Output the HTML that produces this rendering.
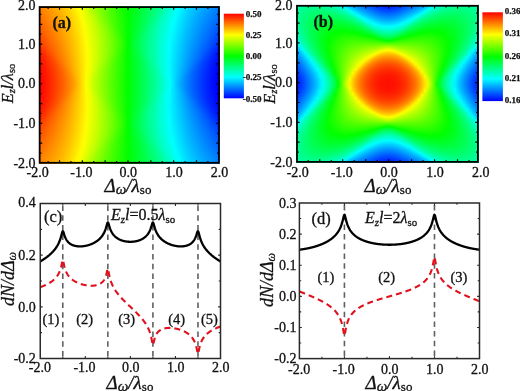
<!DOCTYPE html>
<html><head><meta charset="utf-8"><title>figure</title>
<style>
html,body{margin:0;padding:0;background:#fff}
body{width:520px;height:391px;position:relative;overflow:hidden;font-family:"Liberation Serif","DejaVu Serif",serif}
.hm{position:absolute;overflow:hidden}
.hm i{display:block;height:1px;width:100%}
svg{position:absolute;left:0;top:0}
text{font-family:"Liberation Serif","DejaVu Serif",serif;fill:#111;stroke:#111;stroke-width:.3px}
.t{font-size:14px}
.it{font-style:italic}
.cb{font-size:9px;font-weight:bold;stroke-width:.25px}
</style></head><body>
<div class="hm" style="left:39px;top:6px;width:181px;height:158px"><i style="background:linear-gradient(90deg,#ff8200,#ff8900,#ff9000,#ff9700,#ff9f00,#ffa600,#ffae00,#ffb700,#ffc000,#ffca00,#ffd500,#ffe100,#ffee00,#fffd00,#f1ff00,#dfff00,#ccff00,#b9ff00,#a8ff00,#98ff00,#88ff00,#78ff00,#69ff00,#5bff00,#4dff00,#40ff00,#33ff00,#26ff00,#1aff00,#0dff00,#00ff01,#00ff0d,#00ff19,#00ff25,#00ff32,#00ff3e,#00ff4c,#00ff59,#00ff67,#00ff75,#00ff84,#00ff94,#00ffa3,#00ffb4,#00ffc6,#00ffd9,#00ffea,#00fffa,#00f6ff,#00e9ff,#00ddff,#00d1ff,#00c7ff,#00beff,#00b5ff,#00acff,#00a4ff,#009cff,#0094ff,#008cff,#0085ff,#007dff)"></i><i style="background:linear-gradient(90deg,#ff8000,#ff8700,#ff8f00,#ff9600,#ff9d00,#ffa500,#ffad00,#ffb500,#ffbf00,#ffc900,#ffd300,#ffdf00,#ffec00,#fffb00,#f4ff00,#e2ff00,#cfff00,#bcff00,#aaff00,#99ff00,#89ff00,#7aff00,#6aff00,#5cff00,#4eff00,#40ff00,#33ff00,#26ff00,#1aff00,#0eff00,#00ff01,#00ff0d,#00ff19,#00ff26,#00ff32,#00ff3f,#00ff4c,#00ff5a,#00ff68,#00ff77,#00ff86,#00ff95,#00ffa5,#00ffb7,#00ffc9,#00ffdc,#00ffed,#00fffc,#00f4ff,#00e7ff,#00dbff,#00d0ff,#00c6ff,#00bcff,#00b3ff,#00aaff,#00a2ff,#009aff,#0092ff,#008bff,#0083ff,#007bff)"></i><i style="background:linear-gradient(90deg,#ff7e00,#ff8600,#ff8d00,#ff9400,#ff9c00,#ffa300,#ffab00,#ffb400,#ffbd00,#ffc700,#ffd200,#ffde00,#ffeb00,#fff900,#f6ff00,#e5ff00,#d2ff00,#beff00,#acff00,#9bff00,#8bff00,#7bff00,#6cff00,#5dff00,#4fff00,#41ff00,#34ff00,#27ff00,#1aff00,#0eff00,#00ff01,#00ff0d,#00ff1a,#00ff26,#00ff33,#00ff40,#00ff4d,#00ff5b,#00ff69,#00ff78,#00ff87,#00ff97,#00ffa8,#00ffb9,#00ffcd,#00ffdf,#00ffef,#00fffe,#00f2ff,#00e5ff,#00d9ff,#00ceff,#00c4ff,#00baff,#00b1ff,#00a9ff,#00a1ff,#0099ff,#0091ff,#0089ff,#0081ff,#0079ff)"></i><i style="background:linear-gradient(90deg,#ff7c00,#ff8400,#ff8b00,#ff9300,#ff9a00,#ffa200,#ffaa00,#ffb300,#ffbc00,#ffc600,#ffd100,#ffdc00,#ffe900,#fff700,#f8ff00,#e7ff00,#d5ff00,#c1ff00,#aeff00,#9dff00,#8cff00,#7cff00,#6dff00,#5eff00,#4fff00,#42ff00,#34ff00,#27ff00,#1aff00,#0eff00,#00ff01,#00ff0e,#00ff1a,#00ff26,#00ff33,#00ff41,#00ff4e,#00ff5c,#00ff6a,#00ff79,#00ff89,#00ff99,#00ffaa,#00ffbc,#00ffd0,#00ffe1,#00fff1,#00feff,#00f0ff,#00e3ff,#00d8ff,#00cdff,#00c2ff,#00b9ff,#00b0ff,#00a7ff,#009fff,#0097ff,#008fff,#0087ff,#007fff,#0077ff)"></i><i style="background:linear-gradient(90deg,#ff7a00,#ff8200,#ff8a00,#ff9100,#ff9900,#ffa000,#ffa900,#ffb100,#ffba00,#ffc400,#ffcf00,#ffdb00,#ffe800,#fff500,#faff00,#eaff00,#d8ff00,#c4ff00,#b1ff00,#9fff00,#8eff00,#7dff00,#6eff00,#5fff00,#50ff00,#42ff00,#35ff00,#27ff00,#1bff00,#0eff00,#00ff01,#00ff0e,#00ff1a,#00ff27,#00ff34,#00ff41,#00ff4f,#00ff5d,#00ff6c,#00ff7b,#00ff8b,#00ff9b,#00ffac,#00ffc0,#00ffd3,#00ffe4,#00fff3,#00fcff,#00eeff,#00e2ff,#00d6ff,#00cbff,#00c1ff,#00b7ff,#00aeff,#00a6ff,#009dff,#0095ff,#008dff,#0085ff,#007dff,#0075ff)"></i><i style="background:linear-gradient(90deg,#ff7900,#ff8000,#ff8800,#ff8f00,#ff9700,#ff9f00,#ffa700,#ffb000,#ffb900,#ffc300,#ffce00,#ffda00,#ffe600,#fff400,#fbff00,#ecff00,#dbff00,#c8ff00,#b3ff00,#a1ff00,#8fff00,#7fff00,#6fff00,#60ff00,#51ff00,#43ff00,#35ff00,#28ff00,#1bff00,#0eff00,#00ff01,#00ff0e,#00ff1a,#00ff27,#00ff35,#00ff42,#00ff50,#00ff5e,#00ff6d,#00ff7c,#00ff8c,#00ff9d,#00ffaf,#00ffc3,#00ffd5,#00ffe6,#00fff5,#00faff,#00edff,#00e0ff,#00d4ff,#00caff,#00bfff,#00b6ff,#00adff,#00a4ff,#009cff,#0093ff,#008bff,#0083ff,#007bff,#0073ff)"></i><i style="background:linear-gradient(90deg,#ff7700,#ff7f00,#ff8600,#ff8e00,#ff9600,#ff9d00,#ffa600,#ffae00,#ffb800,#ffc200,#ffcd00,#ffd800,#ffe500,#fff200,#fdff00,#eeff00,#ddff00,#cbff00,#b6ff00,#a3ff00,#91ff00,#80ff00,#70ff00,#61ff00,#52ff00,#44ff00,#36ff00,#28ff00,#1bff00,#0eff00,#00ff01,#00ff0e,#00ff1b,#00ff28,#00ff35,#00ff43,#00ff51,#00ff5f,#00ff6e,#00ff7e,#00ff8e,#00ff9f,#00ffb2,#00ffc6,#00ffd8,#00ffe8,#00fff7,#00f8ff,#00ebff,#00dfff,#00d3ff,#00c8ff,#00beff,#00b4ff,#00abff,#00a2ff,#009aff,#0092ff,#008aff,#0081ff,#0079ff,#0071ff)"></i><i style="background:linear-gradient(90deg,#ff7500,#ff7d00,#ff8500,#ff8c00,#ff9400,#ff9c00,#ffa400,#ffad00,#ffb600,#ffc000,#ffcb00,#ffd700,#ffe300,#fff100,#ffff00,#efff00,#dfff00,#cdff00,#baff00,#a5ff00,#93ff00,#82ff00,#72ff00,#62ff00,#53ff00,#45ff00,#36ff00,#29ff00,#1bff00,#0eff00,#00ff01,#00ff0e,#00ff1b,#00ff28,#00ff36,#00ff44,#00ff52,#00ff61,#00ff70,#00ff80,#00ff90,#00ffa2,#00ffb6,#00ffc9,#00ffda,#00ffea,#00fff9,#00f7ff,#00eaff,#00ddff,#00d2ff,#00c7ff,#00bcff,#00b3ff,#00aaff,#00a1ff,#0098ff,#0090ff,#0088ff,#0080ff,#0077ff,#006fff)"></i><i style="background:linear-gradient(90deg,#ff7300,#ff7b00,#ff8300,#ff8b00,#ff9300,#ff9b00,#ffa300,#ffac00,#ffb500,#ffbf00,#ffca00,#ffd600,#ffe200,#ffef00,#fffe00,#f1ff00,#e1ff00,#d0ff00,#bdff00,#a8ff00,#95ff00,#84ff00,#73ff00,#63ff00,#54ff00,#45ff00,#37ff00,#29ff00,#1cff00,#0eff00,#00ff01,#00ff0e,#00ff1b,#00ff29,#00ff36,#00ff44,#00ff53,#00ff62,#00ff71,#00ff81,#00ff92,#00ffa5,#00ffb9,#00ffcb,#00ffdc,#00ffec,#00fffb,#00f5ff,#00e8ff,#00dcff,#00d0ff,#00c5ff,#00bbff,#00b1ff,#00a8ff,#009fff,#0097ff,#008eff,#0086ff,#007eff,#0075ff,#006dff)"></i><i style="background:linear-gradient(90deg,#ff7100,#ff7900,#ff8100,#ff8900,#ff9100,#ff9900,#ffa200,#ffab00,#ffb400,#ffbe00,#ffc900,#ffd400,#ffe100,#ffee00,#fffc00,#f3ff00,#e3ff00,#d2ff00,#c0ff00,#abff00,#98ff00,#86ff00,#75ff00,#65ff00,#55ff00,#46ff00,#38ff00,#2aff00,#1cff00,#0fff00,#00ff01,#00ff0e,#00ff1c,#00ff29,#00ff37,#00ff45,#00ff54,#00ff63,#00ff73,#00ff83,#00ff95,#00ffa8,#00ffbc,#00ffce,#00ffde,#00ffee,#00fffc,#00f4ff,#00e7ff,#00daff,#00cfff,#00c4ff,#00baff,#00b0ff,#00a7ff,#009eff,#0095ff,#008dff,#0084ff,#007cff,#0073ff,#006bff)"></i><i style="background:linear-gradient(90deg,#ff6f00,#ff7800,#ff8000,#ff8800,#ff9000,#ff9800,#ffa000,#ffa900,#ffb300,#ffbd00,#ffc800,#ffd300,#ffe000,#ffed00,#fffb00,#f4ff00,#e4ff00,#d4ff00,#c2ff00,#afff00,#9aff00,#87ff00,#76ff00,#66ff00,#56ff00,#47ff00,#38ff00,#2aff00,#1cff00,#0fff00,#00ff01,#00ff0f,#00ff1c,#00ff2a,#00ff38,#00ff46,#00ff55,#00ff64,#00ff74,#00ff85,#00ff97,#00ffab,#00ffbe,#00ffd0,#00ffe0,#00ffef,#00fffe,#00f2ff,#00e5ff,#00d9ff,#00cdff,#00c2ff,#00b8ff,#00aeff,#00a5ff,#009cff,#0094ff,#008bff,#0083ff,#007aff,#0072ff,#0069ff)"></i><i style="background:linear-gradient(90deg,#ff6e00,#ff7600,#ff7e00,#ff8600,#ff8e00,#ff9600,#ff9f00,#ffa800,#ffb200,#ffbc00,#ffc600,#ffd200,#ffde00,#ffeb00,#fff900,#f6ff00,#e6ff00,#d6ff00,#c4ff00,#b2ff00,#9dff00,#8aff00,#78ff00,#67ff00,#57ff00,#48ff00,#39ff00,#2bff00,#1dff00,#0fff00,#00ff01,#00ff0f,#00ff1c,#00ff2a,#00ff39,#00ff47,#00ff56,#00ff66,#00ff76,#00ff87,#00ff9a,#00ffaf,#00ffc1,#00ffd2,#00ffe2,#00fff1,#00ffff,#00f1ff,#00e4ff,#00d8ff,#00ccff,#00c1ff,#00b7ff,#00adff,#00a4ff,#009bff,#0092ff,#0089ff,#0081ff,#0078ff,#0070ff,#0067ff)"></i><i style="background:linear-gradient(90deg,#ff6c00,#ff7400,#ff7c00,#ff8500,#ff8d00,#ff9500,#ff9e00,#ffa700,#ffb000,#ffba00,#ffc500,#ffd100,#ffdd00,#ffea00,#fff800,#f7ff00,#e8ff00,#d7ff00,#c6ff00,#b4ff00,#a0ff00,#8cff00,#7aff00,#69ff00,#58ff00,#49ff00,#3aff00,#2bff00,#1dff00,#0fff00,#00ff01,#00ff0f,#00ff1d,#00ff2b,#00ff39,#00ff48,#00ff57,#00ff67,#00ff78,#00ff8a,#00ff9e,#00ffb1,#00ffc3,#00ffd4,#00ffe3,#00fff3,#00fdff,#00efff,#00e2ff,#00d6ff,#00cbff,#00c0ff,#00b5ff,#00acff,#00a2ff,#0099ff,#0090ff,#0088ff,#007fff,#0076ff,#006eff,#0065ff)"></i><i style="background:linear-gradient(90deg,#ff6a00,#ff7200,#ff7b00,#ff8300,#ff8b00,#ff9400,#ff9c00,#ffa600,#ffaf00,#ffb900,#ffc400,#ffd000,#ffdc00,#ffe900,#fff700,#f8ff00,#e9ff00,#d9ff00,#c8ff00,#b6ff00,#a3ff00,#8fff00,#7cff00,#6aff00,#5aff00,#4aff00,#3bff00,#2cff00,#1dff00,#0fff00,#00ff01,#00ff0f,#00ff1d,#00ff2b,#00ff3a,#00ff49,#00ff59,#00ff69,#00ff7a,#00ff8d,#00ffa1,#00ffb4,#00ffc5,#00ffd5,#00ffe5,#00fff4,#00fcff,#00eeff,#00e1ff,#00d5ff,#00c9ff,#00beff,#00b4ff,#00aaff,#00a1ff,#0098ff,#008fff,#0086ff,#007dff,#0075ff,#006cff,#0063ff)"></i><i style="background:linear-gradient(90deg,#ff6800,#ff7100,#ff7900,#ff8100,#ff8a00,#ff9200,#ff9b00,#ffa400,#ffae00,#ffb800,#ffc300,#ffcf00,#ffdb00,#ffe800,#fff600,#faff00,#ebff00,#dbff00,#caff00,#b9ff00,#a6ff00,#91ff00,#7eff00,#6cff00,#5bff00,#4bff00,#3bff00,#2cff00,#1eff00,#0fff00,#00ff01,#00ff0f,#00ff1e,#00ff2c,#00ff3b,#00ff4a,#00ff5a,#00ff6b,#00ff7c,#00ff90,#00ffa4,#00ffb6,#00ffc7,#00ffd7,#00ffe7,#00fff5,#00faff,#00edff,#00e0ff,#00d4ff,#00c8ff,#00bdff,#00b3ff,#00a9ff,#009fff,#0096ff,#008dff,#0084ff,#007cff,#0073ff,#006aff,#0061ff)"></i><i style="background:linear-gradient(90deg,#ff6600,#ff6f00,#ff7700,#ff8000,#ff8800,#ff9100,#ff9a00,#ffa300,#ffad00,#ffb700,#ffc200,#ffcd00,#ffda00,#ffe700,#fff500,#fbff00,#ecff00,#dcff00,#ccff00,#bbff00,#a8ff00,#95ff00,#80ff00,#6eff00,#5cff00,#4cff00,#3cff00,#2dff00,#1eff00,#10ff00,#00ff01,#00ff0f,#00ff1e,#00ff2d,#00ff3c,#00ff4b,#00ff5c,#00ff6c,#00ff7f,#00ff93,#00ffa6,#00ffb8,#00ffc9,#00ffd9,#00ffe8,#00fff7,#00f9ff,#00ebff,#00dfff,#00d2ff,#00c7ff,#00bcff,#00b1ff,#00a7ff,#009eff,#0095ff,#008cff,#0083ff,#007aff,#0071ff,#0068ff,#005fff)"></i><i style="background:linear-gradient(90deg,#ff6400,#ff6d00,#ff7600,#ff7e00,#ff8700,#ff9000,#ff9900,#ffa200,#ffac00,#ffb600,#ffc100,#ffcc00,#ffd900,#ffe600,#fff300,#fcff00,#edff00,#deff00,#cdff00,#bcff00,#abff00,#98ff00,#83ff00,#70ff00,#5eff00,#4dff00,#3dff00,#2eff00,#1fff00,#10ff00,#00ff01,#00ff10,#00ff1e,#00ff2d,#00ff3d,#00ff4d,#00ff5d,#00ff6e,#00ff81,#00ff96,#00ffa8,#00ffba,#00ffca,#00ffda,#00ffea,#00fff8,#00f8ff,#00eaff,#00ddff,#00d1ff,#00c6ff,#00bbff,#00b0ff,#00a6ff,#009dff,#0093ff,#008aff,#0081ff,#0078ff,#006fff,#0066ff,#005dff)"></i><i style="background:linear-gradient(90deg,#ff6300,#ff6b00,#ff7400,#ff7d00,#ff8600,#ff8e00,#ff9700,#ffa100,#ffab00,#ffb500,#ffc000,#ffcb00,#ffd800,#ffe500,#fff200,#fdff00,#eeff00,#dfff00,#cfff00,#beff00,#adff00,#9aff00,#86ff00,#72ff00,#60ff00,#4eff00,#3eff00,#2eff00,#1fff00,#10ff00,#00ff01,#00ff10,#00ff1f,#00ff2e,#00ff3e,#00ff4e,#00ff5f,#00ff71,#00ff84,#00ff98,#00ffaa,#00ffbc,#00ffcc,#00ffdc,#00ffeb,#00fff9,#00f6ff,#00e9ff,#00dcff,#00d0ff,#00c4ff,#00b9ff,#00afff,#00a5ff,#009bff,#0092ff,#0089ff,#0080ff,#0077ff,#006dff,#0064ff,#005bff)"></i><i style="background:linear-gradient(90deg,#ff6100,#ff6a00,#ff7300,#ff7b00,#ff8400,#ff8d00,#ff9600,#ffa000,#ffa900,#ffb400,#ffbf00,#ffca00,#ffd700,#ffe400,#fff100,#feff00,#f0ff00,#e0ff00,#d0ff00,#c0ff00,#aeff00,#9cff00,#89ff00,#74ff00,#61ff00,#50ff00,#3fff00,#2fff00,#1fff00,#10ff00,#00ff01,#00ff10,#00ff1f,#00ff2f,#00ff3f,#00ff4f,#00ff60,#00ff73,#00ff88,#00ff9b,#00ffac,#00ffbd,#00ffcd,#00ffdd,#00ffec,#00fffb,#00f5ff,#00e8ff,#00dbff,#00cfff,#00c3ff,#00b8ff,#00aeff,#00a4ff,#009aff,#0090ff,#0087ff,#007eff,#0075ff,#006cff,#0062ff,#0059ff)"></i><i style="background:linear-gradient(90deg,#ff5f00,#ff6800,#ff7100,#ff7a00,#ff8300,#ff8c00,#ff9500,#ff9e00,#ffa800,#ffb300,#ffbe00,#ffc900,#ffd600,#ffe300,#fff000,#fffe00,#f1ff00,#e1ff00,#d1ff00,#c1ff00,#b0ff00,#9eff00,#8bff00,#77ff00,#63ff00,#51ff00,#40ff00,#30ff00,#20ff00,#10ff00,#00ff01,#00ff10,#00ff20,#00ff30,#00ff40,#00ff51,#00ff62,#00ff76,#00ff8a,#00ff9d,#00ffae,#00ffbf,#00ffcf,#00ffde,#00ffed,#00fffc,#00f4ff,#00e7ff,#00daff,#00ceff,#00c2ff,#00b7ff,#00acff,#00a2ff,#0098ff,#008fff,#0086ff,#007cff,#0073ff,#006aff,#0060ff,#0057ff)"></i><i style="background:linear-gradient(90deg,#ff5d00,#ff6600,#ff6f00,#ff7800,#ff8100,#ff8a00,#ff9400,#ff9d00,#ffa700,#ffb200,#ffbd00,#ffc800,#ffd500,#ffe200,#ffef00,#fffd00,#f2ff00,#e3ff00,#d3ff00,#c2ff00,#b2ff00,#a0ff00,#8eff00,#7aff00,#65ff00,#53ff00,#41ff00,#31ff00,#20ff00,#11ff00,#00ff01,#00ff11,#00ff20,#00ff30,#00ff41,#00ff52,#00ff65,#00ff79,#00ff8d,#00ff9f,#00ffb0,#00ffc0,#00ffd0,#00ffe0,#00ffef,#00fffd,#00f3ff,#00e6ff,#00d9ff,#00cdff,#00c1ff,#00b6ff,#00abff,#00a1ff,#0097ff,#008dff,#0084ff,#007bff,#0071ff,#0068ff,#005eff,#0054ff)"></i><i style="background:linear-gradient(90deg,#ff5b00,#ff6400,#ff6e00,#ff7700,#ff8000,#ff8900,#ff9200,#ff9c00,#ffa600,#ffb100,#ffbc00,#ffc700,#ffd400,#ffe100,#ffee00,#fffc00,#f3ff00,#e4ff00,#d4ff00,#c4ff00,#b3ff00,#a2ff00,#90ff00,#7dff00,#68ff00,#54ff00,#43ff00,#31ff00,#21ff00,#11ff00,#00ff01,#00ff11,#00ff21,#00ff31,#00ff42,#00ff54,#00ff67,#00ff7c,#00ff8f,#00ffa0,#00ffb1,#00ffc2,#00ffd2,#00ffe1,#00fff0,#00fffe,#00f2ff,#00e4ff,#00d8ff,#00cbff,#00c0ff,#00b5ff,#00aaff,#00a0ff,#0096ff,#008cff,#0082ff,#0079ff,#0070ff,#0066ff,#005cff,#0052ff)"></i><i style="background:linear-gradient(90deg,#ff5900,#ff6300,#ff6c00,#ff7500,#ff7e00,#ff8800,#ff9100,#ff9b00,#ffa500,#ffb000,#ffbb00,#ffc700,#ffd300,#ffe000,#ffed00,#fffb00,#f4ff00,#e5ff00,#d5ff00,#c5ff00,#b4ff00,#a3ff00,#92ff00,#7fff00,#6aff00,#56ff00,#44ff00,#32ff00,#22ff00,#11ff00,#00ff01,#00ff11,#00ff21,#00ff32,#00ff43,#00ff56,#00ff6a,#00ff7e,#00ff91,#00ffa2,#00ffb3,#00ffc3,#00ffd3,#00ffe2,#00fff1,#00ffff,#00f1ff,#00e3ff,#00d7ff,#00caff,#00bfff,#00b3ff,#00a9ff,#009eff,#0094ff,#008bff,#0081ff,#0077ff,#006eff,#0064ff,#005aff,#0050ff)"></i><i style="background:linear-gradient(90deg,#ff5700,#ff6100,#ff6a00,#ff7400,#ff7d00,#ff8600,#ff9000,#ff9a00,#ffa400,#ffaf00,#ffba00,#ffc600,#ffd200,#ffdf00,#ffec00,#fffb00,#f5ff00,#e6ff00,#d6ff00,#c6ff00,#b6ff00,#a5ff00,#93ff00,#81ff00,#6dff00,#58ff00,#45ff00,#33ff00,#22ff00,#11ff00,#00ff01,#00ff11,#00ff22,#00ff33,#00ff45,#00ff58,#00ff6d,#00ff80,#00ff92,#00ffa3,#00ffb4,#00ffc4,#00ffd4,#00ffe3,#00fff2,#00feff,#00f0ff,#00e2ff,#00d6ff,#00c9ff,#00beff,#00b2ff,#00a7ff,#009dff,#0093ff,#0089ff,#007fff,#0076ff,#006cff,#0062ff,#0058ff,#004eff)"></i><i style="background:linear-gradient(90deg,#ff5500,#ff5f00,#ff6900,#ff7200,#ff7b00,#ff8500,#ff8f00,#ff9900,#ffa300,#ffae00,#ffb900,#ffc500,#ffd100,#ffde00,#ffec00,#fffa00,#f6ff00,#e7ff00,#d7ff00,#c7ff00,#b7ff00,#a6ff00,#95ff00,#83ff00,#70ff00,#5bff00,#47ff00,#34ff00,#23ff00,#12ff00,#00ff01,#00ff12,#00ff23,#00ff34,#00ff46,#00ff5a,#00ff6f,#00ff82,#00ff94,#00ffa5,#00ffb5,#00ffc5,#00ffd5,#00ffe4,#00fff3,#00fdff,#00efff,#00e1ff,#00d5ff,#00c8ff,#00bcff,#00b1ff,#00a6ff,#009cff,#0092ff,#0088ff,#007eff,#0074ff,#006aff,#0060ff,#0056ff,#004cff)"></i><i style="background:linear-gradient(90deg,#ff5300,#ff5d00,#ff6700,#ff7000,#ff7a00,#ff8400,#ff8d00,#ff9700,#ffa200,#ffad00,#ffb800,#ffc400,#ffd000,#ffdd00,#ffeb00,#fff900,#f7ff00,#e8ff00,#d8ff00,#c8ff00,#b8ff00,#a7ff00,#96ff00,#85ff00,#72ff00,#5dff00,#49ff00,#36ff00,#24ff00,#12ff00,#00ff01,#00ff12,#00ff23,#00ff35,#00ff48,#00ff5d,#00ff71,#00ff84,#00ff95,#00ffa6,#00ffb7,#00ffc7,#00ffd6,#00ffe5,#00fff4,#00fcff,#00eeff,#00e0ff,#00d4ff,#00c7ff,#00bbff,#00b0ff,#00a5ff,#009aff,#0090ff,#0086ff,#007cff,#0072ff,#0069ff,#005eff,#0054ff,#004aff)"></i><i style="background:linear-gradient(90deg,#ff5100,#ff5b00,#ff6500,#ff6f00,#ff7900,#ff8200,#ff8c00,#ff9600,#ffa100,#ffac00,#ffb700,#ffc300,#ffcf00,#ffdc00,#ffea00,#fff800,#f8ff00,#e8ff00,#d9ff00,#c9ff00,#b9ff00,#a9ff00,#98ff00,#86ff00,#74ff00,#60ff00,#4bff00,#37ff00,#24ff00,#12ff00,#00ff01,#00ff12,#00ff24,#00ff37,#00ff4a,#00ff60,#00ff73,#00ff85,#00ff97,#00ffa7,#00ffb8,#00ffc8,#00ffd7,#00ffe6,#00fff5,#00fbff,#00edff,#00dfff,#00d3ff,#00c6ff,#00baff,#00afff,#00a4ff,#0099ff,#008fff,#0085ff,#007bff,#0071ff,#0067ff,#005dff,#0052ff,#0047ff)"></i><i style="background:linear-gradient(90deg,#ff4f00,#ff5900,#ff6300,#ff6d00,#ff7700,#ff8100,#ff8b00,#ff9500,#ffa000,#ffab00,#ffb600,#ffc200,#ffce00,#ffdb00,#ffe900,#fff700,#f8ff00,#e9ff00,#daff00,#caff00,#baff00,#aaff00,#99ff00,#87ff00,#75ff00,#62ff00,#4dff00,#38ff00,#25ff00,#13ff00,#00ff01,#00ff13,#00ff25,#00ff38,#00ff4d,#00ff62,#00ff75,#00ff87,#00ff98,#00ffa8,#00ffb9,#00ffc9,#00ffd8,#00ffe7,#00fff6,#00faff,#00ecff,#00deff,#00d2ff,#00c5ff,#00b9ff,#00aeff,#00a3ff,#0098ff,#008eff,#0083ff,#0079ff,#006fff,#0065ff,#005bff,#0050ff,#0045ff)"></i><i style="background:linear-gradient(90deg,#ff4d00,#ff5700,#ff6200,#ff6c00,#ff7600,#ff8000,#ff8a00,#ff9400,#ff9f00,#ffaa00,#ffb500,#ffc100,#ffce00,#ffdb00,#ffe800,#fff600,#f9ff00,#eaff00,#dbff00,#cbff00,#bbff00,#abff00,#9aff00,#89ff00,#77ff00,#64ff00,#4fff00,#3aff00,#26ff00,#13ff00,#00ff01,#00ff13,#00ff26,#00ff3a,#00ff4f,#00ff64,#00ff76,#00ff88,#00ff99,#00ffaa,#00ffba,#00ffc9,#00ffd9,#00ffe8,#00fff7,#00f9ff,#00ebff,#00deff,#00d1ff,#00c4ff,#00b8ff,#00adff,#00a1ff,#0097ff,#008cff,#0082ff,#0078ff,#006dff,#0063ff,#0059ff,#004eff,#0042ff)"></i><i style="background:linear-gradient(90deg,#ff4a00,#ff5500,#ff6000,#ff6a00,#ff7400,#ff7e00,#ff8800,#ff9300,#ff9e00,#ffa900,#ffb400,#ffc000,#ffcd00,#ffda00,#ffe800,#fff600,#faff00,#ebff00,#dcff00,#ccff00,#bcff00,#acff00,#9bff00,#8aff00,#78ff00,#65ff00,#52ff00,#3cff00,#27ff00,#14ff00,#00ff01,#00ff14,#00ff27,#00ff3c,#00ff51,#00ff65,#00ff77,#00ff89,#00ff9a,#00ffaa,#00ffbb,#00ffca,#00ffda,#00ffe9,#00fff8,#00f8ff,#00eaff,#00ddff,#00d0ff,#00c3ff,#00b7ff,#00acff,#00a0ff,#0095ff,#008bff,#0080ff,#0076ff,#006cff,#0061ff,#0056ff,#004bff,#0040ff)"></i><i style="background:linear-gradient(90deg,#ff4800,#ff5300,#ff5e00,#ff6800,#ff7300,#ff7d00,#ff8700,#ff9200,#ff9d00,#ffa800,#ffb300,#ffbf00,#ffcc00,#ffd900,#ffe700,#fff500,#fbff00,#ecff00,#dcff00,#cdff00,#bdff00,#acff00,#9cff00,#8bff00,#79ff00,#67ff00,#53ff00,#3eff00,#28ff00,#14ff00,#00ff01,#00ff14,#00ff28,#00ff3e,#00ff53,#00ff66,#00ff79,#00ff8a,#00ff9b,#00ffab,#00ffbb,#00ffcb,#00ffdb,#00ffea,#00fff8,#00f7ff,#00e9ff,#00dcff,#00cfff,#00c2ff,#00b6ff,#00aaff,#009fff,#0094ff,#0089ff,#007fff,#0074ff,#006aff,#005fff,#0054ff,#0049ff,#003dff)"></i><i style="background:linear-gradient(90deg,#ff4600,#ff5100,#ff5c00,#ff6700,#ff7100,#ff7b00,#ff8600,#ff9100,#ff9b00,#ffa700,#ffb200,#ffbf00,#ffcb00,#ffd800,#ffe600,#fff400,#fbff00,#ecff00,#ddff00,#cdff00,#bdff00,#adff00,#9dff00,#8cff00,#7aff00,#68ff00,#55ff00,#40ff00,#2aff00,#15ff00,#00ff01,#00ff15,#00ff2a,#00ff40,#00ff55,#00ff68,#00ff7a,#00ff8b,#00ff9c,#00ffac,#00ffbc,#00ffcc,#00ffdb,#00ffeb,#00fff9,#00f6ff,#00e8ff,#00dbff,#00ceff,#00c1ff,#00b5ff,#00a9ff,#009eff,#0093ff,#0088ff,#007dff,#0073ff,#0068ff,#005dff,#0052ff,#0047ff,#003bff)"></i><i style="background:linear-gradient(90deg,#ff4400,#ff4f00,#ff5a00,#ff6500,#ff7000,#ff7a00,#ff8500,#ff8f00,#ff9a00,#ffa600,#ffb200,#ffbe00,#ffca00,#ffd800,#ffe500,#fff300,#fcff00,#edff00,#deff00,#ceff00,#beff00,#aeff00,#9dff00,#8cff00,#7bff00,#69ff00,#56ff00,#42ff00,#2cff00,#16ff00,#00ff01,#00ff16,#00ff2c,#00ff42,#00ff56,#00ff69,#00ff7a,#00ff8c,#00ff9d,#00ffad,#00ffbd,#00ffcd,#00ffdc,#00ffeb,#00fffa,#00f6ff,#00e8ff,#00daff,#00cdff,#00c0ff,#00b4ff,#00a8ff,#009dff,#0092ff,#0087ff,#007cff,#0071ff,#0066ff,#005bff,#0050ff,#0044ff,#0038ff)"></i><i style="background:linear-gradient(90deg,#ff4100,#ff4d00,#ff5800,#ff6300,#ff6e00,#ff7900,#ff8300,#ff8e00,#ff9900,#ffa500,#ffb100,#ffbd00,#ffca00,#ffd700,#ffe500,#fff300,#fdff00,#eeff00,#deff00,#cfff00,#bfff00,#aeff00,#9eff00,#8dff00,#7cff00,#6aff00,#57ff00,#43ff00,#2dff00,#16ff00,#00ff01,#00ff17,#00ff2d,#00ff43,#00ff57,#00ff69,#00ff7b,#00ff8c,#00ff9d,#00ffae,#00ffbe,#00ffcd,#00ffdd,#00ffec,#00fffb,#00f5ff,#00e7ff,#00d9ff,#00ccff,#00bfff,#00b3ff,#00a7ff,#009cff,#0090ff,#0085ff,#007aff,#0070ff,#0065ff,#0059ff,#004eff,#0042ff,#0035ff)"></i><i style="background:linear-gradient(90deg,#ff3f00,#ff4b00,#ff5600,#ff6100,#ff6c00,#ff7700,#ff8200,#ff8d00,#ff9800,#ffa400,#ffb000,#ffbc00,#ffc900,#ffd600,#ffe400,#fff200,#fdff00,#eeff00,#dfff00,#cfff00,#bfff00,#afff00,#9fff00,#8eff00,#7cff00,#6aff00,#58ff00,#44ff00,#2fff00,#18ff00,#00ff01,#00ff18,#00ff2f,#00ff44,#00ff58,#00ff6a,#00ff7c,#00ff8d,#00ff9e,#00ffae,#00ffbe,#00ffce,#00ffdd,#00ffed,#00fffb,#00f4ff,#00e6ff,#00d8ff,#00cbff,#00beff,#00b2ff,#00a6ff,#009aff,#008fff,#0084ff,#0079ff,#006eff,#0063ff,#0057ff,#004cff,#003fff,#0032ff)"></i><i style="background:linear-gradient(90deg,#ff3c00,#ff4800,#ff5400,#ff6000,#ff6b00,#ff7600,#ff8100,#ff8c00,#ff9700,#ffa300,#ffaf00,#ffbb00,#ffc800,#ffd600,#ffe300,#fff200,#feff00,#efff00,#dfff00,#d0ff00,#c0ff00,#b0ff00,#9fff00,#8eff00,#7dff00,#6bff00,#58ff00,#45ff00,#30ff00,#19ff00,#00ff01,#00ff19,#00ff30,#00ff45,#00ff58,#00ff6b,#00ff7d,#00ff8e,#00ff9e,#00ffaf,#00ffbf,#00ffcf,#00ffde,#00ffed,#00fffc,#00f3ff,#00e5ff,#00d8ff,#00caff,#00beff,#00b1ff,#00a5ff,#0099ff,#008eff,#0083ff,#0077ff,#006cff,#0061ff,#0055ff,#0049ff,#003dff,#002fff)"></i><i style="background:linear-gradient(90deg,#ff3900,#ff4600,#ff5200,#ff5e00,#ff6900,#ff7400,#ff7f00,#ff8b00,#ff9600,#ffa200,#ffae00,#ffbb00,#ffc800,#ffd500,#ffe300,#fff100,#feff00,#efff00,#e0ff00,#d0ff00,#c0ff00,#b0ff00,#9fff00,#8fff00,#7dff00,#6bff00,#59ff00,#46ff00,#31ff00,#1aff00,#00ff01,#00ff1a,#00ff31,#00ff46,#00ff59,#00ff6b,#00ff7d,#00ff8e,#00ff9f,#00ffaf,#00ffbf,#00ffcf,#00ffdf,#00ffee,#00fffd,#00f3ff,#00e5ff,#00d7ff,#00caff,#00bdff,#00b0ff,#00a4ff,#0098ff,#008dff,#0081ff,#0076ff,#006aff,#005fff,#0053ff,#0047ff,#003aff,#002bff)"></i><i style="background:linear-gradient(90deg,#ff3600,#ff4400,#ff5000,#ff5c00,#ff6700,#ff7300,#ff7e00,#ff8900,#ff9500,#ffa100,#ffad00,#ffba00,#ffc700,#ffd400,#ffe200,#fff000,#ffff00,#f0ff00,#e0ff00,#d1ff00,#c1ff00,#b0ff00,#a0ff00,#8fff00,#7eff00,#6cff00,#59ff00,#46ff00,#31ff00,#1bff00,#00ff01,#00ff1b,#00ff31,#00ff46,#00ff59,#00ff6c,#00ff7d,#00ff8f,#00ff9f,#00ffb0,#00ffc0,#00ffd0,#00ffdf,#00ffee,#00fffd,#00f2ff,#00e4ff,#00d6ff,#00c9ff,#00bcff,#00afff,#00a3ff,#0097ff,#008bff,#0080ff,#0074ff,#0069ff,#005dff,#0051ff,#0044ff,#0037ff,#0028ff)"></i><i style="background:linear-gradient(90deg,#ff3300,#ff4100,#ff4e00,#ff5a00,#ff6600,#ff7100,#ff7d00,#ff8800,#ff9400,#ffa000,#ffac00,#ffb900,#ffc600,#ffd400,#ffe200,#fff000,#ffff00,#f0ff00,#e1ff00,#d1ff00,#c1ff00,#b1ff00,#a0ff00,#8fff00,#7eff00,#6cff00,#59ff00,#46ff00,#31ff00,#1bff00,#00ff01,#00ff1b,#00ff31,#00ff46,#00ff59,#00ff6c,#00ff7e,#00ff8f,#00ffa0,#00ffb0,#00ffc0,#00ffd0,#00ffe0,#00ffef,#00fffe,#00f1ff,#00e3ff,#00d5ff,#00c8ff,#00bbff,#00aeff,#00a2ff,#0096ff,#008aff,#007eff,#0073ff,#0067ff,#005bff,#004fff,#0042ff,#0034ff,#0024ff)"></i><i style="background:linear-gradient(90deg,#ff2f00,#ff3e00,#ff4b00,#ff5800,#ff6400,#ff7000,#ff7b00,#ff8700,#ff9300,#ff9f00,#ffab00,#ffb800,#ffc500,#ffd300,#ffe100,#ffef00,#fffe00,#f1ff00,#e1ff00,#d1ff00,#c1ff00,#b1ff00,#a0ff00,#8fff00,#7eff00,#6cff00,#59ff00,#46ff00,#31ff00,#1aff00,#00ff01,#00ff1a,#00ff31,#00ff46,#00ff59,#00ff6c,#00ff7e,#00ff8f,#00ffa0,#00ffb0,#00ffc1,#00ffd1,#00ffe0,#00ffef,#00fffe,#00f1ff,#00e3ff,#00d5ff,#00c7ff,#00baff,#00adff,#00a1ff,#0095ff,#0089ff,#007dff,#0071ff,#0065ff,#0059ff,#004cff,#003fff,#0030ff,#0020ff)"></i><i style="background:linear-gradient(90deg,#ff2c00,#ff3b00,#ff4900,#ff5600,#ff6200,#ff6e00,#ff7a00,#ff8600,#ff9200,#ff9e00,#ffab00,#ffb700,#ffc500,#ffd200,#ffe000,#ffef00,#fffe00,#f1ff00,#e2ff00,#d2ff00,#c2ff00,#b1ff00,#a1ff00,#90ff00,#7eff00,#6cff00,#59ff00,#46ff00,#31ff00,#19ff00,#00ff01,#00ff19,#00ff31,#00ff46,#00ff59,#00ff6c,#00ff7e,#00ff8f,#00ffa0,#00ffb1,#00ffc1,#00ffd1,#00ffe1,#00fff0,#00ffff,#00f0ff,#00e2ff,#00d4ff,#00c6ff,#00b9ff,#00acff,#00a0ff,#0093ff,#0087ff,#007bff,#006fff,#0063ff,#0057ff,#004aff,#003cff,#002cff,#001dff)"></i><i style="background:linear-gradient(90deg,#ff2800,#ff3800,#ff4600,#ff5400,#ff6000,#ff6c00,#ff7800,#ff8400,#ff9100,#ff9d00,#ffaa00,#ffb700,#ffc400,#ffd200,#ffe000,#ffee00,#fffd00,#f1ff00,#e2ff00,#d2ff00,#c2ff00,#b1ff00,#a1ff00,#90ff00,#7eff00,#6cff00,#59ff00,#45ff00,#30ff00,#18ff00,#00ff01,#00ff18,#00ff30,#00ff45,#00ff59,#00ff6c,#00ff7e,#00ff8f,#00ffa0,#00ffb1,#00ffc1,#00ffd1,#00ffe1,#00fff0,#00feff,#00f0ff,#00e1ff,#00d3ff,#00c6ff,#00b8ff,#00abff,#009fff,#0092ff,#0086ff,#007aff,#006eff,#0061ff,#0054ff,#0047ff,#0039ff,#0028ff,#001aff)"></i><i style="background:linear-gradient(90deg,#ff2500,#ff3400,#ff4400,#ff5100,#ff5e00,#ff6b00,#ff7700,#ff8300,#ff8f00,#ff9c00,#ffa900,#ffb600,#ffc300,#ffd100,#ffdf00,#ffee00,#fffd00,#f2ff00,#e2ff00,#d2ff00,#c2ff00,#b2ff00,#a1ff00,#90ff00,#7eff00,#6cff00,#59ff00,#45ff00,#2fff00,#17ff00,#00ff01,#00ff17,#00ff2f,#00ff45,#00ff59,#00ff6c,#00ff7e,#00ff8f,#00ffa0,#00ffb1,#00ffc1,#00ffd2,#00ffe1,#00fff1,#00feff,#00efff,#00e1ff,#00d3ff,#00c5ff,#00b7ff,#00aaff,#009dff,#0091ff,#0084ff,#0078ff,#006cff,#005fff,#0052ff,#0044ff,#0035ff,#0025ff,#0018ff)"></i><i style="background:linear-gradient(90deg,#ff2200,#ff3100,#ff4100,#ff4f00,#ff5c00,#ff6900,#ff7500,#ff8200,#ff8e00,#ff9b00,#ffa800,#ffb500,#ffc300,#ffd100,#ffdf00,#ffed00,#fffd00,#f2ff00,#e2ff00,#d2ff00,#c2ff00,#b2ff00,#a1ff00,#8fff00,#7eff00,#6bff00,#58ff00,#43ff00,#2dff00,#16ff00,#00ff01,#00ff16,#00ff2d,#00ff44,#00ff58,#00ff6b,#00ff7d,#00ff8f,#00ffa0,#00ffb1,#00ffc2,#00ffd2,#00ffe2,#00fff1,#00feff,#00efff,#00e0ff,#00d2ff,#00c4ff,#00b6ff,#00a9ff,#009cff,#0090ff,#0083ff,#0077ff,#006aff,#005dff,#0050ff,#0041ff,#0031ff,#0022ff,#0015ff)"></i><i style="background:linear-gradient(90deg,#ff1f00,#ff2d00,#ff3d00,#ff4c00,#ff5a00,#ff6700,#ff7400,#ff8100,#ff8d00,#ff9a00,#ffa700,#ffb400,#ffc200,#ffd000,#ffde00,#ffed00,#fffc00,#f2ff00,#e3ff00,#d3ff00,#c2ff00,#b2ff00,#a1ff00,#8fff00,#7dff00,#6bff00,#57ff00,#42ff00,#2bff00,#15ff00,#00ff01,#00ff16,#00ff2b,#00ff42,#00ff57,#00ff6b,#00ff7d,#00ff8f,#00ffa0,#00ffb1,#00ffc2,#00ffd2,#00ffe2,#00fff2,#00fdff,#00eeff,#00dfff,#00d1ff,#00c3ff,#00b6ff,#00a8ff,#009bff,#008eff,#0082ff,#0075ff,#0068ff,#005bff,#004dff,#003eff,#002eff,#0020ff,#0013ff)"></i><i style="background:linear-gradient(90deg,#ff1d00,#ff2a00,#ff3a00,#ff4a00,#ff5800,#ff6500,#ff7200,#ff7f00,#ff8c00,#ff9900,#ffa600,#ffb300,#ffc100,#ffcf00,#ffde00,#ffed00,#fffc00,#f3ff00,#e3ff00,#d3ff00,#c2ff00,#b2ff00,#a0ff00,#8fff00,#7dff00,#6aff00,#56ff00,#40ff00,#2aff00,#15ff00,#00ff01,#00ff15,#00ff2a,#00ff40,#00ff56,#00ff6a,#00ff7d,#00ff8f,#00ffa0,#00ffb1,#00ffc2,#00ffd2,#00ffe2,#00fff2,#00fdff,#00eeff,#00dfff,#00d0ff,#00c2ff,#00b5ff,#00a7ff,#009aff,#008dff,#0080ff,#0073ff,#0066ff,#0059ff,#004aff,#003aff,#002bff,#001dff,#0010ff)"></i><i style="background:linear-gradient(90deg,#ff1a00,#ff2800,#ff3600,#ff4700,#ff5600,#ff6300,#ff7100,#ff7e00,#ff8b00,#ff9800,#ffa500,#ffb300,#ffc100,#ffcf00,#ffdd00,#ffec00,#fffc00,#f3ff00,#e3ff00,#d3ff00,#c2ff00,#b1ff00,#a0ff00,#8eff00,#7cff00,#69ff00,#55ff00,#3eff00,#29ff00,#14ff00,#00ff01,#00ff15,#00ff29,#00ff3e,#00ff55,#00ff69,#00ff7c,#00ff8e,#00ffa0,#00ffb1,#00ffc2,#00ffd2,#00ffe2,#00fff2,#00fcff,#00edff,#00deff,#00d0ff,#00c2ff,#00b4ff,#00a6ff,#0099ff,#008cff,#007fff,#0072ff,#0064ff,#0056ff,#0047ff,#0037ff,#0028ff,#001bff,#000eff)"></i><i style="background:linear-gradient(90deg,#ff1800,#ff2500,#ff3300,#ff4300,#ff5300,#ff6100,#ff6f00,#ff7c00,#ff8900,#ff9700,#ffa400,#ffb200,#ffc000,#ffce00,#ffdd00,#ffec00,#fffb00,#f3ff00,#e3ff00,#d3ff00,#c2ff00,#b1ff00,#a0ff00,#8eff00,#7bff00,#68ff00,#53ff00,#3dff00,#28ff00,#14ff00,#00ff01,#00ff14,#00ff28,#00ff3d,#00ff53,#00ff68,#00ff7b,#00ff8e,#00ffa0,#00ffb1,#00ffc2,#00ffd2,#00ffe2,#00fff2,#00fcff,#00edff,#00deff,#00cfff,#00c1ff,#00b3ff,#00a5ff,#0098ff,#008aff,#007dff,#0070ff,#0062ff,#0054ff,#0044ff,#0034ff,#0026ff,#0019ff,#000cff)"></i><i style="background:linear-gradient(90deg,#ff1600,#ff2300,#ff3000,#ff4000,#ff5000,#ff5f00,#ff6d00,#ff7b00,#ff8800,#ff9600,#ffa300,#ffb100,#ffbf00,#ffce00,#ffdc00,#ffec00,#fffb00,#f3ff00,#e3ff00,#d3ff00,#c2ff00,#b1ff00,#9fff00,#8dff00,#7bff00,#67ff00,#51ff00,#3bff00,#27ff00,#14ff00,#00ff01,#00ff14,#00ff27,#00ff3b,#00ff51,#00ff67,#00ff7a,#00ff8d,#00ff9f,#00ffb1,#00ffc2,#00ffd2,#00ffe3,#00fff3,#00fcff,#00ecff,#00ddff,#00cfff,#00c0ff,#00b2ff,#00a4ff,#0097ff,#0089ff,#007cff,#006eff,#0060ff,#0051ff,#0040ff,#0031ff,#0023ff,#0017ff,#000bff)"></i><i style="background:linear-gradient(90deg,#ff1400,#ff2100,#ff2e00,#ff3d00,#ff4d00,#ff5d00,#ff6b00,#ff7900,#ff8700,#ff9500,#ffa200,#ffb000,#ffbf00,#ffcd00,#ffdc00,#ffeb00,#fffb00,#f3ff00,#e3ff00,#d3ff00,#c2ff00,#b1ff00,#9fff00,#8dff00,#79ff00,#65ff00,#4fff00,#3aff00,#26ff00,#13ff00,#00ff01,#00ff13,#00ff26,#00ff3a,#00ff4f,#00ff65,#00ff79,#00ff8c,#00ff9f,#00ffb0,#00ffc1,#00ffd2,#00ffe3,#00fff3,#00fbff,#00ecff,#00ddff,#00ceff,#00bfff,#00b1ff,#00a3ff,#0095ff,#0088ff,#007aff,#006cff,#005dff,#004eff,#003dff,#002eff,#0021ff,#0015ff,#0009ff)"></i><i style="background:linear-gradient(90deg,#ff1300,#ff1f00,#ff2c00,#ff3a00,#ff4a00,#ff5a00,#ff6900,#ff7800,#ff8500,#ff9300,#ffa100,#ffaf00,#ffbe00,#ffcd00,#ffdc00,#ffeb00,#fffb00,#f3ff00,#e3ff00,#d3ff00,#c2ff00,#b0ff00,#9eff00,#8cff00,#78ff00,#63ff00,#4dff00,#39ff00,#26ff00,#13ff00,#00ff01,#00ff13,#00ff26,#00ff39,#00ff4d,#00ff63,#00ff78,#00ff8c,#00ff9e,#00ffb0,#00ffc1,#00ffd2,#00ffe3,#00fff3,#00fbff,#00ecff,#00dcff,#00cdff,#00bfff,#00b0ff,#00a2ff,#0094ff,#0086ff,#0078ff,#006aff,#005bff,#004aff,#003aff,#002cff,#001fff,#0013ff,#0007ff)"></i><i style="background:linear-gradient(90deg,#ff1100,#ff1d00,#ff2a00,#ff3700,#ff4700,#ff5800,#ff6700,#ff7600,#ff8400,#ff9200,#ffa000,#ffaf00,#ffbd00,#ffcc00,#ffdb00,#ffeb00,#fffa00,#f4ff00,#e3ff00,#d2ff00,#c1ff00,#b0ff00,#9dff00,#8bff00,#77ff00,#61ff00,#4cff00,#38ff00,#25ff00,#13ff00,#00ff01,#00ff13,#00ff25,#00ff38,#00ff4c,#00ff61,#00ff77,#00ff8b,#00ff9d,#00ffaf,#00ffc1,#00ffd2,#00ffe3,#00fff3,#00fbff,#00ebff,#00dcff,#00cdff,#00beff,#00afff,#00a1ff,#0093ff,#0085ff,#0076ff,#0068ff,#0058ff,#0047ff,#0038ff,#002aff,#001dff,#0011ff,#0006ff)"></i><i style="background:linear-gradient(90deg,#ff0f00,#ff1b00,#ff2800,#ff3500,#ff4400,#ff5500,#ff6500,#ff7400,#ff8300,#ff9100,#ff9f00,#ffae00,#ffbc00,#ffcb00,#ffdb00,#ffea00,#fffa00,#f4ff00,#e3ff00,#d2ff00,#c1ff00,#afff00,#9dff00,#89ff00,#75ff00,#5fff00,#4aff00,#37ff00,#25ff00,#12ff00,#00ff01,#00ff13,#00ff25,#00ff37,#00ff4a,#00ff5f,#00ff75,#00ff89,#00ff9d,#00ffaf,#00ffc1,#00ffd2,#00ffe3,#00fff3,#00fbff,#00ebff,#00dbff,#00ccff,#00bdff,#00aeff,#00a0ff,#0092ff,#0083ff,#0075ff,#0065ff,#0055ff,#0044ff,#0035ff,#0028ff,#001bff,#000fff,#0004ff)"></i><i style="background:linear-gradient(90deg,#ff0e00,#ff1900,#ff2600,#ff3300,#ff4100,#ff5100,#ff6200,#ff7200,#ff8100,#ff9000,#ff9e00,#ffad00,#ffbc00,#ffcb00,#ffda00,#ffea00,#fffa00,#f4ff00,#e3ff00,#d2ff00,#c0ff00,#aeff00,#9cff00,#88ff00,#72ff00,#5dff00,#49ff00,#36ff00,#24ff00,#12ff00,#00ff01,#00ff12,#00ff24,#00ff36,#00ff49,#00ff5d,#00ff73,#00ff88,#00ff9c,#00ffae,#00ffc0,#00ffd2,#00ffe3,#00fff3,#00fbff,#00ebff,#00dbff,#00cbff,#00bcff,#00aeff,#009fff,#0090ff,#0082ff,#0073ff,#0063ff,#0052ff,#0041ff,#0033ff,#0026ff,#001aff,#000eff,#0003ff)"></i><i style="background:linear-gradient(90deg,#ff0c00,#ff1800,#ff2400,#ff3100,#ff3f00,#ff4e00,#ff6000,#ff7000,#ff7f00,#ff8e00,#ff9d00,#ffac00,#ffbb00,#ffca00,#ffda00,#ffea00,#fffa00,#f4ff00,#e3ff00,#d1ff00,#c0ff00,#adff00,#9aff00,#86ff00,#70ff00,#5bff00,#48ff00,#36ff00,#24ff00,#12ff00,#00ff01,#00ff12,#00ff24,#00ff36,#00ff48,#00ff5c,#00ff70,#00ff86,#00ff9a,#00ffad,#00ffc0,#00ffd1,#00ffe2,#00fff3,#00faff,#00eaff,#00daff,#00cbff,#00bcff,#00adff,#009eff,#008fff,#0080ff,#0070ff,#0060ff,#004fff,#003fff,#0031ff,#0024ff,#0018ff,#000cff,#0001ff)"></i><i style="background:linear-gradient(90deg,#ff0b00,#ff1600,#ff2200,#ff2f00,#ff3d00,#ff4c00,#ff5d00,#ff6e00,#ff7e00,#ff8d00,#ff9c00,#ffab00,#ffba00,#ffca00,#ffda00,#ffea00,#fffa00,#f3ff00,#e2ff00,#d1ff00,#bfff00,#adff00,#99ff00,#84ff00,#6eff00,#5aff00,#47ff00,#35ff00,#23ff00,#12ff00,#00ff01,#00ff12,#00ff23,#00ff35,#00ff47,#00ff5a,#00ff6e,#00ff84,#00ff99,#00ffac,#00ffbf,#00ffd1,#00ffe2,#00fff3,#00faff,#00eaff,#00daff,#00caff,#00bbff,#00acff,#009cff,#008dff,#007eff,#006eff,#005dff,#004cff,#003dff,#002fff,#0023ff,#0017ff,#000bff,#0000ff)"></i><i style="background:linear-gradient(90deg,#ff0a00,#ff1500,#ff2100,#ff2d00,#ff3b00,#ff4900,#ff5900,#ff6b00,#ff7c00,#ff8b00,#ff9b00,#ffaa00,#ffba00,#ffc900,#ffd900,#ffe900,#fffa00,#f3ff00,#e2ff00,#d0ff00,#beff00,#abff00,#98ff00,#82ff00,#6dff00,#59ff00,#46ff00,#34ff00,#23ff00,#12ff00,#00ff01,#00ff12,#00ff23,#00ff35,#00ff47,#00ff59,#00ff6d,#00ff82,#00ff98,#00ffab,#00ffbe,#00ffd0,#00ffe2,#00fff3,#00faff,#00eaff,#00daff,#00caff,#00baff,#00abff,#009bff,#008cff,#007cff,#006cff,#005aff,#0049ff,#003bff,#002eff,#0021ff,#0015ff,#000aff,#0000ff)"></i><i style="background:linear-gradient(90deg,#ff0800,#ff1400,#ff2000,#ff2c00,#ff3900,#ff4700,#ff5700,#ff6900,#ff7a00,#ff8a00,#ff9a00,#ffa900,#ffb900,#ffc900,#ffd900,#ffe900,#fffa00,#f3ff00,#e2ff00,#d0ff00,#bdff00,#aaff00,#96ff00,#80ff00,#6bff00,#58ff00,#46ff00,#34ff00,#23ff00,#11ff00,#00ff01,#00ff12,#00ff23,#00ff34,#00ff46,#00ff58,#00ff6b,#00ff80,#00ff96,#00ffaa,#00ffbd,#00ffd0,#00ffe2,#00fff3,#00faff,#00e9ff,#00d9ff,#00c9ff,#00b9ff,#00aaff,#009aff,#008aff,#007aff,#0069ff,#0057ff,#0047ff,#0039ff,#002cff,#0020ff,#0014ff,#0009ff,#0000ff)"></i><i style="background:linear-gradient(90deg,#ff0700,#ff1300,#ff1e00,#ff2a00,#ff3700,#ff4500,#ff5400,#ff6500,#ff7800,#ff8800,#ff9800,#ffa800,#ffb800,#ffc800,#ffd800,#ffe900,#fffa00,#f3ff00,#e1ff00,#cfff00,#bdff00,#a9ff00,#93ff00,#7eff00,#6aff00,#57ff00,#45ff00,#34ff00,#22ff00,#11ff00,#00ff01,#00ff11,#00ff22,#00ff34,#00ff45,#00ff57,#00ff6a,#00ff7e,#00ff93,#00ffa9,#00ffbc,#00ffcf,#00ffe1,#00fff3,#00faff,#00e9ff,#00d9ff,#00c8ff,#00b8ff,#00a9ff,#0099ff,#0089ff,#0078ff,#0066ff,#0055ff,#0045ff,#0038ff,#002bff,#001eff,#0013ff,#0007ff,#0000ff)"></i><i style="background:linear-gradient(90deg,#ff0600,#ff1100,#ff1d00,#ff2900,#ff3600,#ff4300,#ff5200,#ff6300,#ff7500,#ff8700,#ff9700,#ffa700,#ffb700,#ffc800,#ffd800,#ffe900,#fffa00,#f3ff00,#e1ff00,#ceff00,#bbff00,#a7ff00,#91ff00,#7cff00,#69ff00,#56ff00,#44ff00,#33ff00,#22ff00,#11ff00,#00ff01,#00ff11,#00ff22,#00ff33,#00ff45,#00ff56,#00ff69,#00ff7c,#00ff91,#00ffa7,#00ffbb,#00ffce,#00ffe1,#00fff3,#00faff,#00e9ff,#00d8ff,#00c8ff,#00b8ff,#00a7ff,#0097ff,#0087ff,#0075ff,#0063ff,#0052ff,#0044ff,#0036ff,#0029ff,#001dff,#0011ff,#0006ff,#0000ff)"></i><i style="background:linear-gradient(90deg,#ff0500,#ff1000,#ff1c00,#ff2800,#ff3400,#ff4200,#ff5000,#ff6000,#ff7200,#ff8500,#ff9600,#ffa600,#ffb700,#ffc700,#ffd800,#ffe900,#fffa00,#f2ff00,#e0ff00,#ceff00,#baff00,#a5ff00,#8fff00,#7bff00,#68ff00,#56ff00,#44ff00,#33ff00,#22ff00,#11ff00,#00ff01,#00ff11,#00ff22,#00ff33,#00ff44,#00ff56,#00ff68,#00ff7b,#00ff8f,#00ffa5,#00ffba,#00ffce,#00ffe0,#00fff2,#00faff,#00e9ff,#00d8ff,#00c7ff,#00b7ff,#00a6ff,#0096ff,#0085ff,#0072ff,#0060ff,#0050ff,#0042ff,#0035ff,#0028ff,#001cff,#0010ff,#0005ff,#0000ff)"></i><i style="background:linear-gradient(90deg,#ff0400,#ff0f00,#ff1b00,#ff2700,#ff3300,#ff4000,#ff4f00,#ff5e00,#ff6f00,#ff8200,#ff9400,#ffa500,#ffb600,#ffc600,#ffd700,#ffe900,#fffa00,#f2ff00,#e0ff00,#cdff00,#b9ff00,#a3ff00,#8dff00,#7aff00,#67ff00,#55ff00,#43ff00,#32ff00,#22ff00,#11ff00,#00ff01,#00ff11,#00ff22,#00ff33,#00ff44,#00ff55,#00ff67,#00ff7a,#00ff8d,#00ffa3,#00ffb9,#00ffcd,#00ffe0,#00fff2,#00faff,#00e9ff,#00d8ff,#00c7ff,#00b6ff,#00a5ff,#0094ff,#0083ff,#0070ff,#005eff,#004fff,#0041ff,#0033ff,#0027ff,#001bff,#000fff,#0004ff,#0000ff)"></i><i style="background:linear-gradient(90deg,#ff0300,#ff0e00,#ff1a00,#ff2600,#ff3200,#ff3f00,#ff4d00,#ff5c00,#ff6d00,#ff8000,#ff9200,#ffa400,#ffb500,#ffc600,#ffd700,#ffe800,#fffa00,#f2ff00,#dfff00,#ccff00,#b7ff00,#a0ff00,#8cff00,#78ff00,#66ff00,#54ff00,#43ff00,#32ff00,#21ff00,#11ff00,#00ff01,#00ff11,#00ff22,#00ff32,#00ff43,#00ff54,#00ff66,#00ff79,#00ff8c,#00ffa1,#00ffb7,#00ffcc,#00ffdf,#00fff2,#00faff,#00e9ff,#00d7ff,#00c6ff,#00b5ff,#00a4ff,#0092ff,#0080ff,#006dff,#005cff,#004dff,#003fff,#0032ff,#0026ff,#001aff,#000eff,#0003ff,#0000ff)"></i><i style="background:linear-gradient(90deg,#ff0300,#ff0e00,#ff1900,#ff2500,#ff3100,#ff3e00,#ff4c00,#ff5b00,#ff6b00,#ff7d00,#ff9000,#ffa200,#ffb400,#ffc500,#ffd700,#ffe800,#fffa00,#f1ff00,#deff00,#caff00,#b5ff00,#9fff00,#8aff00,#78ff00,#65ff00,#54ff00,#43ff00,#32ff00,#21ff00,#11ff00,#00ff01,#00ff11,#00ff21,#00ff32,#00ff43,#00ff54,#00ff65,#00ff78,#00ff8b,#00ff9f,#00ffb5,#00ffca,#00ffde,#00fff1,#00faff,#00e8ff,#00d7ff,#00c5ff,#00b4ff,#00a3ff,#0091ff,#007dff,#006bff,#005bff,#004cff,#003eff,#0031ff,#0025ff,#0019ff,#000eff,#0003ff,#0000ff)"></i><i style="background:linear-gradient(90deg,#ff0200,#ff0d00,#ff1800,#ff2400,#ff3000,#ff3d00,#ff4a00,#ff5900,#ff6900,#ff7b00,#ff8e00,#ffa100,#ffb300,#ffc500,#ffd600,#ffe800,#fffb00,#f1ff00,#ddff00,#c9ff00,#b2ff00,#9dff00,#89ff00,#77ff00,#65ff00,#53ff00,#42ff00,#31ff00,#21ff00,#11ff00,#00ff01,#00ff11,#00ff21,#00ff32,#00ff42,#00ff53,#00ff65,#00ff77,#00ff89,#00ff9d,#00ffb2,#00ffc9,#00ffdd,#00fff1,#00fbff,#00e8ff,#00d6ff,#00c5ff,#00b3ff,#00a1ff,#008eff,#007bff,#0069ff,#0059ff,#004aff,#003dff,#0030ff,#0024ff,#0018ff,#000dff,#0002ff,#0000ff)"></i><i style="background:linear-gradient(90deg,#ff0100,#ff0c00,#ff1700,#ff2300,#ff2f00,#ff3c00,#ff4900,#ff5800,#ff6700,#ff7800,#ff8c00,#ff9f00,#ffb200,#ffc400,#ffd600,#ffe800,#fffb00,#f0ff00,#dcff00,#c7ff00,#b0ff00,#9cff00,#88ff00,#76ff00,#64ff00,#53ff00,#42ff00,#31ff00,#21ff00,#11ff00,#00ff01,#00ff11,#00ff21,#00ff31,#00ff42,#00ff53,#00ff64,#00ff76,#00ff89,#00ff9c,#00ffb0,#00ffc7,#00ffdc,#00fff0,#00fbff,#00e8ff,#00d6ff,#00c4ff,#00b2ff,#009fff,#008cff,#0078ff,#0067ff,#0058ff,#0049ff,#003cff,#002fff,#0023ff,#0017ff,#000cff,#0001ff,#0000ff)"></i><i style="background:linear-gradient(90deg,#ff0100,#ff0b00,#ff1600,#ff2200,#ff2e00,#ff3b00,#ff4800,#ff5600,#ff6600,#ff7700,#ff8900,#ff9e00,#ffb100,#ffc300,#ffd600,#ffe800,#fffb00,#efff00,#dbff00,#c5ff00,#afff00,#9bff00,#88ff00,#75ff00,#64ff00,#52ff00,#42ff00,#31ff00,#21ff00,#11ff00,#00ff01,#00ff11,#00ff21,#00ff31,#00ff42,#00ff53,#00ff64,#00ff75,#00ff88,#00ff9b,#00ffaf,#00ffc5,#00ffdb,#00ffef,#00fbff,#00e8ff,#00d6ff,#00c3ff,#00b1ff,#009eff,#0089ff,#0076ff,#0066ff,#0056ff,#0048ff,#003bff,#002eff,#0022ff,#0016ff,#000bff,#0001ff,#0000ff)"></i><i style="background:linear-gradient(90deg,#ff0000,#ff0b00,#ff1600,#ff2100,#ff2d00,#ff3a00,#ff4700,#ff5500,#ff6500,#ff7500,#ff8700,#ff9c00,#ffaf00,#ffc200,#ffd500,#ffe800,#fffc00,#eeff00,#d9ff00,#c2ff00,#adff00,#9aff00,#87ff00,#75ff00,#63ff00,#52ff00,#41ff00,#31ff00,#21ff00,#10ff00,#00ff01,#00ff11,#00ff21,#00ff31,#00ff41,#00ff52,#00ff63,#00ff75,#00ff87,#00ff9a,#00ffad,#00ffc3,#00ffd9,#00ffef,#00fcff,#00e8ff,#00d5ff,#00c2ff,#00afff,#009cff,#0087ff,#0075ff,#0064ff,#0055ff,#0047ff,#003aff,#002dff,#0021ff,#0016ff,#000bff,#0000ff,#0000ff)"></i><i style="background:linear-gradient(90deg,#ff0000,#ff0a00,#ff1500,#ff2100,#ff2d00,#ff3900,#ff4600,#ff5400,#ff6300,#ff7400,#ff8500,#ff9900,#ffae00,#ffc200,#ffd500,#ffe800,#fffc00,#edff00,#d7ff00,#c1ff00,#acff00,#99ff00,#86ff00,#74ff00,#63ff00,#52ff00,#41ff00,#31ff00,#20ff00,#10ff00,#00ff01,#00ff11,#00ff21,#00ff31,#00ff41,#00ff52,#00ff63,#00ff74,#00ff86,#00ff99,#00ffac,#00ffc1,#00ffd8,#00ffee,#00fcff,#00e8ff,#00d5ff,#00c2ff,#00aeff,#0099ff,#0085ff,#0073ff,#0063ff,#0054ff,#0046ff,#0039ff,#002dff,#0021ff,#0015ff,#000aff,#0000ff,#0000ff)"></i><i style="background:linear-gradient(90deg,#ff0000,#ff0a00,#ff1500,#ff2000,#ff2c00,#ff3900,#ff4600,#ff5400,#ff6200,#ff7200,#ff8400,#ff9700,#ffac00,#ffc100,#ffd500,#ffe800,#fffd00,#ecff00,#d5ff00,#bfff00,#abff00,#98ff00,#85ff00,#74ff00,#62ff00,#51ff00,#41ff00,#30ff00,#20ff00,#10ff00,#00ff01,#00ff10,#00ff20,#00ff31,#00ff41,#00ff52,#00ff63,#00ff74,#00ff86,#00ff98,#00ffab,#00ffbf,#00ffd5,#00ffec,#00fcff,#00e8ff,#00d4ff,#00c1ff,#00acff,#0097ff,#0084ff,#0072ff,#0062ff,#0054ff,#0046ff,#0039ff,#002cff,#0020ff,#0015ff,#000aff,#0000ff,#0000ff)"></i><i style="background:linear-gradient(90deg,#ff0000,#ff0900,#ff1400,#ff2000,#ff2c00,#ff3800,#ff4500,#ff5300,#ff6200,#ff7100,#ff8200,#ff9500,#ffab00,#ffc000,#ffd400,#ffe900,#fffd00,#ebff00,#d3ff00,#beff00,#aaff00,#97ff00,#85ff00,#73ff00,#62ff00,#51ff00,#41ff00,#30ff00,#20ff00,#10ff00,#00ff01,#00ff10,#00ff20,#00ff30,#00ff41,#00ff51,#00ff62,#00ff73,#00ff85,#00ff97,#00ffaa,#00ffbe,#00ffd4,#00ffeb,#00fdff,#00e8ff,#00d4ff,#00c0ff,#00aaff,#0095ff,#0082ff,#0071ff,#0062ff,#0053ff,#0045ff,#0038ff,#002bff,#0020ff,#0014ff,#0009ff,#0000ff,#0000ff)"></i><i style="background:linear-gradient(90deg,#ff0000,#ff0900,#ff1400,#ff1f00,#ff2b00,#ff3800,#ff4500,#ff5200,#ff6100,#ff7000,#ff8100,#ff9400,#ffa800,#ffbf00,#ffd400,#ffe900,#fffe00,#e9ff00,#d2ff00,#bdff00,#aaff00,#97ff00,#85ff00,#73ff00,#62ff00,#51ff00,#40ff00,#30ff00,#20ff00,#10ff00,#00ff01,#00ff10,#00ff20,#00ff30,#00ff41,#00ff51,#00ff62,#00ff73,#00ff85,#00ff97,#00ffaa,#00ffbd,#00ffd2,#00ffe9,#00feff,#00e8ff,#00d4ff,#00beff,#00a8ff,#0094ff,#0081ff,#0070ff,#0061ff,#0052ff,#0044ff,#0037ff,#002bff,#001fff,#0014ff,#0009ff,#0000ff,#0000ff)"></i><i style="background:linear-gradient(90deg,#ff0000,#ff0900,#ff1400,#ff1f00,#ff2b00,#ff3700,#ff4400,#ff5200,#ff6000,#ff7000,#ff8000,#ff9300,#ffa700,#ffbd00,#ffd300,#ffe900,#ffff00,#e7ff00,#d1ff00,#bcff00,#a9ff00,#96ff00,#84ff00,#73ff00,#62ff00,#51ff00,#40ff00,#30ff00,#20ff00,#10ff00,#00ff01,#00ff10,#00ff20,#00ff30,#00ff40,#00ff51,#00ff62,#00ff73,#00ff84,#00ff96,#00ffa9,#00ffbd,#00ffd1,#00ffe7,#00ffff,#00e9ff,#00d3ff,#00bdff,#00a6ff,#0092ff,#0080ff,#0070ff,#0060ff,#0052ff,#0044ff,#0037ff,#002bff,#001fff,#0013ff,#0008ff,#0000ff,#0000ff)"></i><i style="background:linear-gradient(90deg,#ff0000,#ff0800,#ff1300,#ff1f00,#ff2a00,#ff3700,#ff4400,#ff5100,#ff6000,#ff6f00,#ff8000,#ff9200,#ffa500,#ffbc00,#ffd300,#ffe900,#feff00,#e6ff00,#d0ff00,#bcff00,#a8ff00,#96ff00,#84ff00,#72ff00,#61ff00,#51ff00,#40ff00,#30ff00,#20ff00,#10ff00,#00ff01,#00ff10,#00ff20,#00ff30,#00ff40,#00ff51,#00ff62,#00ff73,#00ff84,#00ff96,#00ffa9,#00ffbc,#00ffd0,#00ffe6,#00fffe,#00e9ff,#00d2ff,#00bbff,#00a5ff,#0091ff,#0080ff,#006fff,#0060ff,#0051ff,#0044ff,#0037ff,#002aff,#001eff,#0013ff,#0008ff,#0000ff,#0000ff)"></i><i style="background:linear-gradient(90deg,#ff0000,#ff0800,#ff1300,#ff1e00,#ff2a00,#ff3600,#ff4300,#ff5100,#ff5f00,#ff6f00,#ff7f00,#ff9100,#ffa400,#ffba00,#ffd200,#ffe900,#fcff00,#e5ff00,#cfff00,#bbff00,#a8ff00,#96ff00,#84ff00,#72ff00,#61ff00,#51ff00,#40ff00,#30ff00,#20ff00,#10ff00,#00ff01,#00ff10,#00ff20,#00ff30,#00ff40,#00ff51,#00ff61,#00ff72,#00ff84,#00ff96,#00ffa8,#00ffbb,#00ffd0,#00ffe5,#00fffc,#00e9ff,#00d2ff,#00baff,#00a4ff,#0091ff,#007fff,#006fff,#005fff,#0051ff,#0043ff,#0036ff,#002aff,#001eff,#0013ff,#0008ff,#0000ff,#0000ff)"></i><i style="background:linear-gradient(90deg,#ff0000,#ff0800,#ff1300,#ff1e00,#ff2a00,#ff3600,#ff4300,#ff5100,#ff5f00,#ff6e00,#ff7f00,#ff9000,#ffa400,#ffb900,#ffd100,#ffea00,#fbff00,#e4ff00,#cfff00,#bbff00,#a8ff00,#95ff00,#84ff00,#72ff00,#61ff00,#50ff00,#40ff00,#30ff00,#20ff00,#10ff00,#00ff01,#00ff10,#00ff20,#00ff30,#00ff40,#00ff51,#00ff61,#00ff72,#00ff84,#00ff96,#00ffa8,#00ffbb,#00ffcf,#00ffe4,#00fffb,#00eaff,#00d1ff,#00b9ff,#00a3ff,#0090ff,#007fff,#006eff,#005fff,#0051ff,#0043ff,#0036ff,#002aff,#001eff,#0013ff,#0008ff,#0000ff,#0000ff)"></i><i style="background:linear-gradient(90deg,#ff0000,#ff0800,#ff1300,#ff1e00,#ff2a00,#ff3600,#ff4300,#ff5100,#ff5f00,#ff6e00,#ff7f00,#ff9000,#ffa300,#ffb800,#ffd000,#ffeb00,#faff00,#e4ff00,#cfff00,#bbff00,#a8ff00,#95ff00,#83ff00,#72ff00,#61ff00,#50ff00,#40ff00,#30ff00,#20ff00,#10ff00,#00ff01,#00ff10,#00ff20,#00ff30,#00ff40,#00ff51,#00ff61,#00ff72,#00ff84,#00ff95,#00ffa8,#00ffbb,#00ffcf,#00ffe4,#00fffa,#00eaff,#00d0ff,#00b8ff,#00a3ff,#0090ff,#007eff,#006eff,#005fff,#0050ff,#0043ff,#0036ff,#002aff,#001eff,#0013ff,#0008ff,#0000ff,#0000ff)"></i><i style="background:linear-gradient(90deg,#ff0000,#ff0800,#ff1300,#ff1e00,#ff2a00,#ff3600,#ff4300,#ff5100,#ff5f00,#ff6e00,#ff7e00,#ff9000,#ffa300,#ffb800,#ffd000,#ffeb00,#faff00,#e3ff00,#ceff00,#bbff00,#a8ff00,#95ff00,#83ff00,#72ff00,#61ff00,#50ff00,#40ff00,#30ff00,#20ff00,#10ff00,#00ff01,#00ff10,#00ff20,#00ff30,#00ff40,#00ff51,#00ff61,#00ff72,#00ff84,#00ff95,#00ffa8,#00ffbb,#00ffcf,#00ffe4,#00fffa,#00ebff,#00cfff,#00b8ff,#00a3ff,#0090ff,#007eff,#006eff,#005fff,#0050ff,#0043ff,#0036ff,#002aff,#001eff,#0013ff,#0008ff,#0000ff,#0000ff)"></i><i style="background:linear-gradient(90deg,#ff0000,#ff0800,#ff1300,#ff1e00,#ff2a00,#ff3600,#ff4300,#ff5100,#ff5f00,#ff6e00,#ff7e00,#ff9000,#ffa300,#ffb800,#ffd000,#ffeb00,#faff00,#e3ff00,#ceff00,#bbff00,#a8ff00,#95ff00,#83ff00,#72ff00,#61ff00,#50ff00,#40ff00,#30ff00,#20ff00,#10ff00,#00ff01,#00ff10,#00ff20,#00ff30,#00ff40,#00ff51,#00ff61,#00ff72,#00ff84,#00ff95,#00ffa8,#00ffbb,#00ffcf,#00ffe4,#00fffa,#00ebff,#00cfff,#00b8ff,#00a3ff,#0090ff,#007eff,#006eff,#005fff,#0050ff,#0043ff,#0036ff,#002aff,#001eff,#0013ff,#0008ff,#0000ff,#0000ff)"></i><i style="background:linear-gradient(90deg,#ff0000,#ff0800,#ff1300,#ff1e00,#ff2a00,#ff3600,#ff4300,#ff5100,#ff5f00,#ff6e00,#ff7f00,#ff9000,#ffa300,#ffb800,#ffd100,#ffea00,#faff00,#e4ff00,#cfff00,#bbff00,#a8ff00,#95ff00,#83ff00,#72ff00,#61ff00,#50ff00,#40ff00,#30ff00,#20ff00,#10ff00,#00ff01,#00ff10,#00ff20,#00ff30,#00ff40,#00ff51,#00ff61,#00ff72,#00ff84,#00ff96,#00ffa8,#00ffbb,#00ffcf,#00ffe4,#00fffb,#00eaff,#00d0ff,#00b8ff,#00a3ff,#0090ff,#007eff,#006eff,#005fff,#0050ff,#0043ff,#0036ff,#002aff,#001eff,#0013ff,#0008ff,#0000ff,#0000ff)"></i><i style="background:linear-gradient(90deg,#ff0000,#ff0800,#ff1300,#ff1e00,#ff2a00,#ff3600,#ff4300,#ff5100,#ff5f00,#ff6f00,#ff7f00,#ff9100,#ffa400,#ffb900,#ffd200,#ffea00,#fbff00,#e4ff00,#cfff00,#bbff00,#a8ff00,#95ff00,#84ff00,#72ff00,#61ff00,#50ff00,#40ff00,#30ff00,#20ff00,#10ff00,#00ff01,#00ff10,#00ff20,#00ff30,#00ff40,#00ff51,#00ff61,#00ff72,#00ff84,#00ff96,#00ffa8,#00ffbb,#00ffcf,#00ffe5,#00fffc,#00e9ff,#00d1ff,#00b9ff,#00a4ff,#0090ff,#007fff,#006eff,#005fff,#0051ff,#0043ff,#0036ff,#002aff,#001eff,#0013ff,#0008ff,#0000ff,#0000ff)"></i><i style="background:linear-gradient(90deg,#ff0000,#ff0800,#ff1300,#ff1e00,#ff2a00,#ff3700,#ff4400,#ff5100,#ff6000,#ff6f00,#ff7f00,#ff9100,#ffa500,#ffbb00,#ffd200,#ffe900,#fdff00,#e5ff00,#d0ff00,#bbff00,#a8ff00,#96ff00,#84ff00,#72ff00,#61ff00,#51ff00,#40ff00,#30ff00,#20ff00,#10ff00,#00ff01,#00ff10,#00ff20,#00ff30,#00ff40,#00ff51,#00ff61,#00ff73,#00ff84,#00ff96,#00ffa8,#00ffbc,#00ffd0,#00ffe5,#00fffd,#00e9ff,#00d2ff,#00baff,#00a4ff,#0091ff,#007fff,#006fff,#005fff,#0051ff,#0043ff,#0036ff,#002aff,#001eff,#0013ff,#0008ff,#0000ff,#0000ff)"></i><i style="background:linear-gradient(90deg,#ff0000,#ff0800,#ff1300,#ff1f00,#ff2b00,#ff3700,#ff4400,#ff5200,#ff6000,#ff6f00,#ff8000,#ff9200,#ffa600,#ffbc00,#ffd300,#ffe900,#feff00,#e6ff00,#d0ff00,#bcff00,#a9ff00,#96ff00,#84ff00,#73ff00,#61ff00,#51ff00,#40ff00,#30ff00,#20ff00,#10ff00,#00ff01,#00ff10,#00ff20,#00ff30,#00ff40,#00ff51,#00ff62,#00ff73,#00ff84,#00ff96,#00ffa9,#00ffbc,#00ffd1,#00ffe7,#00fffe,#00e9ff,#00d3ff,#00bcff,#00a6ff,#0092ff,#0080ff,#006fff,#0060ff,#0051ff,#0044ff,#0037ff,#002aff,#001fff,#0013ff,#0008ff,#0000ff,#0000ff)"></i><i style="background:linear-gradient(90deg,#ff0000,#ff0900,#ff1400,#ff1f00,#ff2b00,#ff3700,#ff4400,#ff5200,#ff6100,#ff7000,#ff8100,#ff9300,#ffa700,#ffbe00,#ffd300,#ffe900,#ffff00,#e8ff00,#d1ff00,#bdff00,#a9ff00,#96ff00,#84ff00,#73ff00,#62ff00,#51ff00,#40ff00,#30ff00,#20ff00,#10ff00,#00ff01,#00ff10,#00ff20,#00ff30,#00ff41,#00ff51,#00ff62,#00ff73,#00ff85,#00ff97,#00ffa9,#00ffbd,#00ffd2,#00ffe8,#00feff,#00e9ff,#00d3ff,#00beff,#00a7ff,#0093ff,#0081ff,#0070ff,#0060ff,#0052ff,#0044ff,#0037ff,#002bff,#001fff,#0014ff,#0009ff,#0000ff,#0000ff)"></i><i style="background:linear-gradient(90deg,#ff0000,#ff0900,#ff1400,#ff1f00,#ff2b00,#ff3800,#ff4500,#ff5300,#ff6100,#ff7100,#ff8200,#ff9400,#ffa900,#ffbf00,#ffd400,#ffe900,#fffe00,#eaff00,#d3ff00,#beff00,#aaff00,#97ff00,#85ff00,#73ff00,#62ff00,#51ff00,#41ff00,#30ff00,#20ff00,#10ff00,#00ff01,#00ff10,#00ff20,#00ff30,#00ff41,#00ff51,#00ff62,#00ff73,#00ff85,#00ff97,#00ffaa,#00ffbe,#00ffd3,#00ffea,#00feff,#00e8ff,#00d4ff,#00bfff,#00a9ff,#0094ff,#0082ff,#0071ff,#0061ff,#0052ff,#0045ff,#0038ff,#002bff,#001fff,#0014ff,#0009ff,#0000ff,#0000ff)"></i><i style="background:linear-gradient(90deg,#ff0000,#ff0900,#ff1400,#ff2000,#ff2c00,#ff3800,#ff4500,#ff5300,#ff6200,#ff7200,#ff8300,#ff9600,#ffac00,#ffc000,#ffd400,#ffe800,#fffd00,#ebff00,#d4ff00,#bfff00,#abff00,#98ff00,#85ff00,#73ff00,#62ff00,#51ff00,#41ff00,#30ff00,#20ff00,#10ff00,#00ff01,#00ff10,#00ff20,#00ff31,#00ff41,#00ff51,#00ff62,#00ff74,#00ff85,#00ff98,#00ffab,#00ffbf,#00ffd5,#00ffec,#00fdff,#00e8ff,#00d4ff,#00c0ff,#00abff,#0096ff,#0083ff,#0072ff,#0062ff,#0053ff,#0045ff,#0038ff,#002cff,#0020ff,#0014ff,#0009ff,#0000ff,#0000ff)"></i><i style="background:linear-gradient(90deg,#ff0000,#ff0a00,#ff1500,#ff2000,#ff2c00,#ff3900,#ff4600,#ff5400,#ff6300,#ff7300,#ff8400,#ff9800,#ffad00,#ffc100,#ffd500,#ffe800,#fffc00,#edff00,#d6ff00,#c0ff00,#acff00,#98ff00,#86ff00,#74ff00,#63ff00,#52ff00,#41ff00,#31ff00,#20ff00,#10ff00,#00ff01,#00ff11,#00ff21,#00ff31,#00ff41,#00ff52,#00ff63,#00ff74,#00ff86,#00ff98,#00ffac,#00ffc0,#00ffd7,#00ffed,#00fcff,#00e8ff,#00d5ff,#00c1ff,#00adff,#0098ff,#0084ff,#0073ff,#0063ff,#0054ff,#0046ff,#0039ff,#002cff,#0020ff,#0015ff,#000aff,#0000ff,#0000ff)"></i><i style="background:linear-gradient(90deg,#ff0000,#ff0a00,#ff1600,#ff2100,#ff2d00,#ff3a00,#ff4700,#ff5500,#ff6400,#ff7400,#ff8600,#ff9b00,#ffaf00,#ffc200,#ffd500,#ffe800,#fffc00,#eeff00,#d8ff00,#c2ff00,#adff00,#99ff00,#86ff00,#74ff00,#63ff00,#52ff00,#41ff00,#31ff00,#20ff00,#10ff00,#00ff01,#00ff11,#00ff21,#00ff31,#00ff41,#00ff52,#00ff63,#00ff75,#00ff87,#00ff99,#00ffad,#00ffc2,#00ffd9,#00ffee,#00fcff,#00e8ff,#00d5ff,#00c2ff,#00afff,#009aff,#0086ff,#0074ff,#0064ff,#0055ff,#0047ff,#003aff,#002dff,#0021ff,#0015ff,#000aff,#0000ff,#0000ff)"></i><i style="background:linear-gradient(90deg,#ff0000,#ff0b00,#ff1600,#ff2200,#ff2e00,#ff3a00,#ff4800,#ff5600,#ff6500,#ff7600,#ff8800,#ff9d00,#ffb000,#ffc300,#ffd600,#ffe800,#fffb00,#efff00,#daff00,#c4ff00,#aeff00,#9aff00,#87ff00,#75ff00,#63ff00,#52ff00,#41ff00,#31ff00,#21ff00,#10ff00,#00ff01,#00ff11,#00ff21,#00ff31,#00ff42,#00ff52,#00ff64,#00ff75,#00ff87,#00ff9a,#00ffae,#00ffc4,#00ffda,#00ffef,#00fbff,#00e8ff,#00d5ff,#00c3ff,#00b0ff,#009dff,#0088ff,#0076ff,#0065ff,#0056ff,#0048ff,#003aff,#002eff,#0022ff,#0016ff,#000bff,#0000ff,#0000ff)"></i><i style="background:linear-gradient(90deg,#ff0100,#ff0c00,#ff1700,#ff2200,#ff2f00,#ff3b00,#ff4900,#ff5700,#ff6600,#ff7700,#ff8b00,#ff9f00,#ffb100,#ffc400,#ffd600,#ffe800,#fffb00,#f0ff00,#dbff00,#c6ff00,#afff00,#9bff00,#88ff00,#76ff00,#64ff00,#53ff00,#42ff00,#31ff00,#21ff00,#11ff00,#00ff01,#00ff11,#00ff21,#00ff31,#00ff42,#00ff53,#00ff64,#00ff76,#00ff88,#00ff9b,#00ffb0,#00ffc6,#00ffdc,#00fff0,#00fbff,#00e8ff,#00d6ff,#00c4ff,#00b1ff,#009fff,#008bff,#0077ff,#0066ff,#0057ff,#0049ff,#003bff,#002fff,#0022ff,#0017ff,#000cff,#0001ff,#0000ff)"></i><i style="background:linear-gradient(90deg,#ff0200,#ff0c00,#ff1800,#ff2300,#ff2f00,#ff3c00,#ff4a00,#ff5800,#ff6800,#ff7900,#ff8d00,#ffa000,#ffb200,#ffc400,#ffd600,#ffe800,#fffb00,#f0ff00,#ddff00,#c8ff00,#b1ff00,#9cff00,#89ff00,#76ff00,#64ff00,#53ff00,#42ff00,#31ff00,#21ff00,#11ff00,#00ff01,#00ff11,#00ff21,#00ff32,#00ff42,#00ff53,#00ff65,#00ff76,#00ff89,#00ff9c,#00ffb1,#00ffc8,#00ffdd,#00fff0,#00fbff,#00e8ff,#00d6ff,#00c4ff,#00b2ff,#00a0ff,#008dff,#0079ff,#0068ff,#0058ff,#004aff,#003cff,#002fff,#0023ff,#0018ff,#000cff,#0001ff,#0000ff)"></i><i style="background:linear-gradient(90deg,#ff0200,#ff0d00,#ff1800,#ff2400,#ff3000,#ff3d00,#ff4b00,#ff5a00,#ff6a00,#ff7c00,#ff8f00,#ffa200,#ffb300,#ffc500,#ffd700,#ffe800,#fffa00,#f1ff00,#deff00,#c9ff00,#b3ff00,#9eff00,#8aff00,#77ff00,#65ff00,#53ff00,#42ff00,#32ff00,#21ff00,#11ff00,#00ff01,#00ff11,#00ff21,#00ff32,#00ff43,#00ff54,#00ff65,#00ff77,#00ff8a,#00ff9e,#00ffb4,#00ffca,#00ffde,#00fff1,#00faff,#00e8ff,#00d7ff,#00c5ff,#00b3ff,#00a2ff,#0090ff,#007cff,#006aff,#005aff,#004bff,#003dff,#0030ff,#0024ff,#0018ff,#000dff,#0002ff,#0000ff)"></i><i style="background:linear-gradient(90deg,#ff0300,#ff0e00,#ff1900,#ff2500,#ff3100,#ff3e00,#ff4c00,#ff5b00,#ff6c00,#ff7f00,#ff9100,#ffa300,#ffb400,#ffc600,#ffd700,#ffe800,#fffa00,#f1ff00,#dfff00,#cbff00,#b6ff00,#9fff00,#8bff00,#78ff00,#66ff00,#54ff00,#43ff00,#32ff00,#21ff00,#11ff00,#00ff01,#00ff11,#00ff21,#00ff32,#00ff43,#00ff54,#00ff66,#00ff78,#00ff8b,#00ffa0,#00ffb6,#00ffcb,#00ffdf,#00fff1,#00faff,#00e8ff,#00d7ff,#00c6ff,#00b4ff,#00a3ff,#0092ff,#007fff,#006cff,#005bff,#004cff,#003fff,#0031ff,#0025ff,#0019ff,#000eff,#0003ff,#0000ff)"></i><i style="background:linear-gradient(90deg,#ff0400,#ff0f00,#ff1a00,#ff2600,#ff3300,#ff4000,#ff4e00,#ff5d00,#ff6e00,#ff8100,#ff9300,#ffa400,#ffb500,#ffc600,#ffd700,#ffe900,#fffa00,#f2ff00,#dfff00,#ccff00,#b8ff00,#a2ff00,#8cff00,#79ff00,#66ff00,#55ff00,#43ff00,#32ff00,#21ff00,#11ff00,#00ff01,#00ff11,#00ff22,#00ff32,#00ff43,#00ff55,#00ff67,#00ff79,#00ff8d,#00ffa2,#00ffb8,#00ffcc,#00ffdf,#00fff2,#00faff,#00e9ff,#00d7ff,#00c6ff,#00b5ff,#00a5ff,#0093ff,#0081ff,#006eff,#005dff,#004eff,#0040ff,#0033ff,#0026ff,#001aff,#000fff,#0004ff,#0000ff)"></i><i style="background:linear-gradient(90deg,#ff0500,#ff1000,#ff1b00,#ff2700,#ff3400,#ff4100,#ff4f00,#ff5f00,#ff7100,#ff8400,#ff9500,#ffa600,#ffb600,#ffc700,#ffd800,#ffe900,#fffa00,#f2ff00,#e0ff00,#cdff00,#b9ff00,#a4ff00,#8eff00,#7aff00,#67ff00,#55ff00,#44ff00,#33ff00,#22ff00,#11ff00,#00ff01,#00ff11,#00ff22,#00ff33,#00ff44,#00ff55,#00ff67,#00ff7a,#00ff8e,#00ffa4,#00ffb9,#00ffcd,#00ffe0,#00fff2,#00faff,#00e9ff,#00d8ff,#00c7ff,#00b6ff,#00a6ff,#0095ff,#0084ff,#0071ff,#005fff,#0050ff,#0041ff,#0034ff,#0027ff,#001bff,#0010ff,#0005ff,#0000ff)"></i><i style="background:linear-gradient(90deg,#ff0600,#ff1100,#ff1c00,#ff2800,#ff3500,#ff4300,#ff5100,#ff6100,#ff7400,#ff8600,#ff9600,#ffa700,#ffb700,#ffc700,#ffd800,#ffe900,#fffa00,#f3ff00,#e1ff00,#ceff00,#bbff00,#a6ff00,#90ff00,#7bff00,#68ff00,#56ff00,#44ff00,#33ff00,#22ff00,#11ff00,#00ff01,#00ff11,#00ff22,#00ff33,#00ff44,#00ff56,#00ff68,#00ff7b,#00ff90,#00ffa6,#00ffbb,#00ffce,#00ffe1,#00fff2,#00faff,#00e9ff,#00d8ff,#00c8ff,#00b7ff,#00a7ff,#0097ff,#0086ff,#0074ff,#0062ff,#0051ff,#0043ff,#0035ff,#0029ff,#001cff,#0011ff,#0006ff,#0000ff)"></i><i style="background:linear-gradient(90deg,#ff0700,#ff1200,#ff1e00,#ff2a00,#ff3700,#ff4400,#ff5300,#ff6400,#ff7600,#ff8700,#ff9800,#ffa800,#ffb800,#ffc800,#ffd800,#ffe900,#fffa00,#f3ff00,#e1ff00,#cfff00,#bcff00,#a8ff00,#92ff00,#7dff00,#69ff00,#57ff00,#45ff00,#33ff00,#22ff00,#11ff00,#00ff01,#00ff11,#00ff22,#00ff33,#00ff45,#00ff57,#00ff69,#00ff7d,#00ff92,#00ffa8,#00ffbc,#00ffcf,#00ffe1,#00fff3,#00faff,#00e9ff,#00d9ff,#00c8ff,#00b8ff,#00a8ff,#0098ff,#0088ff,#0077ff,#0064ff,#0053ff,#0045ff,#0037ff,#002aff,#001eff,#0012ff,#0007ff,#0000ff)"></i><i style="background:linear-gradient(90deg,#ff0800,#ff1300,#ff1f00,#ff2b00,#ff3800,#ff4600,#ff5500,#ff6700,#ff7900,#ff8900,#ff9900,#ffa900,#ffb900,#ffc800,#ffd900,#ffe900,#fffa00,#f3ff00,#e2ff00,#d0ff00,#bdff00,#aaff00,#95ff00,#7fff00,#6aff00,#58ff00,#45ff00,#34ff00,#22ff00,#11ff00,#00ff01,#00ff12,#00ff23,#00ff34,#00ff46,#00ff58,#00ff6b,#00ff7f,#00ff95,#00ffaa,#00ffbd,#00ffd0,#00ffe1,#00fff3,#00faff,#00e9ff,#00d9ff,#00c9ff,#00b9ff,#00a9ff,#0099ff,#0089ff,#0079ff,#0067ff,#0056ff,#0046ff,#0038ff,#002bff,#001fff,#0013ff,#0008ff,#0000ff)"></i><i style="background:linear-gradient(90deg,#ff0900,#ff1400,#ff2000,#ff2d00,#ff3a00,#ff4800,#ff5800,#ff6a00,#ff7b00,#ff8b00,#ff9a00,#ffaa00,#ffb900,#ffc900,#ffd900,#ffe900,#fffa00,#f3ff00,#e2ff00,#d0ff00,#beff00,#abff00,#97ff00,#81ff00,#6cff00,#59ff00,#46ff00,#34ff00,#23ff00,#12ff00,#00ff01,#00ff12,#00ff23,#00ff34,#00ff46,#00ff59,#00ff6c,#00ff81,#00ff97,#00ffab,#00ffbe,#00ffd0,#00ffe2,#00fff3,#00faff,#00eaff,#00d9ff,#00c9ff,#00baff,#00aaff,#009bff,#008bff,#007bff,#006aff,#0058ff,#0048ff,#003aff,#002dff,#0020ff,#0015ff,#0009ff,#0000ff)"></i><i style="background:linear-gradient(90deg,#ff0a00,#ff1600,#ff2200,#ff2e00,#ff3c00,#ff4a00,#ff5b00,#ff6d00,#ff7d00,#ff8c00,#ff9b00,#ffab00,#ffba00,#ffca00,#ffd900,#ffe900,#fffa00,#f3ff00,#e2ff00,#d1ff00,#bfff00,#acff00,#98ff00,#83ff00,#6dff00,#5aff00,#47ff00,#35ff00,#23ff00,#12ff00,#00ff01,#00ff12,#00ff23,#00ff35,#00ff47,#00ff5a,#00ff6d,#00ff83,#00ff98,#00ffac,#00ffbf,#00ffd1,#00ffe2,#00fff3,#00faff,#00eaff,#00daff,#00caff,#00baff,#00abff,#009cff,#008dff,#007dff,#006dff,#005bff,#004bff,#003cff,#002eff,#0022ff,#0016ff,#000aff,#0000ff)"></i><i style="background:linear-gradient(90deg,#ff0c00,#ff1700,#ff2300,#ff3000,#ff3e00,#ff4d00,#ff5e00,#ff6f00,#ff7f00,#ff8e00,#ff9d00,#ffac00,#ffbb00,#ffca00,#ffda00,#ffea00,#fffa00,#f3ff00,#e3ff00,#d1ff00,#bfff00,#adff00,#9aff00,#85ff00,#6fff00,#5bff00,#48ff00,#35ff00,#23ff00,#12ff00,#00ff01,#00ff12,#00ff24,#00ff35,#00ff48,#00ff5b,#00ff6f,#00ff85,#00ff9a,#00ffad,#00ffbf,#00ffd1,#00ffe2,#00fff3,#00faff,#00eaff,#00daff,#00cbff,#00bbff,#00acff,#009dff,#008eff,#007fff,#006fff,#005fff,#004dff,#003eff,#0030ff,#0023ff,#0017ff,#000cff,#0001ff)"></i><i style="background:linear-gradient(90deg,#ff0d00,#ff1900,#ff2500,#ff3200,#ff4000,#ff5000,#ff6100,#ff7100,#ff8000,#ff8f00,#ff9e00,#ffac00,#ffbb00,#ffcb00,#ffda00,#ffea00,#fffa00,#f4ff00,#e3ff00,#d2ff00,#c0ff00,#aeff00,#9bff00,#87ff00,#71ff00,#5cff00,#49ff00,#36ff00,#24ff00,#12ff00,#00ff01,#00ff12,#00ff24,#00ff36,#00ff49,#00ff5c,#00ff71,#00ff87,#00ff9b,#00ffae,#00ffc0,#00ffd1,#00ffe2,#00fff3,#00faff,#00eaff,#00dbff,#00cbff,#00bcff,#00adff,#009eff,#0090ff,#0081ff,#0072ff,#0062ff,#0050ff,#0040ff,#0032ff,#0025ff,#0019ff,#000dff,#0002ff)"></i><i style="background:linear-gradient(90deg,#ff0e00,#ff1a00,#ff2700,#ff3400,#ff4200,#ff5300,#ff6400,#ff7300,#ff8200,#ff9000,#ff9f00,#ffad00,#ffbc00,#ffcb00,#ffdb00,#ffea00,#fffa00,#f4ff00,#e3ff00,#d2ff00,#c1ff00,#afff00,#9cff00,#89ff00,#74ff00,#5eff00,#4aff00,#37ff00,#24ff00,#12ff00,#00ff01,#00ff12,#00ff24,#00ff37,#00ff4a,#00ff5e,#00ff74,#00ff89,#00ff9c,#00ffaf,#00ffc0,#00ffd2,#00ffe3,#00fff3,#00fbff,#00ebff,#00dbff,#00ccff,#00bdff,#00aeff,#009fff,#0091ff,#0082ff,#0074ff,#0064ff,#0053ff,#0043ff,#0034ff,#0027ff,#001aff,#000fff,#0003ff)"></i><i style="background:linear-gradient(90deg,#ff1000,#ff1c00,#ff2900,#ff3600,#ff4500,#ff5600,#ff6600,#ff7500,#ff8300,#ff9200,#ffa000,#ffae00,#ffbd00,#ffcc00,#ffdb00,#ffea00,#fffa00,#f4ff00,#e3ff00,#d2ff00,#c1ff00,#afff00,#9dff00,#8aff00,#76ff00,#60ff00,#4bff00,#37ff00,#25ff00,#13ff00,#00ff01,#00ff13,#00ff25,#00ff38,#00ff4b,#00ff60,#00ff76,#00ff8a,#00ff9d,#00ffaf,#00ffc1,#00ffd2,#00ffe3,#00fff3,#00fbff,#00ebff,#00dcff,#00ccff,#00beff,#00afff,#00a0ff,#0092ff,#0084ff,#0076ff,#0067ff,#0057ff,#0045ff,#0036ff,#0029ff,#001cff,#0010ff,#0005ff)"></i><i style="background:linear-gradient(90deg,#ff1200,#ff1e00,#ff2b00,#ff3800,#ff4800,#ff5900,#ff6800,#ff7700,#ff8500,#ff9300,#ffa100,#ffaf00,#ffbe00,#ffcc00,#ffdb00,#ffeb00,#fffa00,#f3ff00,#e3ff00,#d2ff00,#c1ff00,#b0ff00,#9eff00,#8bff00,#77ff00,#62ff00,#4cff00,#38ff00,#25ff00,#13ff00,#00ff01,#00ff13,#00ff25,#00ff38,#00ff4c,#00ff62,#00ff77,#00ff8b,#00ff9e,#00ffb0,#00ffc1,#00ffd2,#00ffe3,#00fff3,#00fbff,#00ebff,#00dcff,#00cdff,#00beff,#00b0ff,#00a2ff,#0093ff,#0085ff,#0077ff,#0069ff,#005aff,#0049ff,#0039ff,#002bff,#001eff,#0012ff,#0006ff)"></i><i style="background:linear-gradient(90deg,#ff1300,#ff2000,#ff2d00,#ff3b00,#ff4c00,#ff5c00,#ff6a00,#ff7800,#ff8600,#ff9400,#ffa200,#ffb000,#ffbe00,#ffcd00,#ffdc00,#ffeb00,#fffb00,#f3ff00,#e3ff00,#d3ff00,#c2ff00,#b0ff00,#9fff00,#8cff00,#79ff00,#64ff00,#4eff00,#39ff00,#26ff00,#13ff00,#00ff01,#00ff13,#00ff26,#00ff39,#00ff4e,#00ff64,#00ff79,#00ff8c,#00ff9e,#00ffb0,#00ffc1,#00ffd2,#00ffe3,#00fff3,#00fbff,#00ecff,#00ddff,#00ceff,#00bfff,#00b1ff,#00a3ff,#0095ff,#0087ff,#0079ff,#006bff,#005cff,#004cff,#003cff,#002dff,#0020ff,#0014ff,#0008ff)"></i><i style="background:linear-gradient(90deg,#ff1500,#ff2200,#ff2f00,#ff3e00,#ff4f00,#ff5e00,#ff6c00,#ff7a00,#ff8800,#ff9500,#ffa300,#ffb100,#ffbf00,#ffcd00,#ffdc00,#ffeb00,#fffb00,#f3ff00,#e3ff00,#d3ff00,#c2ff00,#b1ff00,#9fff00,#8dff00,#7aff00,#66ff00,#50ff00,#3aff00,#27ff00,#13ff00,#00ff01,#00ff14,#00ff27,#00ff3b,#00ff50,#00ff66,#00ff7a,#00ff8d,#00ff9f,#00ffb0,#00ffc2,#00ffd2,#00ffe3,#00fff3,#00fcff,#00ecff,#00ddff,#00ceff,#00c0ff,#00b2ff,#00a4ff,#0096ff,#0088ff,#007bff,#006dff,#005fff,#004fff,#003fff,#0030ff,#0022ff,#0016ff,#000aff)"></i><i style="background:linear-gradient(90deg,#ff1700,#ff2400,#ff3200,#ff4200,#ff5200,#ff6000,#ff6e00,#ff7b00,#ff8900,#ff9600,#ffa400,#ffb100,#ffc000,#ffce00,#ffdd00,#ffec00,#fffb00,#f3ff00,#e3ff00,#d3ff00,#c2ff00,#b1ff00,#a0ff00,#8eff00,#7bff00,#67ff00,#52ff00,#3cff00,#27ff00,#14ff00,#00ff01,#00ff14,#00ff27,#00ff3c,#00ff52,#00ff67,#00ff7b,#00ff8e,#00ff9f,#00ffb1,#00ffc2,#00ffd2,#00ffe3,#00fff3,#00fcff,#00edff,#00deff,#00cfff,#00c1ff,#00b2ff,#00a5ff,#0097ff,#008aff,#007cff,#006fff,#0061ff,#0052ff,#0042ff,#0032ff,#0024ff,#0018ff,#000cff)"></i><i style="background:linear-gradient(90deg,#ff1900,#ff2600,#ff3500,#ff4500,#ff5400,#ff6200,#ff7000,#ff7d00,#ff8a00,#ff9700,#ffa500,#ffb200,#ffc000,#ffce00,#ffdd00,#ffec00,#fffb00,#f3ff00,#e3ff00,#d3ff00,#c2ff00,#b1ff00,#a0ff00,#8eff00,#7cff00,#69ff00,#54ff00,#3dff00,#28ff00,#14ff00,#00ff01,#00ff14,#00ff28,#00ff3e,#00ff54,#00ff69,#00ff7c,#00ff8e,#00ffa0,#00ffb1,#00ffc2,#00ffd2,#00ffe2,#00fff2,#00fcff,#00edff,#00deff,#00d0ff,#00c1ff,#00b3ff,#00a6ff,#0098ff,#008bff,#007eff,#0071ff,#0063ff,#0055ff,#0046ff,#0035ff,#0027ff,#001aff,#000dff)"></i><i style="background:linear-gradient(90deg,#ff1c00,#ff2900,#ff3800,#ff4800,#ff5700,#ff6400,#ff7100,#ff7e00,#ff8b00,#ff9800,#ffa600,#ffb300,#ffc100,#ffcf00,#ffde00,#ffec00,#fffc00,#f3ff00,#e3ff00,#d3ff00,#c2ff00,#b1ff00,#a0ff00,#8fff00,#7cff00,#6aff00,#55ff00,#3fff00,#29ff00,#15ff00,#00ff01,#00ff15,#00ff29,#00ff3f,#00ff55,#00ff6a,#00ff7c,#00ff8f,#00ffa0,#00ffb1,#00ffc2,#00ffd2,#00ffe2,#00fff2,#00fdff,#00edff,#00dfff,#00d0ff,#00c2ff,#00b4ff,#00a7ff,#0099ff,#008cff,#007fff,#0072ff,#0065ff,#0057ff,#0049ff,#0038ff,#0029ff,#001cff,#000fff)"></i><i style="background:linear-gradient(90deg,#ff1e00,#ff2c00,#ff3c00,#ff4b00,#ff5900,#ff6600,#ff7300,#ff8000,#ff8d00,#ff9900,#ffa700,#ffb400,#ffc200,#ffd000,#ffde00,#ffed00,#fffc00,#f3ff00,#e3ff00,#d3ff00,#c2ff00,#b2ff00,#a1ff00,#8fff00,#7dff00,#6aff00,#57ff00,#41ff00,#2aff00,#15ff00,#00ff01,#00ff15,#00ff2b,#00ff41,#00ff57,#00ff6a,#00ff7d,#00ff8f,#00ffa0,#00ffb1,#00ffc2,#00ffd2,#00ffe2,#00fff2,#00fdff,#00eeff,#00dfff,#00d1ff,#00c3ff,#00b5ff,#00a8ff,#009bff,#008eff,#0081ff,#0074ff,#0067ff,#005aff,#004cff,#003cff,#002cff,#001eff,#0012ff)"></i><i style="background:linear-gradient(90deg,#ff2100,#ff2f00,#ff3f00,#ff4e00,#ff5b00,#ff6800,#ff7500,#ff8100,#ff8e00,#ff9a00,#ffa700,#ffb500,#ffc200,#ffd000,#ffdf00,#ffed00,#fffc00,#f2ff00,#e3ff00,#d3ff00,#c2ff00,#b2ff00,#a1ff00,#8fff00,#7dff00,#6bff00,#58ff00,#43ff00,#2cff00,#16ff00,#00ff01,#00ff16,#00ff2c,#00ff43,#00ff58,#00ff6b,#00ff7d,#00ff8f,#00ffa0,#00ffb1,#00ffc2,#00ffd2,#00ffe2,#00fff1,#00fdff,#00eeff,#00e0ff,#00d1ff,#00c4ff,#00b6ff,#00a9ff,#009cff,#008fff,#0082ff,#0076ff,#0069ff,#005cff,#004eff,#0040ff,#002fff,#0021ff,#0014ff)"></i><i style="background:linear-gradient(90deg,#ff2300,#ff3200,#ff4200,#ff5000,#ff5d00,#ff6a00,#ff7600,#ff8300,#ff8f00,#ff9b00,#ffa800,#ffb500,#ffc300,#ffd100,#ffdf00,#ffee00,#fffd00,#f2ff00,#e2ff00,#d2ff00,#c2ff00,#b2ff00,#a1ff00,#8fff00,#7eff00,#6bff00,#58ff00,#44ff00,#2eff00,#17ff00,#00ff01,#00ff17,#00ff2e,#00ff44,#00ff58,#00ff6b,#00ff7e,#00ff8f,#00ffa0,#00ffb1,#00ffc2,#00ffd2,#00ffe1,#00fff1,#00feff,#00efff,#00e0ff,#00d2ff,#00c4ff,#00b7ff,#00aaff,#009dff,#0090ff,#0084ff,#0077ff,#006bff,#005eff,#0051ff,#0043ff,#0033ff,#0024ff,#0016ff)"></i><i style="background:linear-gradient(90deg,#ff2600,#ff3600,#ff4500,#ff5300,#ff5f00,#ff6c00,#ff7800,#ff8400,#ff9000,#ff9c00,#ffa900,#ffb600,#ffc400,#ffd100,#ffe000,#ffee00,#fffd00,#f2ff00,#e2ff00,#d2ff00,#c2ff00,#b2ff00,#a1ff00,#90ff00,#7eff00,#6cff00,#59ff00,#45ff00,#2fff00,#17ff00,#00ff01,#00ff18,#00ff2f,#00ff45,#00ff59,#00ff6c,#00ff7e,#00ff8f,#00ffa0,#00ffb1,#00ffc1,#00ffd1,#00ffe1,#00fff1,#00feff,#00efff,#00e1ff,#00d3ff,#00c5ff,#00b8ff,#00abff,#009eff,#0091ff,#0085ff,#0079ff,#006dff,#0060ff,#0053ff,#0046ff,#0037ff,#0027ff,#0019ff)"></i><i style="background:linear-gradient(90deg,#ff2a00,#ff3a00,#ff4800,#ff5500,#ff6100,#ff6d00,#ff7900,#ff8500,#ff9100,#ff9d00,#ffaa00,#ffb700,#ffc400,#ffd200,#ffe000,#ffef00,#fffe00,#f1ff00,#e2ff00,#d2ff00,#c2ff00,#b1ff00,#a1ff00,#90ff00,#7eff00,#6cff00,#59ff00,#46ff00,#30ff00,#19ff00,#00ff01,#00ff19,#00ff30,#00ff46,#00ff59,#00ff6c,#00ff7e,#00ff8f,#00ffa0,#00ffb1,#00ffc1,#00ffd1,#00ffe1,#00fff0,#00ffff,#00f0ff,#00e2ff,#00d4ff,#00c6ff,#00b9ff,#00acff,#009fff,#0093ff,#0087ff,#007aff,#006eff,#0062ff,#0056ff,#0048ff,#003aff,#002aff,#001cff)"></i><i style="background:linear-gradient(90deg,#ff2e00,#ff3d00,#ff4a00,#ff5700,#ff6300,#ff6f00,#ff7b00,#ff8600,#ff9200,#ff9e00,#ffab00,#ffb800,#ffc500,#ffd300,#ffe100,#ffef00,#fffe00,#f1ff00,#e1ff00,#d2ff00,#c2ff00,#b1ff00,#a1ff00,#8fff00,#7eff00,#6cff00,#59ff00,#46ff00,#31ff00,#1aff00,#00ff01,#00ff1a,#00ff31,#00ff46,#00ff59,#00ff6c,#00ff7e,#00ff8f,#00ffa0,#00ffb1,#00ffc1,#00ffd1,#00ffe0,#00fff0,#00ffff,#00f1ff,#00e2ff,#00d4ff,#00c7ff,#00baff,#00adff,#00a0ff,#0094ff,#0088ff,#007cff,#0070ff,#0064ff,#0058ff,#004bff,#003dff,#002eff,#001fff)"></i><i style="background:linear-gradient(90deg,#ff3100,#ff4000,#ff4d00,#ff5900,#ff6500,#ff7000,#ff7c00,#ff8800,#ff9300,#ff9f00,#ffac00,#ffb900,#ffc600,#ffd300,#ffe100,#fff000,#fffe00,#f0ff00,#e1ff00,#d1ff00,#c1ff00,#b1ff00,#a0ff00,#8fff00,#7eff00,#6cff00,#59ff00,#46ff00,#31ff00,#1bff00,#00ff01,#00ff1b,#00ff31,#00ff46,#00ff59,#00ff6c,#00ff7e,#00ff8f,#00ffa0,#00ffb0,#00ffc0,#00ffd0,#00ffe0,#00ffef,#00fffe,#00f1ff,#00e3ff,#00d5ff,#00c7ff,#00baff,#00aeff,#00a1ff,#0095ff,#0089ff,#007dff,#0072ff,#0066ff,#005aff,#004dff,#0040ff,#0032ff,#0022ff)"></i><i style="background:linear-gradient(90deg,#ff3500,#ff4200,#ff4f00,#ff5b00,#ff6700,#ff7200,#ff7d00,#ff8900,#ff9500,#ffa000,#ffad00,#ffb900,#ffc600,#ffd400,#ffe200,#fff000,#ffff00,#f0ff00,#e1ff00,#d1ff00,#c1ff00,#b1ff00,#a0ff00,#8fff00,#7eff00,#6cff00,#59ff00,#46ff00,#31ff00,#1bff00,#00ff01,#00ff1b,#00ff31,#00ff46,#00ff59,#00ff6c,#00ff7d,#00ff8f,#00ffa0,#00ffb0,#00ffc0,#00ffd0,#00ffdf,#00ffef,#00fffe,#00f2ff,#00e4ff,#00d6ff,#00c8ff,#00bbff,#00afff,#00a2ff,#0096ff,#008bff,#007fff,#0073ff,#0068ff,#005cff,#0050ff,#0043ff,#0035ff,#0026ff)"></i><i style="background:linear-gradient(90deg,#ff3800,#ff4500,#ff5100,#ff5d00,#ff6800,#ff7300,#ff7f00,#ff8a00,#ff9600,#ffa100,#ffae00,#ffba00,#ffc700,#ffd500,#ffe200,#fff100,#ffff00,#f0ff00,#e0ff00,#d0ff00,#c1ff00,#b0ff00,#a0ff00,#8fff00,#7dff00,#6cff00,#59ff00,#46ff00,#31ff00,#1aff00,#00ff01,#00ff1b,#00ff31,#00ff46,#00ff59,#00ff6b,#00ff7d,#00ff8e,#00ff9f,#00ffb0,#00ffc0,#00ffcf,#00ffdf,#00ffee,#00fffd,#00f2ff,#00e4ff,#00d6ff,#00c9ff,#00bcff,#00b0ff,#00a3ff,#0098ff,#008cff,#0080ff,#0075ff,#006aff,#005eff,#0052ff,#0046ff,#0038ff,#002aff)"></i><i style="background:linear-gradient(90deg,#ff3b00,#ff4700,#ff5300,#ff5f00,#ff6a00,#ff7500,#ff8000,#ff8b00,#ff9700,#ffa200,#ffae00,#ffbb00,#ffc800,#ffd500,#ffe300,#fff100,#feff00,#efff00,#e0ff00,#d0ff00,#c0ff00,#b0ff00,#9fff00,#8eff00,#7dff00,#6bff00,#59ff00,#45ff00,#31ff00,#19ff00,#00ff01,#00ff1a,#00ff31,#00ff45,#00ff59,#00ff6b,#00ff7d,#00ff8e,#00ff9f,#00ffaf,#00ffbf,#00ffcf,#00ffde,#00ffee,#00fffc,#00f3ff,#00e5ff,#00d7ff,#00caff,#00bdff,#00b1ff,#00a4ff,#0099ff,#008dff,#0082ff,#0077ff,#006bff,#0060ff,#0054ff,#0048ff,#003bff,#002dff)"></i><i style="background:linear-gradient(90deg,#ff3d00,#ff4a00,#ff5500,#ff6100,#ff6c00,#ff7600,#ff8100,#ff8c00,#ff9800,#ffa300,#ffaf00,#ffbc00,#ffc900,#ffd600,#ffe400,#fff200,#fdff00,#eeff00,#dfff00,#d0ff00,#c0ff00,#afff00,#9fff00,#8eff00,#7dff00,#6bff00,#58ff00,#45ff00,#30ff00,#18ff00,#00ff01,#00ff18,#00ff30,#00ff45,#00ff58,#00ff6b,#00ff7c,#00ff8d,#00ff9e,#00ffaf,#00ffbf,#00ffce,#00ffde,#00ffed,#00fffc,#00f4ff,#00e6ff,#00d8ff,#00cbff,#00beff,#00b2ff,#00a6ff,#009aff,#008eff,#0083ff,#0078ff,#006dff,#0062ff,#0056ff,#004bff,#003eff,#0031ff)"></i><i style="background:linear-gradient(90deg,#ff4000,#ff4c00,#ff5700,#ff6200,#ff6d00,#ff7800,#ff8300,#ff8e00,#ff9900,#ffa400,#ffb000,#ffbd00,#ffc900,#ffd700,#ffe400,#fff300,#fdff00,#eeff00,#dfff00,#cfff00,#bfff00,#afff00,#9eff00,#8dff00,#7cff00,#6aff00,#57ff00,#44ff00,#2eff00,#17ff00,#00ff01,#00ff17,#00ff2e,#00ff44,#00ff57,#00ff6a,#00ff7c,#00ff8d,#00ff9e,#00ffae,#00ffbe,#00ffce,#00ffdd,#00ffec,#00fffb,#00f4ff,#00e6ff,#00d9ff,#00ccff,#00bfff,#00b3ff,#00a7ff,#009bff,#0090ff,#0085ff,#007aff,#006fff,#0064ff,#0058ff,#004dff,#0041ff,#0034ff)"></i><i style="background:linear-gradient(90deg,#ff4200,#ff4e00,#ff5900,#ff6400,#ff6f00,#ff7900,#ff8400,#ff8f00,#ff9a00,#ffa500,#ffb100,#ffbd00,#ffca00,#ffd700,#ffe500,#fff300,#fcff00,#edff00,#deff00,#ceff00,#beff00,#aeff00,#9eff00,#8dff00,#7bff00,#69ff00,#57ff00,#43ff00,#2cff00,#16ff00,#00ff01,#00ff16,#00ff2d,#00ff43,#00ff56,#00ff69,#00ff7b,#00ff8c,#00ff9d,#00ffad,#00ffbd,#00ffcd,#00ffdd,#00ffec,#00fffa,#00f5ff,#00e7ff,#00daff,#00cdff,#00c0ff,#00b4ff,#00a8ff,#009cff,#0091ff,#0086ff,#007bff,#0070ff,#0065ff,#005aff,#004fff,#0043ff,#0037ff)"></i><i style="background:linear-gradient(90deg,#ff4500,#ff5000,#ff5b00,#ff6600,#ff7000,#ff7b00,#ff8500,#ff9000,#ff9b00,#ffa600,#ffb200,#ffbe00,#ffcb00,#ffd800,#ffe600,#fff400,#fcff00,#edff00,#ddff00,#ceff00,#beff00,#adff00,#9dff00,#8cff00,#7aff00,#68ff00,#55ff00,#41ff00,#2bff00,#15ff00,#00ff01,#00ff15,#00ff2b,#00ff41,#00ff55,#00ff68,#00ff7a,#00ff8b,#00ff9c,#00ffad,#00ffbd,#00ffcc,#00ffdc,#00ffeb,#00fffa,#00f6ff,#00e8ff,#00dbff,#00cdff,#00c1ff,#00b5ff,#00a9ff,#009dff,#0092ff,#0087ff,#007dff,#0072ff,#0067ff,#005cff,#0051ff,#0046ff,#003aff)"></i><i style="background:linear-gradient(90deg,#ff4700,#ff5200,#ff5d00,#ff6700,#ff7200,#ff7c00,#ff8700,#ff9100,#ff9c00,#ffa700,#ffb300,#ffbf00,#ffcc00,#ffd900,#ffe600,#fff500,#fbff00,#ecff00,#ddff00,#cdff00,#bdff00,#adff00,#9cff00,#8bff00,#7aff00,#67ff00,#54ff00,#3fff00,#29ff00,#15ff00,#00ff01,#00ff15,#00ff29,#00ff3f,#00ff54,#00ff67,#00ff79,#00ff8a,#00ff9b,#00ffac,#00ffbc,#00ffcc,#00ffdb,#00ffea,#00fff9,#00f7ff,#00e9ff,#00dbff,#00ceff,#00c2ff,#00b6ff,#00aaff,#009fff,#0094ff,#0089ff,#007eff,#0074ff,#0069ff,#005eff,#0053ff,#0048ff,#003cff)"></i><i style="background:linear-gradient(90deg,#ff4900,#ff5400,#ff5f00,#ff6900,#ff7300,#ff7e00,#ff8800,#ff9200,#ff9d00,#ffa800,#ffb400,#ffc000,#ffcc00,#ffda00,#ffe700,#fff500,#faff00,#ebff00,#dcff00,#ccff00,#bcff00,#acff00,#9bff00,#8aff00,#78ff00,#66ff00,#52ff00,#3dff00,#28ff00,#14ff00,#00ff01,#00ff14,#00ff28,#00ff3d,#00ff52,#00ff66,#00ff78,#00ff8a,#00ff9a,#00ffab,#00ffbb,#00ffcb,#00ffda,#00ffe9,#00fff8,#00f8ff,#00eaff,#00dcff,#00cfff,#00c3ff,#00b7ff,#00abff,#00a0ff,#0095ff,#008aff,#0080ff,#0075ff,#006bff,#0060ff,#0055ff,#004aff,#003fff)"></i><i style="background:linear-gradient(90deg,#ff4c00,#ff5600,#ff6100,#ff6b00,#ff7500,#ff7f00,#ff8900,#ff9300,#ff9e00,#ffa900,#ffb500,#ffc100,#ffcd00,#ffda00,#ffe800,#fff600,#f9ff00,#ebff00,#dbff00,#cbff00,#bbff00,#abff00,#9aff00,#89ff00,#77ff00,#65ff00,#51ff00,#3bff00,#27ff00,#13ff00,#00ff01,#00ff14,#00ff27,#00ff3b,#00ff50,#00ff64,#00ff77,#00ff88,#00ff99,#00ffaa,#00ffba,#00ffca,#00ffd9,#00ffe8,#00fff7,#00f8ff,#00ebff,#00ddff,#00d0ff,#00c4ff,#00b8ff,#00acff,#00a1ff,#0096ff,#008bff,#0081ff,#0077ff,#006dff,#0062ff,#0058ff,#004dff,#0041ff)"></i><i style="background:linear-gradient(90deg,#ff4e00,#ff5800,#ff6200,#ff6c00,#ff7600,#ff8000,#ff8a00,#ff9500,#ff9f00,#ffaa00,#ffb600,#ffc200,#ffce00,#ffdb00,#ffe900,#fff700,#f9ff00,#eaff00,#daff00,#cbff00,#bbff00,#aaff00,#99ff00,#88ff00,#76ff00,#63ff00,#4eff00,#39ff00,#26ff00,#13ff00,#00ff01,#00ff13,#00ff26,#00ff39,#00ff4e,#00ff63,#00ff75,#00ff87,#00ff98,#00ffa9,#00ffb9,#00ffc9,#00ffd8,#00ffe8,#00fff6,#00f9ff,#00ebff,#00deff,#00d1ff,#00c5ff,#00b9ff,#00adff,#00a2ff,#0097ff,#008dff,#0083ff,#0078ff,#006eff,#0064ff,#005aff,#004fff,#0044ff)"></i><i style="background:linear-gradient(90deg,#ff5000,#ff5a00,#ff6400,#ff6e00,#ff7800,#ff8200,#ff8c00,#ff9600,#ffa000,#ffab00,#ffb700,#ffc200,#ffcf00,#ffdc00,#ffe900,#fff800,#f8ff00,#e9ff00,#daff00,#caff00,#baff00,#a9ff00,#98ff00,#87ff00,#74ff00,#61ff00,#4cff00,#38ff00,#25ff00,#13ff00,#00ff01,#00ff13,#00ff25,#00ff37,#00ff4b,#00ff61,#00ff74,#00ff86,#00ff97,#00ffa8,#00ffb8,#00ffc8,#00ffd8,#00ffe7,#00fff5,#00faff,#00ecff,#00dfff,#00d2ff,#00c6ff,#00baff,#00aeff,#00a3ff,#0099ff,#008eff,#0084ff,#007aff,#0070ff,#0066ff,#005cff,#0051ff,#0046ff)"></i><i style="background:linear-gradient(90deg,#ff5200,#ff5c00,#ff6600,#ff7000,#ff7900,#ff8300,#ff8d00,#ff9700,#ffa100,#ffac00,#ffb700,#ffc300,#ffd000,#ffdd00,#ffea00,#fff800,#f7ff00,#e8ff00,#d9ff00,#c9ff00,#b9ff00,#a8ff00,#97ff00,#85ff00,#73ff00,#5fff00,#4aff00,#36ff00,#24ff00,#12ff00,#00ff01,#00ff12,#00ff24,#00ff36,#00ff49,#00ff5e,#00ff72,#00ff85,#00ff96,#00ffa7,#00ffb7,#00ffc7,#00ffd7,#00ffe6,#00fff4,#00fbff,#00edff,#00e0ff,#00d3ff,#00c7ff,#00bbff,#00afff,#00a4ff,#009aff,#0090ff,#0085ff,#007cff,#0072ff,#0068ff,#005dff,#0053ff,#0048ff)"></i><i style="background:linear-gradient(90deg,#ff5400,#ff5e00,#ff6800,#ff7100,#ff7b00,#ff8400,#ff8e00,#ff9800,#ffa200,#ffad00,#ffb800,#ffc400,#ffd100,#ffde00,#ffeb00,#fff900,#f6ff00,#e7ff00,#d8ff00,#c8ff00,#b8ff00,#a7ff00,#96ff00,#84ff00,#71ff00,#5cff00,#48ff00,#35ff00,#23ff00,#12ff00,#00ff01,#00ff12,#00ff23,#00ff35,#00ff47,#00ff5c,#00ff70,#00ff83,#00ff95,#00ffa6,#00ffb6,#00ffc6,#00ffd6,#00ffe5,#00fff4,#00fcff,#00eeff,#00e1ff,#00d4ff,#00c8ff,#00bcff,#00b1ff,#00a6ff,#009bff,#0091ff,#0087ff,#007dff,#0073ff,#0069ff,#005fff,#0055ff,#004bff)"></i><i style="background:linear-gradient(90deg,#ff5600,#ff6000,#ff6900,#ff7300,#ff7c00,#ff8600,#ff8f00,#ff9900,#ffa300,#ffae00,#ffb900,#ffc500,#ffd100,#ffde00,#ffec00,#fffa00,#f5ff00,#e6ff00,#d7ff00,#c7ff00,#b6ff00,#a6ff00,#94ff00,#82ff00,#6fff00,#59ff00,#46ff00,#34ff00,#22ff00,#12ff00,#00ff01,#00ff12,#00ff22,#00ff34,#00ff46,#00ff59,#00ff6e,#00ff81,#00ff93,#00ffa4,#00ffb5,#00ffc5,#00ffd4,#00ffe4,#00fff3,#00fdff,#00efff,#00e2ff,#00d5ff,#00c9ff,#00bdff,#00b2ff,#00a7ff,#009cff,#0092ff,#0088ff,#007fff,#0075ff,#006bff,#0061ff,#0057ff,#004dff)"></i><i style="background:linear-gradient(90deg,#ff5800,#ff6200,#ff6b00,#ff7400,#ff7e00,#ff8700,#ff9100,#ff9a00,#ffa500,#ffaf00,#ffba00,#ffc600,#ffd200,#ffdf00,#ffed00,#fffb00,#f4ff00,#e5ff00,#d6ff00,#c6ff00,#b5ff00,#a4ff00,#93ff00,#80ff00,#6cff00,#57ff00,#44ff00,#33ff00,#22ff00,#11ff00,#00ff01,#00ff11,#00ff22,#00ff33,#00ff44,#00ff57,#00ff6b,#00ff7f,#00ff91,#00ffa3,#00ffb3,#00ffc4,#00ffd3,#00ffe3,#00fff1,#00feff,#00f0ff,#00e3ff,#00d6ff,#00caff,#00beff,#00b3ff,#00a8ff,#009eff,#0094ff,#008aff,#0080ff,#0077ff,#006dff,#0063ff,#0059ff,#004fff)"></i><i style="background:linear-gradient(90deg,#ff5a00,#ff6300,#ff6d00,#ff7600,#ff7f00,#ff8800,#ff9200,#ff9b00,#ffa600,#ffb000,#ffbb00,#ffc700,#ffd300,#ffe000,#ffee00,#fffc00,#f3ff00,#e4ff00,#d5ff00,#c4ff00,#b4ff00,#a3ff00,#91ff00,#7eff00,#69ff00,#55ff00,#43ff00,#32ff00,#21ff00,#11ff00,#00ff01,#00ff11,#00ff21,#00ff32,#00ff43,#00ff55,#00ff68,#00ff7d,#00ff90,#00ffa1,#00ffb2,#00ffc2,#00ffd2,#00ffe1,#00fff0,#00ffff,#00f1ff,#00e4ff,#00d7ff,#00cbff,#00bfff,#00b4ff,#00a9ff,#009fff,#0095ff,#008bff,#0082ff,#0078ff,#006fff,#0065ff,#005bff,#0051ff)"></i><i style="background:linear-gradient(90deg,#ff5c00,#ff6500,#ff6e00,#ff7700,#ff8100,#ff8a00,#ff9300,#ff9d00,#ffa700,#ffb100,#ffbc00,#ffc800,#ffd400,#ffe100,#ffef00,#fffd00,#f2ff00,#e3ff00,#d3ff00,#c3ff00,#b2ff00,#a1ff00,#8fff00,#7bff00,#66ff00,#54ff00,#42ff00,#31ff00,#21ff00,#11ff00,#00ff01,#00ff11,#00ff21,#00ff31,#00ff42,#00ff53,#00ff66,#00ff7a,#00ff8e,#00ffa0,#00ffb1,#00ffc1,#00ffd1,#00ffe0,#00ffef,#00fffe,#00f2ff,#00e5ff,#00d8ff,#00ccff,#00c0ff,#00b5ff,#00aaff,#00a0ff,#0096ff,#008dff,#0083ff,#007aff,#0070ff,#0067ff,#005dff,#0053ff)"></i><i style="background:linear-gradient(90deg,#ff5e00,#ff6700,#ff7000,#ff7900,#ff8200,#ff8b00,#ff9400,#ff9e00,#ffa800,#ffb200,#ffbd00,#ffc900,#ffd500,#ffe200,#fff000,#fffe00,#f1ff00,#e2ff00,#d2ff00,#c2ff00,#b1ff00,#9fff00,#8dff00,#78ff00,#64ff00,#52ff00,#41ff00,#30ff00,#20ff00,#11ff00,#00ff01,#00ff10,#00ff20,#00ff30,#00ff40,#00ff51,#00ff63,#00ff77,#00ff8b,#00ff9e,#00ffaf,#00ffc0,#00ffd0,#00ffdf,#00ffee,#00fffd,#00f4ff,#00e6ff,#00d9ff,#00cdff,#00c1ff,#00b6ff,#00acff,#00a2ff,#0098ff,#008eff,#0085ff,#007cff,#0072ff,#0069ff,#005fff,#0055ff)"></i><i style="background:linear-gradient(90deg,#ff6000,#ff6900,#ff7200,#ff7b00,#ff8300,#ff8c00,#ff9600,#ff9f00,#ffa900,#ffb300,#ffbe00,#ffca00,#ffd600,#ffe300,#fff100,#ffff00,#f0ff00,#e1ff00,#d1ff00,#c0ff00,#afff00,#9dff00,#8aff00,#75ff00,#62ff00,#50ff00,#40ff00,#2fff00,#20ff00,#10ff00,#00ff01,#00ff10,#00ff20,#00ff2f,#00ff3f,#00ff50,#00ff61,#00ff74,#00ff89,#00ff9c,#00ffad,#00ffbe,#00ffce,#00ffde,#00ffed,#00fffb,#00f5ff,#00e7ff,#00daff,#00ceff,#00c3ff,#00b8ff,#00adff,#00a3ff,#0099ff,#0090ff,#0086ff,#007dff,#0074ff,#006bff,#0061ff,#0058ff)"></i><i style="background:linear-gradient(90deg,#ff6200,#ff6b00,#ff7300,#ff7c00,#ff8500,#ff8e00,#ff9700,#ffa000,#ffaa00,#ffb400,#ffbf00,#ffcb00,#ffd700,#ffe400,#fff200,#feff00,#efff00,#e0ff00,#cfff00,#bfff00,#adff00,#9bff00,#87ff00,#73ff00,#60ff00,#4fff00,#3fff00,#2fff00,#1fff00,#10ff00,#00ff01,#00ff10,#00ff1f,#00ff2e,#00ff3e,#00ff4e,#00ff60,#00ff72,#00ff86,#00ff9a,#00ffab,#00ffbc,#00ffcd,#00ffdc,#00ffec,#00fffa,#00f6ff,#00e8ff,#00dcff,#00cfff,#00c4ff,#00b9ff,#00aeff,#00a4ff,#009aff,#0091ff,#0088ff,#007fff,#0076ff,#006cff,#0063ff,#005aff)"></i><i style="background:linear-gradient(90deg,#ff6300,#ff6c00,#ff7500,#ff7e00,#ff8600,#ff8f00,#ff9800,#ffa100,#ffab00,#ffb500,#ffc000,#ffcc00,#ffd800,#ffe500,#fff300,#fdff00,#eeff00,#deff00,#ceff00,#bdff00,#acff00,#99ff00,#84ff00,#71ff00,#5fff00,#4eff00,#3eff00,#2eff00,#1fff00,#10ff00,#00ff01,#00ff10,#00ff1f,#00ff2e,#00ff3d,#00ff4d,#00ff5e,#00ff70,#00ff83,#00ff97,#00ffa9,#00ffbb,#00ffcb,#00ffdb,#00ffea,#00fff9,#00f7ff,#00eaff,#00ddff,#00d1ff,#00c5ff,#00baff,#00afff,#00a5ff,#009cff,#0093ff,#0089ff,#0080ff,#0077ff,#006eff,#0065ff,#005cff)"></i><i style="background:linear-gradient(90deg,#ff6500,#ff6e00,#ff7700,#ff7f00,#ff8800,#ff9000,#ff9900,#ffa300,#ffac00,#ffb700,#ffc100,#ffcd00,#ffd900,#ffe600,#fff400,#fcff00,#edff00,#ddff00,#ccff00,#bbff00,#a9ff00,#96ff00,#81ff00,#6fff00,#5dff00,#4dff00,#3dff00,#2dff00,#1eff00,#10ff00,#00ff01,#00ff10,#00ff1e,#00ff2d,#00ff3c,#00ff4c,#00ff5c,#00ff6d,#00ff80,#00ff94,#00ffa7,#00ffb9,#00ffca,#00ffd9,#00ffe9,#00fff8,#00f8ff,#00ebff,#00deff,#00d2ff,#00c6ff,#00bbff,#00b1ff,#00a7ff,#009dff,#0094ff,#008bff,#0082ff,#0079ff,#0070ff,#0067ff,#005eff)"></i><i style="background:linear-gradient(90deg,#ff6700,#ff7000,#ff7800,#ff8100,#ff8900,#ff9200,#ff9b00,#ffa400,#ffad00,#ffb800,#ffc200,#ffce00,#ffda00,#ffe700,#fff500,#faff00,#ebff00,#dbff00,#cbff00,#baff00,#a7ff00,#93ff00,#7fff00,#6dff00,#5cff00,#4cff00,#3cff00,#2dff00,#1eff00,#0fff00,#00ff01,#00ff0f,#00ff1e,#00ff2c,#00ff3b,#00ff4b,#00ff5b,#00ff6c,#00ff7d,#00ff91,#00ffa5,#00ffb7,#00ffc8,#00ffd8,#00ffe7,#00fff6,#00faff,#00ecff,#00dfff,#00d3ff,#00c7ff,#00bcff,#00b2ff,#00a8ff,#009fff,#0095ff,#008cff,#0084ff,#007bff,#0072ff,#0069ff,#0060ff)"></i><i style="background:linear-gradient(90deg,#ff6900,#ff7200,#ff7a00,#ff8200,#ff8b00,#ff9300,#ff9c00,#ffa500,#ffaf00,#ffb900,#ffc400,#ffcf00,#ffdb00,#ffe800,#fff600,#f9ff00,#eaff00,#daff00,#c9ff00,#b8ff00,#a5ff00,#90ff00,#7dff00,#6bff00,#5aff00,#4aff00,#3bff00,#2cff00,#1eff00,#0fff00,#00ff01,#00ff0f,#00ff1d,#00ff2c,#00ff3b,#00ff4a,#00ff59,#00ff6a,#00ff7b,#00ff8e,#00ffa2,#00ffb5,#00ffc6,#00ffd6,#00ffe6,#00fff5,#00fbff,#00edff,#00e0ff,#00d4ff,#00c9ff,#00beff,#00b3ff,#00aaff,#00a0ff,#0097ff,#008eff,#0085ff,#007dff,#0074ff,#006bff,#0062ff)"></i><i style="background:linear-gradient(90deg,#ff6b00,#ff7300,#ff7c00,#ff8400,#ff8c00,#ff9400,#ff9d00,#ffa600,#ffb000,#ffba00,#ffc500,#ffd000,#ffdd00,#ffea00,#fff800,#f8ff00,#e8ff00,#d8ff00,#c7ff00,#b5ff00,#a2ff00,#8dff00,#7bff00,#69ff00,#59ff00,#49ff00,#3aff00,#2cff00,#1dff00,#0fff00,#00ff01,#00ff0f,#00ff1d,#00ff2b,#00ff3a,#00ff49,#00ff58,#00ff68,#00ff79,#00ff8b,#00ff9f,#00ffb2,#00ffc4,#00ffd5,#00ffe4,#00fff3,#00fcff,#00efff,#00e2ff,#00d6ff,#00caff,#00bfff,#00b5ff,#00abff,#00a1ff,#0098ff,#0090ff,#0087ff,#007eff,#0076ff,#006dff,#0064ff)"></i><i style="background:linear-gradient(90deg,#ff6d00,#ff7500,#ff7d00,#ff8500,#ff8d00,#ff9600,#ff9e00,#ffa700,#ffb100,#ffbb00,#ffc600,#ffd100,#ffde00,#ffeb00,#fff900,#f6ff00,#e7ff00,#d7ff00,#c5ff00,#b3ff00,#9eff00,#8bff00,#79ff00,#68ff00,#58ff00,#48ff00,#3aff00,#2bff00,#1dff00,#0fff00,#00ff01,#00ff0f,#00ff1d,#00ff2b,#00ff39,#00ff48,#00ff57,#00ff67,#00ff77,#00ff89,#00ff9c,#00ffb0,#00ffc2,#00ffd3,#00ffe3,#00fff2,#00feff,#00f0ff,#00e3ff,#00d7ff,#00cbff,#00c0ff,#00b6ff,#00acff,#00a3ff,#009aff,#0091ff,#0089ff,#0080ff,#0077ff,#006fff,#0066ff)"></i><i style="background:linear-gradient(90deg,#ff6f00,#ff7700,#ff7f00,#ff8700,#ff8f00,#ff9700,#ffa000,#ffa900,#ffb200,#ffbc00,#ffc700,#ffd300,#ffdf00,#ffec00,#fffa00,#f5ff00,#e5ff00,#d5ff00,#c3ff00,#b0ff00,#9bff00,#89ff00,#77ff00,#67ff00,#57ff00,#48ff00,#39ff00,#2aff00,#1dff00,#0fff00,#00ff01,#00ff0f,#00ff1c,#00ff2a,#00ff38,#00ff47,#00ff56,#00ff65,#00ff75,#00ff86,#00ff99,#00ffad,#00ffc0,#00ffd1,#00ffe1,#00fff0,#00ffff,#00f2ff,#00e4ff,#00d8ff,#00cdff,#00c2ff,#00b7ff,#00aeff,#00a4ff,#009bff,#0093ff,#008aff,#0082ff,#0079ff,#0071ff,#0068ff)"></i><i style="background:linear-gradient(90deg,#ff7000,#ff7800,#ff8000,#ff8800,#ff9000,#ff9900,#ffa100,#ffaa00,#ffb300,#ffbd00,#ffc800,#ffd400,#ffe000,#ffed00,#fffc00,#f3ff00,#e4ff00,#d3ff00,#c1ff00,#adff00,#99ff00,#87ff00,#75ff00,#65ff00,#56ff00,#47ff00,#38ff00,#2aff00,#1cff00,#0fff00,#00ff01,#00ff0e,#00ff1c,#00ff2a,#00ff37,#00ff46,#00ff54,#00ff64,#00ff74,#00ff84,#00ff96,#00ffaa,#00ffbd,#00ffcf,#00ffdf,#00ffef,#00fffd,#00f3ff,#00e6ff,#00daff,#00ceff,#00c3ff,#00b9ff,#00afff,#00a6ff,#009dff,#0094ff,#008cff,#0083ff,#007bff,#0072ff,#006aff)"></i><i style="background:linear-gradient(90deg,#ff7200,#ff7a00,#ff8200,#ff8a00,#ff9200,#ff9a00,#ffa200,#ffab00,#ffb500,#ffbf00,#ffc900,#ffd500,#ffe100,#ffef00,#fffd00,#f2ff00,#e2ff00,#d1ff00,#beff00,#aaff00,#96ff00,#85ff00,#74ff00,#64ff00,#55ff00,#46ff00,#37ff00,#29ff00,#1cff00,#0eff00,#00ff01,#00ff0e,#00ff1c,#00ff29,#00ff37,#00ff45,#00ff53,#00ff62,#00ff72,#00ff82,#00ff94,#00ffa6,#00ffba,#00ffcc,#00ffdd,#00ffed,#00fffc,#00f4ff,#00e7ff,#00dbff,#00cfff,#00c4ff,#00baff,#00b1ff,#00a7ff,#009eff,#0096ff,#008eff,#0085ff,#007dff,#0074ff,#006cff)"></i><i style="background:linear-gradient(90deg,#ff7400,#ff7c00,#ff8400,#ff8c00,#ff9300,#ff9b00,#ffa400,#ffac00,#ffb600,#ffc000,#ffcb00,#ffd600,#ffe300,#fff000,#fffe00,#f0ff00,#e0ff00,#ceff00,#bbff00,#a7ff00,#94ff00,#83ff00,#72ff00,#63ff00,#54ff00,#45ff00,#37ff00,#29ff00,#1cff00,#0eff00,#00ff01,#00ff0e,#00ff1b,#00ff29,#00ff36,#00ff44,#00ff52,#00ff61,#00ff70,#00ff80,#00ff91,#00ffa3,#00ffb7,#00ffca,#00ffdb,#00ffeb,#00fffa,#00f6ff,#00e9ff,#00dcff,#00d1ff,#00c6ff,#00bcff,#00b2ff,#00a9ff,#00a0ff,#0098ff,#008fff,#0087ff,#007fff,#0076ff,#006eff)"></i><i style="background:linear-gradient(90deg,#ff7600,#ff7e00,#ff8500,#ff8d00,#ff9500,#ff9d00,#ffa500,#ffae00,#ffb700,#ffc100,#ffcc00,#ffd800,#ffe400,#fff200,#feff00,#eeff00,#deff00,#ccff00,#b8ff00,#a4ff00,#92ff00,#81ff00,#71ff00,#62ff00,#53ff00,#44ff00,#36ff00,#29ff00,#1bff00,#0eff00,#00ff01,#00ff0e,#00ff1b,#00ff28,#00ff35,#00ff43,#00ff51,#00ff60,#00ff6f,#00ff7f,#00ff8f,#00ffa1,#00ffb4,#00ffc7,#00ffd9,#00ffe9,#00fff8,#00f8ff,#00eaff,#00deff,#00d2ff,#00c7ff,#00bdff,#00b3ff,#00aaff,#00a2ff,#0099ff,#0091ff,#0089ff,#0080ff,#0078ff,#0070ff)"></i><i style="background:linear-gradient(90deg,#ff7800,#ff7f00,#ff8700,#ff8f00,#ff9600,#ff9e00,#ffa600,#ffaf00,#ffb800,#ffc200,#ffcd00,#ffd900,#ffe500,#fff300,#fcff00,#edff00,#dcff00,#c9ff00,#b5ff00,#a2ff00,#90ff00,#80ff00,#70ff00,#60ff00,#52ff00,#43ff00,#36ff00,#28ff00,#1bff00,#0eff00,#00ff01,#00ff0e,#00ff1b,#00ff28,#00ff35,#00ff42,#00ff50,#00ff5f,#00ff6e,#00ff7d,#00ff8d,#00ff9e,#00ffb1,#00ffc5,#00ffd7,#00ffe7,#00fff6,#00f9ff,#00ecff,#00dfff,#00d4ff,#00c9ff,#00bfff,#00b5ff,#00acff,#00a3ff,#009bff,#0093ff,#008aff,#0082ff,#007aff,#0072ff)"></i><i style="background:linear-gradient(90deg,#ff7a00,#ff8100,#ff8900,#ff9000,#ff9800,#ffa000,#ffa800,#ffb000,#ffba00,#ffc400,#ffcf00,#ffda00,#ffe700,#fff500,#fbff00,#ebff00,#d9ff00,#c6ff00,#b2ff00,#a0ff00,#8fff00,#7eff00,#6eff00,#5fff00,#51ff00,#43ff00,#35ff00,#28ff00,#1bff00,#0eff00,#00ff01,#00ff0e,#00ff1a,#00ff27,#00ff34,#00ff42,#00ff4f,#00ff5e,#00ff6c,#00ff7c,#00ff8b,#00ff9c,#00ffae,#00ffc1,#00ffd4,#00ffe5,#00fff4,#00fbff,#00eeff,#00e1ff,#00d5ff,#00caff,#00c0ff,#00b6ff,#00adff,#00a5ff,#009cff,#0094ff,#008cff,#0084ff,#007cff,#0074ff)"></i><i style="background:linear-gradient(90deg,#ff7b00,#ff8300,#ff8a00,#ff9200,#ff9900,#ffa100,#ffa900,#ffb200,#ffbb00,#ffc500,#ffd000,#ffdc00,#ffe800,#fff600,#f9ff00,#e9ff00,#d7ff00,#c3ff00,#afff00,#9eff00,#8dff00,#7dff00,#6dff00,#5eff00,#50ff00,#42ff00,#34ff00,#27ff00,#1aff00,#0eff00,#00ff01,#00ff0e,#00ff1a,#00ff27,#00ff34,#00ff41,#00ff4e,#00ff5d,#00ff6b,#00ff7a,#00ff8a,#00ff9a,#00ffab,#00ffbe,#00ffd1,#00ffe3,#00fff2,#00fdff,#00efff,#00e3ff,#00d7ff,#00ccff,#00c2ff,#00b8ff,#00afff,#00a6ff,#009eff,#0096ff,#008eff,#0086ff,#007eff,#0076ff)"></i><i style="background:linear-gradient(90deg,#ff7d00,#ff8500,#ff8c00,#ff9300,#ff9b00,#ffa300,#ffab00,#ffb300,#ffbc00,#ffc600,#ffd100,#ffdd00,#ffea00,#fff800,#f7ff00,#e6ff00,#d4ff00,#c0ff00,#adff00,#9cff00,#8bff00,#7bff00,#6cff00,#5dff00,#4fff00,#41ff00,#34ff00,#27ff00,#1aff00,#0eff00,#00ff01,#00ff0d,#00ff1a,#00ff26,#00ff33,#00ff40,#00ff4e,#00ff5b,#00ff6a,#00ff79,#00ff88,#00ff98,#00ffa9,#00ffbb,#00ffce,#00ffe0,#00fff0,#00ffff,#00f1ff,#00e4ff,#00d8ff,#00cdff,#00c3ff,#00baff,#00b1ff,#00a8ff,#00a0ff,#0098ff,#0090ff,#0088ff,#0080ff,#0078ff)"></i><i style="background:linear-gradient(90deg,#ff7f00,#ff8600,#ff8e00,#ff9500,#ff9c00,#ffa400,#ffac00,#ffb500,#ffbe00,#ffc800,#ffd300,#ffdf00,#ffec00,#fffa00,#f5ff00,#e4ff00,#d0ff00,#bdff00,#abff00,#9aff00,#8aff00,#7aff00,#6bff00,#5cff00,#4eff00,#41ff00,#33ff00,#26ff00,#1aff00,#0eff00,#00ff01,#00ff0d,#00ff19,#00ff26,#00ff32,#00ff3f,#00ff4d,#00ff5a,#00ff69,#00ff77,#00ff86,#00ff96,#00ffa7,#00ffb8,#00ffcb,#00ffde,#00ffee,#00fffd,#00f3ff,#00e6ff,#00daff,#00cfff,#00c5ff,#00bbff,#00b2ff,#00aaff,#00a1ff,#0099ff,#0091ff,#008aff,#0082ff,#007aff)"></i><i style="background:linear-gradient(90deg,#ff8100,#ff8800,#ff8f00,#ff9700,#ff9e00,#ffa600,#ffae00,#ffb600,#ffbf00,#ffc900,#ffd400,#ffe000,#ffed00,#fffc00,#f3ff00,#e1ff00,#cdff00,#bbff00,#a9ff00,#98ff00,#88ff00,#79ff00,#6aff00,#5bff00,#4dff00,#40ff00,#33ff00,#26ff00,#1aff00,#0eff00,#00ff01,#00ff0d,#00ff19,#00ff25,#00ff32,#00ff3f,#00ff4c,#00ff5a,#00ff68,#00ff76,#00ff85,#00ff94,#00ffa4,#00ffb5,#00ffc7,#00ffdb,#00ffec,#00fffb,#00f5ff,#00e8ff,#00dcff,#00d1ff,#00c6ff,#00bdff,#00b4ff,#00abff,#00a3ff,#009bff,#0093ff,#008bff,#0084ff,#007cff)"></i><i style="background:linear-gradient(90deg,#ff8300,#ff8a00,#ff9100,#ff9800,#ffa000,#ffa700,#ffaf00,#ffb800,#ffc100,#ffcb00,#ffd600,#ffe200,#ffef00,#fffe00,#f0ff00,#deff00,#caff00,#b8ff00,#a7ff00,#97ff00,#87ff00,#78ff00,#69ff00,#5bff00,#4dff00,#3fff00,#32ff00,#26ff00,#19ff00,#0dff00,#00ff01,#00ff0d,#00ff19,#00ff25,#00ff31,#00ff3e,#00ff4b,#00ff59,#00ff66,#00ff75,#00ff83,#00ff93,#00ffa2,#00ffb3,#00ffc4,#00ffd7,#00ffe9,#00fff9,#00f7ff,#00eaff,#00ddff,#00d2ff,#00c8ff,#00beff,#00b5ff,#00adff,#00a5ff,#009dff,#0095ff,#008dff,#0086ff,#007eff)"></i><i style="background:linear-gradient(90deg,#ff8500,#ff8c00,#ff9300,#ff9a00,#ffa100,#ffa900,#ffb100,#ffb900,#ffc200,#ffcc00,#ffd700,#ffe400,#fff100,#feff00,#eeff00,#daff00,#c8ff00,#b6ff00,#a6ff00,#95ff00,#86ff00,#77ff00,#68ff00,#5aff00,#4cff00,#3fff00,#32ff00,#25ff00,#19ff00,#0dff00,#00ff01,#00ff0d,#00ff19,#00ff25,#00ff31,#00ff3d,#00ff4a,#00ff58,#00ff65,#00ff73,#00ff82,#00ff91,#00ffa1,#00ffb1,#00ffc2,#00ffd4,#00ffe6,#00fff7,#00f9ff,#00ebff,#00dfff,#00d4ff,#00caff,#00c0ff,#00b7ff,#00afff,#00a7ff,#009fff,#0097ff,#008fff,#0087ff,#0080ff)"></i><i style="background:linear-gradient(90deg,#ff8600,#ff8e00,#ff9500,#ff9c00,#ffa300,#ffaa00,#ffb200,#ffbb00,#ffc400,#ffce00,#ffd900,#ffe500,#fff300,#fcff00,#ebff00,#d7ff00,#c5ff00,#b4ff00,#a4ff00,#94ff00,#85ff00,#75ff00,#67ff00,#59ff00,#4bff00,#3eff00,#31ff00,#25ff00,#19ff00,#0dff00,#00ff01,#00ff0d,#00ff18,#00ff24,#00ff30,#00ff3d,#00ff4a,#00ff57,#00ff64,#00ff72,#00ff81,#00ff90,#00ff9f,#00ffaf,#00ffbf,#00ffd0,#00ffe3,#00fff4,#00fbff,#00edff,#00e1ff,#00d6ff,#00cbff,#00c2ff,#00b9ff,#00b0ff,#00a8ff,#00a0ff,#0099ff,#0091ff,#0089ff,#0082ff)"></i></div>
<div class="hm" style="left:296px;top:5px;width:183px;height:158px"><i style="background:linear-gradient(90deg,#00ffaf,#00ffa7,#00ffa1,#00ff9c,#00ff99,#00ff97,#00ff97,#00ff98,#00ff9a,#00ff9f,#00ffa6,#00ffae,#00ffba,#00ffc8,#00ffdb,#00fff4,#00e7ff,#00c7ff,#00b0ff,#009cff,#008bff,#007cff,#006eff,#0060ff,#0053ff,#0047ff,#003bff,#002fff,#0025ff,#001dff,#0018ff,#0017ff,#001bff,#0022ff,#002bff,#0037ff,#0043ff,#004fff,#005cff,#0069ff,#0076ff,#0085ff,#0096ff,#00a8ff,#00beff,#00daff,#00feff,#00ffe3,#00ffcf,#00ffbf,#00ffb2,#00ffa9,#00ffa1,#00ff9c,#00ff98,#00ff97,#00ff97,#00ff98,#00ff9b,#00ff9f,#00ffa5,#00ffac)"></i><i style="background:linear-gradient(90deg,#00ffac,#00ffa4,#00ff9e,#00ff98,#00ff94,#00ff92,#00ff91,#00ff91,#00ff94,#00ff97,#00ff9d,#00ffa5,#00ffb0,#00ffbd,#00ffce,#00ffe4,#00fbff,#00d8ff,#00beff,#00a8ff,#0096ff,#0086ff,#0078ff,#006aff,#005dff,#0050ff,#0044ff,#0038ff,#002eff,#0026ff,#0021ff,#0020ff,#0024ff,#002bff,#0034ff,#003fff,#004cff,#0058ff,#0065ff,#0073ff,#0081ff,#0090ff,#00a2ff,#00b5ff,#00cdff,#00edff,#00ffee,#00ffd5,#00ffc3,#00ffb4,#00ffa9,#00ffa0,#00ff99,#00ff95,#00ff92,#00ff91,#00ff91,#00ff93,#00ff97,#00ff9c,#00ffa2,#00ffa9)"></i><i style="background:linear-gradient(90deg,#00ffaa,#00ffa1,#00ff9a,#00ff94,#00ff90,#00ff8d,#00ff8b,#00ff8b,#00ff8d,#00ff90,#00ff95,#00ff9c,#00ffa6,#00ffb2,#00ffc1,#00ffd5,#00fff0,#00eaff,#00ccff,#00b5ff,#00a2ff,#0091ff,#0082ff,#0074ff,#0066ff,#0059ff,#004dff,#0041ff,#0037ff,#002fff,#002aff,#002aff,#002dff,#0034ff,#003dff,#0049ff,#0055ff,#0062ff,#006fff,#007dff,#008cff,#009cff,#00aeff,#00c3ff,#00deff,#00fffd,#00ffde,#00ffc8,#00ffb7,#00ffaa,#00ff9f,#00ff98,#00ff92,#00ff8e,#00ff8c,#00ff8b,#00ff8c,#00ff8f,#00ff93,#00ff98,#00ff9f,#00ffa7)"></i><i style="background:linear-gradient(90deg,#00ffa8,#00ff9f,#00ff97,#00ff91,#00ff8c,#00ff88,#00ff86,#00ff86,#00ff87,#00ff89,#00ff8d,#00ff94,#00ff9c,#00ffa7,#00ffb5,#00ffc7,#00ffdf,#00fdff,#00dcff,#00c3ff,#00aeff,#009dff,#008dff,#007eff,#0070ff,#0063ff,#0056ff,#004aff,#0040ff,#0038ff,#0034ff,#0033ff,#0036ff,#003dff,#0047ff,#0052ff,#005eff,#006bff,#0079ff,#0087ff,#0097ff,#00a8ff,#00bbff,#00d2ff,#00f0ff,#00ffea,#00ffcf,#00ffbb,#00ffac,#00ffa0,#00ff97,#00ff8f,#00ff8a,#00ff87,#00ff86,#00ff86,#00ff87,#00ff8a,#00ff8f,#00ff95,#00ff9c,#00ffa4)"></i><i style="background:linear-gradient(90deg,#00ffa6,#00ff9c,#00ff94,#00ff8d,#00ff88,#00ff84,#00ff81,#00ff80,#00ff80,#00ff82,#00ff86,#00ff8b,#00ff93,#00ff9d,#00ffaa,#00ffba,#00ffd0,#00ffed,#00edff,#00d1ff,#00bbff,#00a8ff,#0098ff,#0088ff,#007aff,#006cff,#0060ff,#0054ff,#004aff,#0042ff,#003dff,#003cff,#003fff,#0046ff,#0050ff,#005bff,#0068ff,#0075ff,#0083ff,#0092ff,#00a2ff,#00b4ff,#00c9ff,#00e2ff,#00fffb,#00ffd9,#00ffc2,#00ffb0,#00ffa1,#00ff96,#00ff8e,#00ff88,#00ff83,#00ff81,#00ff80,#00ff81,#00ff83,#00ff86,#00ff8b,#00ff92,#00ff99,#00ffa2)"></i><i style="background:linear-gradient(90deg,#00ffa4,#00ff9a,#00ff91,#00ff8a,#00ff84,#00ff80,#00ff7c,#00ff7b,#00ff7a,#00ff7c,#00ff7f,#00ff84,#00ff8a,#00ff93,#00ff9f,#00ffae,#00ffc1,#00ffdb,#00ffff,#00e0ff,#00c8ff,#00b4ff,#00a3ff,#0093ff,#0084ff,#0076ff,#0069ff,#005dff,#0053ff,#004bff,#0047ff,#0046ff,#0049ff,#0050ff,#0059ff,#0065ff,#0071ff,#007fff,#008dff,#009dff,#00aeff,#00c1ff,#00d7ff,#00f3ff,#00ffe7,#00ffca,#00ffb5,#00ffa4,#00ff97,#00ff8d,#00ff86,#00ff80,#00ff7d,#00ff7b,#00ff7a,#00ff7c,#00ff7e,#00ff82,#00ff88,#00ff8f,#00ff97,#00ffa0)"></i><i style="background:linear-gradient(90deg,#00ffa3,#00ff98,#00ff8f,#00ff87,#00ff81,#00ff7c,#00ff78,#00ff76,#00ff75,#00ff75,#00ff78,#00ff7c,#00ff82,#00ff8a,#00ff95,#00ffa2,#00ffb4,#00ffcb,#00ffeb,#00f0ff,#00d6ff,#00c1ff,#00aeff,#009eff,#008fff,#0080ff,#0073ff,#0067ff,#005dff,#0055ff,#0050ff,#0050ff,#0053ff,#005aff,#0063ff,#006fff,#007bff,#0089ff,#0098ff,#00a8ff,#00baff,#00ceff,#00e6ff,#00fff9,#00ffd5,#00ffbb,#00ffa8,#00ff99,#00ff8e,#00ff85,#00ff7e,#00ff79,#00ff76,#00ff75,#00ff75,#00ff77,#00ff7a,#00ff7f,#00ff85,#00ff8c,#00ff95,#00ff9f)"></i><i style="background:linear-gradient(90deg,#00ffa1,#00ff96,#00ff8d,#00ff84,#00ff7d,#00ff78,#00ff73,#00ff71,#00ff6f,#00ff6f,#00ff71,#00ff74,#00ff7a,#00ff81,#00ff8b,#00ff97,#00ffa7,#00ffbb,#00ffd7,#00fffc,#00e5ff,#00ceff,#00baff,#00a9ff,#0099ff,#008bff,#007dff,#0071ff,#0067ff,#005fff,#005aff,#0059ff,#005dff,#0063ff,#006dff,#0079ff,#0086ff,#0094ff,#00a3ff,#00b4ff,#00c6ff,#00dcff,#00f6ff,#00ffe4,#00ffc5,#00ffae,#00ff9c,#00ff8f,#00ff84,#00ff7c,#00ff76,#00ff72,#00ff70,#00ff6f,#00ff70,#00ff72,#00ff76,#00ff7b,#00ff82,#00ff89,#00ff92,#00ff9d)"></i><i style="background:linear-gradient(90deg,#00ffa0,#00ff95,#00ff8a,#00ff82,#00ff7a,#00ff74,#00ff6f,#00ff6c,#00ff6a,#00ff69,#00ff6b,#00ff6d,#00ff72,#00ff78,#00ff81,#00ff8c,#00ff9b,#00ffad,#00ffc6,#00ffe9,#00f4ff,#00dbff,#00c7ff,#00b5ff,#00a4ff,#0095ff,#0087ff,#007bff,#0071ff,#0069ff,#0064ff,#0064ff,#0067ff,#006dff,#0077ff,#0083ff,#0090ff,#009fff,#00aeff,#00c0ff,#00d3ff,#00ebff,#00fff6,#00ffd1,#00ffb6,#00ffa1,#00ff91,#00ff85,#00ff7b,#00ff74,#00ff6f,#00ff6b,#00ff6a,#00ff6a,#00ff6b,#00ff6e,#00ff72,#00ff78,#00ff7f,#00ff87,#00ff91,#00ff9c)"></i><i style="background:linear-gradient(90deg,#00ff9f,#00ff93,#00ff88,#00ff7f,#00ff77,#00ff71,#00ff6b,#00ff67,#00ff65,#00ff64,#00ff64,#00ff66,#00ff6a,#00ff70,#00ff78,#00ff82,#00ff8f,#00ffa0,#00ffb6,#00ffd4,#00fff9,#00eaff,#00d4ff,#00c0ff,#00afff,#00a0ff,#0092ff,#0085ff,#007bff,#0073ff,#006fff,#006eff,#0071ff,#0078ff,#0081ff,#008dff,#009bff,#00aaff,#00baff,#00ccff,#00e1ff,#00faff,#00ffe2,#00ffc0,#00ffa7,#00ff95,#00ff87,#00ff7b,#00ff73,#00ff6c,#00ff68,#00ff65,#00ff64,#00ff64,#00ff66,#00ff6a,#00ff6f,#00ff75,#00ff7c,#00ff85,#00ff8f,#00ff9b)"></i><i style="background:linear-gradient(90deg,#00ff9e,#00ff92,#00ff87,#00ff7d,#00ff74,#00ff6d,#00ff68,#00ff63,#00ff60,#00ff5e,#00ff5e,#00ff60,#00ff63,#00ff68,#00ff6f,#00ff78,#00ff84,#00ff94,#00ffa7,#00ffc2,#00ffe6,#00f9ff,#00e1ff,#00cdff,#00bbff,#00abff,#009dff,#0090ff,#0085ff,#007eff,#0079ff,#0078ff,#007cff,#0082ff,#008cff,#0098ff,#00a6ff,#00b5ff,#00c6ff,#00d9ff,#00f0ff,#00fff3,#00ffce,#00ffb0,#00ff9a,#00ff89,#00ff7c,#00ff72,#00ff6a,#00ff65,#00ff61,#00ff5f,#00ff5e,#00ff5f,#00ff62,#00ff66,#00ff6b,#00ff72,#00ff7a,#00ff83,#00ff8e,#00ff9a)"></i><i style="background:linear-gradient(90deg,#00ff9e,#00ff91,#00ff85,#00ff7b,#00ff72,#00ff6a,#00ff64,#00ff5f,#00ff5b,#00ff59,#00ff59,#00ff59,#00ff5c,#00ff60,#00ff66,#00ff6f,#00ff7a,#00ff88,#00ff99,#00ffb1,#00ffd2,#00fff5,#00efff,#00daff,#00c7ff,#00b6ff,#00a8ff,#009bff,#0090ff,#0088ff,#0084ff,#0083ff,#0086ff,#008dff,#0097ff,#00a3ff,#00b1ff,#00c1ff,#00d2ff,#00e7ff,#00ffff,#00ffe0,#00ffbc,#00ffa1,#00ff8e,#00ff7e,#00ff72,#00ff69,#00ff62,#00ff5d,#00ff5a,#00ff59,#00ff59,#00ff5a,#00ff5e,#00ff62,#00ff68,#00ff6f,#00ff77,#00ff81,#00ff8c,#00ff99)"></i><i style="background:linear-gradient(90deg,#00ff9e,#00ff90,#00ff84,#00ff79,#00ff70,#00ff67,#00ff61,#00ff5b,#00ff57,#00ff54,#00ff53,#00ff53,#00ff55,#00ff59,#00ff5e,#00ff65,#00ff6f,#00ff7c,#00ff8c,#00ffa2,#00ffbe,#00ffe3,#00feff,#00e7ff,#00d3ff,#00c2ff,#00b3ff,#00a6ff,#009bff,#0093ff,#008fff,#008eff,#0091ff,#0098ff,#00a2ff,#00aeff,#00bcff,#00cdff,#00dfff,#00f5ff,#00ffef,#00ffcc,#00ffab,#00ff94,#00ff82,#00ff74,#00ff69,#00ff60,#00ff5a,#00ff56,#00ff54,#00ff53,#00ff54,#00ff56,#00ff59,#00ff5e,#00ff65,#00ff6c,#00ff75,#00ff80,#00ff8b,#00ff99)"></i><i style="background:linear-gradient(90deg,#00ff9e,#00ff90,#00ff83,#00ff77,#00ff6d,#00ff65,#00ff5d,#00ff57,#00ff53,#00ff50,#00ff4e,#00ff4d,#00ff4e,#00ff51,#00ff56,#00ff5d,#00ff66,#00ff71,#00ff80,#00ff93,#00ffac,#00ffd0,#00fff1,#00f5ff,#00e0ff,#00ceff,#00bfff,#00b1ff,#00a6ff,#009eff,#009aff,#0099ff,#009cff,#00a3ff,#00adff,#00b9ff,#00c8ff,#00d9ff,#00edff,#00fffa,#00ffdd,#00ffb8,#00ff9b,#00ff86,#00ff76,#00ff69,#00ff60,#00ff58,#00ff53,#00ff4f,#00ff4e,#00ff4d,#00ff4f,#00ff51,#00ff56,#00ff5b,#00ff62,#00ff6a,#00ff74,#00ff7e,#00ff8b,#00ff98)"></i><i style="background:linear-gradient(90deg,#00ff9e,#00ff8f,#00ff82,#00ff76,#00ff6b,#00ff62,#00ff5a,#00ff54,#00ff4f,#00ff4b,#00ff49,#00ff48,#00ff48,#00ff4a,#00ff4e,#00ff54,#00ff5c,#00ff67,#00ff74,#00ff85,#00ff9c,#00ffbb,#00ffe0,#00fffb,#00edff,#00dbff,#00cbff,#00bdff,#00b2ff,#00aaff,#00a5ff,#00a4ff,#00a8ff,#00aeff,#00b9ff,#00c5ff,#00d4ff,#00e6ff,#00fbff,#00ffea,#00ffca,#00ffa6,#00ff8d,#00ff7a,#00ff6b,#00ff60,#00ff57,#00ff50,#00ff4c,#00ff49,#00ff48,#00ff48,#00ff4a,#00ff4d,#00ff52,#00ff58,#00ff5f,#00ff68,#00ff72,#00ff7d,#00ff8a,#00ff98)"></i><i style="background:linear-gradient(90deg,#00ff9e,#00ff8f,#00ff81,#00ff75,#00ff6a,#00ff60,#00ff58,#00ff51,#00ff4b,#00ff47,#00ff44,#00ff42,#00ff42,#00ff44,#00ff47,#00ff4c,#00ff53,#00ff5d,#00ff69,#00ff79,#00ff8d,#00ffa8,#00ffcd,#00ffeb,#00fbff,#00e8ff,#00d7ff,#00c9ff,#00beff,#00b5ff,#00b1ff,#00b0ff,#00b3ff,#00baff,#00c4ff,#00d1ff,#00e1ff,#00f4ff,#00fff5,#00ffd9,#00ffb5,#00ff96,#00ff7f,#00ff6e,#00ff61,#00ff56,#00ff4e,#00ff48,#00ff45,#00ff42,#00ff42,#00ff43,#00ff45,#00ff49,#00ff4e,#00ff55,#00ff5d,#00ff66,#00ff71,#00ff7c,#00ff8a,#00ff99)"></i><i style="background:linear-gradient(90deg,#00ff9f,#00ff8f,#00ff81,#00ff74,#00ff68,#00ff5e,#00ff55,#00ff4e,#00ff47,#00ff42,#00ff3f,#00ff3d,#00ff3c,#00ff3d,#00ff40,#00ff44,#00ff4a,#00ff53,#00ff5e,#00ff6c,#00ff7f,#00ff97,#00ffb9,#00ffdb,#00fff4,#00f5ff,#00e4ff,#00d5ff,#00caff,#00c1ff,#00bdff,#00bcff,#00bfff,#00c6ff,#00d1ff,#00deff,#00eeff,#00fffc,#00ffe5,#00ffc7,#00ffa2,#00ff87,#00ff73,#00ff63,#00ff57,#00ff4d,#00ff46,#00ff41,#00ff3e,#00ff3c,#00ff3c,#00ff3e,#00ff41,#00ff45,#00ff4b,#00ff52,#00ff5b,#00ff64,#00ff6f,#00ff7c,#00ff8a,#00ff99)"></i><i style="background:linear-gradient(90deg,#00ffa0,#00ff90,#00ff81,#00ff73,#00ff67,#00ff5c,#00ff53,#00ff4b,#00ff44,#00ff3e,#00ff3a,#00ff38,#00ff36,#00ff37,#00ff39,#00ff3c,#00ff42,#00ff49,#00ff54,#00ff61,#00ff71,#00ff87,#00ffa4,#00ffc9,#00ffe5,#00fffb,#00f1ff,#00e2ff,#00d6ff,#00ceff,#00c9ff,#00c8ff,#00cbff,#00d2ff,#00ddff,#00ebff,#00fcff,#00ffee,#00ffd4,#00ffb2,#00ff90,#00ff78,#00ff66,#00ff58,#00ff4d,#00ff44,#00ff3e,#00ff3a,#00ff37,#00ff36,#00ff37,#00ff39,#00ff3d,#00ff42,#00ff48,#00ff50,#00ff59,#00ff63,#00ff6e,#00ff7b,#00ff8a,#00ff9a)"></i><i style="background:linear-gradient(90deg,#00ffa1,#00ff90,#00ff81,#00ff72,#00ff66,#00ff5a,#00ff51,#00ff48,#00ff41,#00ff3b,#00ff36,#00ff33,#00ff31,#00ff31,#00ff32,#00ff35,#00ff3a,#00ff40,#00ff49,#00ff55,#00ff64,#00ff78,#00ff92,#00ffb6,#00ffd5,#00ffed,#00feff,#00efff,#00e3ff,#00daff,#00d5ff,#00d5ff,#00d8ff,#00dfff,#00eaff,#00f8ff,#00fff4,#00ffde,#00ffc3,#00ff9e,#00ff80,#00ff6b,#00ff5a,#00ff4d,#00ff43,#00ff3c,#00ff36,#00ff33,#00ff31,#00ff31,#00ff32,#00ff35,#00ff39,#00ff3e,#00ff45,#00ff4d,#00ff57,#00ff61,#00ff6e,#00ff7b,#00ff8a,#00ff9b)"></i><i style="background:linear-gradient(90deg,#00ffa3,#00ff91,#00ff81,#00ff72,#00ff65,#00ff59,#00ff4f,#00ff45,#00ff3e,#00ff37,#00ff32,#00ff2e,#00ff2c,#00ff2b,#00ff2b,#00ff2e,#00ff32,#00ff38,#00ff40,#00ff4a,#00ff58,#00ff6a,#00ff81,#00ffa1,#00ffc4,#00ffde,#00fff2,#00fcff,#00f0ff,#00e7ff,#00e2ff,#00e1ff,#00e5ff,#00ecff,#00f7ff,#00fff8,#00ffe6,#00ffce,#00ffaf,#00ff8b,#00ff71,#00ff5e,#00ff4f,#00ff43,#00ff3a,#00ff34,#00ff2f,#00ff2c,#00ff2b,#00ff2b,#00ff2d,#00ff30,#00ff35,#00ff3b,#00ff42,#00ff4b,#00ff55,#00ff60,#00ff6d,#00ff7b,#00ff8b,#00ff9c)"></i><i style="background:linear-gradient(90deg,#00ffa5,#00ff92,#00ff81,#00ff72,#00ff64,#00ff58,#00ff4d,#00ff43,#00ff3b,#00ff34,#00ff2e,#00ff2a,#00ff27,#00ff25,#00ff25,#00ff27,#00ff2a,#00ff2f,#00ff36,#00ff40,#00ff4d,#00ff5c,#00ff71,#00ff8d,#00ffb1,#00ffce,#00ffe3,#00fff4,#00fdff,#00f4ff,#00efff,#00eeff,#00f2ff,#00f9ff,#00fff9,#00ffea,#00ffd6,#00ffbd,#00ff9a,#00ff7a,#00ff63,#00ff52,#00ff44,#00ff3a,#00ff32,#00ff2c,#00ff28,#00ff25,#00ff25,#00ff26,#00ff28,#00ff2c,#00ff31,#00ff38,#00ff40,#00ff49,#00ff54,#00ff5f,#00ff6d,#00ff7b,#00ff8c,#00ff9e)"></i><i style="background:linear-gradient(90deg,#00ffa7,#00ff93,#00ff82,#00ff72,#00ff64,#00ff57,#00ff4b,#00ff41,#00ff38,#00ff31,#00ff2a,#00ff25,#00ff22,#00ff20,#00ff1f,#00ff20,#00ff23,#00ff27,#00ff2d,#00ff36,#00ff41,#00ff50,#00ff62,#00ff7a,#00ff9c,#00ffbd,#00ffd4,#00ffe6,#00fff3,#00fffc,#00fdff,#00fcff,#00ffff,#00fff7,#00ffeb,#00ffdb,#00ffc6,#00ffaa,#00ff85,#00ff6a,#00ff56,#00ff46,#00ff3a,#00ff30,#00ff29,#00ff24,#00ff21,#00ff1f,#00ff1f,#00ff21,#00ff24,#00ff28,#00ff2e,#00ff35,#00ff3e,#00ff47,#00ff52,#00ff5f,#00ff6d,#00ff7c,#00ff8d,#00ff9f)"></i><i style="background:linear-gradient(90deg,#00ffa9,#00ff95,#00ff83,#00ff72,#00ff63,#00ff56,#00ff4a,#00ff3f,#00ff36,#00ff2e,#00ff27,#00ff21,#00ff1d,#00ff1a,#00ff19,#00ff19,#00ff1b,#00ff1f,#00ff25,#00ff2c,#00ff36,#00ff43,#00ff54,#00ff6a,#00ff87,#00ffaa,#00ffc4,#00ffd7,#00ffe5,#00ffee,#00fff4,#00fff4,#00fff1,#00ffe9,#00ffdc,#00ffcb,#00ffb5,#00ff95,#00ff73,#00ff5b,#00ff49,#00ff3b,#00ff30,#00ff27,#00ff21,#00ff1c,#00ff1a,#00ff19,#00ff1a,#00ff1c,#00ff20,#00ff25,#00ff2b,#00ff33,#00ff3b,#00ff46,#00ff51,#00ff5e,#00ff6d,#00ff7d,#00ff8e,#00ffa1)"></i><i style="background:linear-gradient(90deg,#00ffac,#00ff97,#00ff84,#00ff73,#00ff63,#00ff55,#00ff49,#00ff3d,#00ff33,#00ff2b,#00ff23,#00ff1d,#00ff19,#00ff15,#00ff14,#00ff13,#00ff14,#00ff17,#00ff1c,#00ff23,#00ff2c,#00ff38,#00ff47,#00ff5a,#00ff73,#00ff96,#00ffb3,#00ffc7,#00ffd6,#00ffe0,#00ffe5,#00ffe6,#00ffe2,#00ffda,#00ffcd,#00ffbb,#00ffa2,#00ff7f,#00ff62,#00ff4d,#00ff3d,#00ff30,#00ff26,#00ff1e,#00ff19,#00ff15,#00ff13,#00ff13,#00ff15,#00ff17,#00ff1c,#00ff21,#00ff28,#00ff30,#00ff3a,#00ff44,#00ff50,#00ff5e,#00ff6d,#00ff7e,#00ff90,#00ffa4)"></i><i style="background:linear-gradient(90deg,#00ffaf,#00ff99,#00ff86,#00ff74,#00ff64,#00ff55,#00ff48,#00ff3c,#00ff31,#00ff28,#00ff20,#00ff1a,#00ff15,#00ff11,#00ff0e,#00ff0d,#00ff0e,#00ff10,#00ff14,#00ff1a,#00ff22,#00ff2c,#00ff3a,#00ff4b,#00ff61,#00ff81,#00ffa1,#00ffb7,#00ffc7,#00ffd1,#00ffd7,#00ffd8,#00ffd4,#00ffcb,#00ffbd,#00ffaa,#00ff8e,#00ff6b,#00ff52,#00ff40,#00ff31,#00ff25,#00ff1c,#00ff16,#00ff11,#00ff0e,#00ff0d,#00ff0e,#00ff10,#00ff13,#00ff18,#00ff1e,#00ff25,#00ff2e,#00ff38,#00ff43,#00ff50,#00ff5e,#00ff6e,#00ff7f,#00ff92,#00ffa7)"></i><i style="background:linear-gradient(90deg,#00ffb2,#00ff9c,#00ff87,#00ff75,#00ff64,#00ff55,#00ff47,#00ff3b,#00ff2f,#00ff26,#00ff1d,#00ff16,#00ff10,#00ff0c,#00ff09,#00ff07,#00ff07,#00ff09,#00ff0c,#00ff11,#00ff18,#00ff21,#00ff2d,#00ff3d,#00ff51,#00ff6b,#00ff8d,#00ffa6,#00ffb7,#00ffc2,#00ffc8,#00ffc8,#00ffc4,#00ffbb,#00ffad,#00ff97,#00ff78,#00ff59,#00ff43,#00ff33,#00ff25,#00ff1b,#00ff13,#00ff0d,#00ff0a,#00ff08,#00ff07,#00ff08,#00ff0b,#00ff0f,#00ff14,#00ff1b,#00ff23,#00ff2c,#00ff36,#00ff42,#00ff4f,#00ff5e,#00ff6e,#00ff80,#00ff94,#00ffaa)"></i><i style="background:linear-gradient(90deg,#00ffb6,#00ff9e,#00ff89,#00ff76,#00ff65,#00ff55,#00ff46,#00ff39,#00ff2e,#00ff24,#00ff1b,#00ff13,#00ff0d,#00ff08,#00ff04,#00ff02,#00ff01,#00ff02,#00ff04,#00ff08,#00ff0e,#00ff17,#00ff22,#00ff2f,#00ff41,#00ff58,#00ff78,#00ff94,#00ffa6,#00ffb2,#00ffb8,#00ffb9,#00ffb5,#00ffab,#00ff9b,#00ff83,#00ff62,#00ff48,#00ff35,#00ff26,#00ff1a,#00ff11,#00ff0a,#00ff05,#00ff02,#00ff01,#00ff01,#00ff03,#00ff06,#00ff0b,#00ff10,#00ff18,#00ff20,#00ff2a,#00ff35,#00ff41,#00ff4f,#00ff5f,#00ff70,#00ff82,#00ff96,#00ffad)"></i><i style="background:linear-gradient(90deg,#00ffba,#00ffa2,#00ff8c,#00ff78,#00ff66,#00ff55,#00ff46,#00ff39,#00ff2c,#00ff22,#00ff18,#00ff10,#00ff09,#00ff03,#01ff00,#04ff00,#05ff00,#05ff00,#03ff00,#00ff00,#00ff05,#00ff0c,#00ff16,#00ff22,#00ff32,#00ff46,#00ff61,#00ff80,#00ff94,#00ffa1,#00ffa8,#00ffa9,#00ffa4,#00ff9a,#00ff89,#00ff6e,#00ff4e,#00ff38,#00ff27,#00ff1a,#00ff10,#00ff08,#00ff02,#02ff00,#05ff00,#05ff00,#04ff00,#02ff00,#00ff02,#00ff07,#00ff0d,#00ff15,#00ff1e,#00ff28,#00ff34,#00ff41,#00ff4f,#00ff5f,#00ff71,#00ff84,#00ff99,#00ffb1)"></i><i style="background:linear-gradient(90deg,#00ffbe,#00ffa5,#00ff8e,#00ff7a,#00ff67,#00ff56,#00ff46,#00ff38,#00ff2b,#00ff20,#00ff16,#00ff0d,#00ff05,#01ff00,#05ff00,#09ff00,#0bff00,#0cff00,#0bff00,#08ff00,#04ff00,#00ff02,#00ff0b,#00ff16,#00ff23,#00ff35,#00ff4c,#00ff6b,#00ff82,#00ff90,#00ff97,#00ff98,#00ff93,#00ff88,#00ff75,#00ff57,#00ff3c,#00ff29,#00ff1a,#00ff0e,#00ff05,#02ff00,#07ff00,#0aff00,#0bff00,#0bff00,#0aff00,#07ff00,#03ff00,#00ff03,#00ff0a,#00ff12,#00ff1c,#00ff27,#00ff33,#00ff41,#00ff50,#00ff60,#00ff72,#00ff86,#00ff9c,#00ffb5)"></i><i style="background:linear-gradient(90deg,#00ffc3,#00ffa9,#00ff91,#00ff7c,#00ff68,#00ff56,#00ff46,#00ff37,#00ff2a,#00ff1e,#00ff14,#00ff0a,#00ff02,#05ff00,#0aff00,#0eff00,#11ff00,#12ff00,#12ff00,#10ff00,#0dff00,#07ff00,#00ff00,#00ff09,#00ff15,#00ff24,#00ff38,#00ff54,#00ff6e,#00ff7e,#00ff85,#00ff87,#00ff81,#00ff75,#00ff5f,#00ff41,#00ff2b,#00ff1a,#00ff0d,#00ff03,#05ff00,#0bff00,#0fff00,#11ff00,#12ff00,#11ff00,#0fff00,#0cff00,#07ff00,#00ff00,#00ff07,#00ff10,#00ff1a,#00ff26,#00ff32,#00ff41,#00ff50,#00ff61,#00ff74,#00ff89,#00ffa0,#00ffb9)"></i><i style="background:linear-gradient(90deg,#00ffc9,#00ffad,#00ff95,#00ff7e,#00ff6a,#00ff57,#00ff47,#00ff37,#00ff29,#00ff1d,#00ff12,#00ff08,#01ff00,#08ff00,#0eff00,#13ff00,#16ff00,#18ff00,#19ff00,#18ff00,#15ff00,#11ff00,#0bff00,#02ff00,#00ff08,#00ff15,#00ff26,#00ff3d,#00ff59,#00ff6b,#00ff73,#00ff74,#00ff6f,#00ff61,#00ff48,#00ff2d,#00ff1b,#00ff0c,#00ff01,#08ff00,#0fff00,#14ff00,#17ff00,#18ff00,#18ff00,#17ff00,#14ff00,#10ff00,#0bff00,#04ff00,#00ff04,#00ff0e,#00ff19,#00ff25,#00ff32,#00ff41,#00ff51,#00ff63,#00ff77,#00ff8c,#00ffa4,#00ffbe)"></i><i style="background:linear-gradient(90deg,#00ffcf,#00ffb2,#00ff98,#00ff81,#00ff6c,#00ff59,#00ff47,#00ff37,#00ff29,#00ff1c,#00ff10,#00ff05,#04ff00,#0cff00,#12ff00,#17ff00,#1bff00,#1eff00,#1fff00,#1fff00,#1dff00,#1aff00,#15ff00,#0eff00,#05ff00,#00ff06,#00ff14,#00ff27,#00ff42,#00ff57,#00ff60,#00ff61,#00ff5b,#00ff4b,#00ff30,#00ff1b,#00ff0b,#01ff00,#0bff00,#13ff00,#18ff00,#1cff00,#1fff00,#1fff00,#1fff00,#1dff00,#19ff00,#14ff00,#0eff00,#07ff00,#00ff02,#00ff0c,#00ff17,#00ff24,#00ff32,#00ff41,#00ff52,#00ff65,#00ff79,#00ff8f,#00ffa8,#00ffc4)"></i><i style="background:linear-gradient(90deg,#00ffd5,#00ffb7,#00ff9c,#00ff84,#00ff6e,#00ff5a,#00ff48,#00ff37,#00ff28,#00ff1b,#00ff0e,#00ff03,#06ff00,#0fff00,#16ff00,#1cff00,#21ff00,#24ff00,#26ff00,#26ff00,#25ff00,#23ff00,#1fff00,#19ff00,#12ff00,#08ff00,#00ff04,#00ff13,#00ff2a,#00ff41,#00ff4c,#00ff4d,#00ff46,#00ff34,#00ff1a,#00ff09,#04ff00,#0fff00,#17ff00,#1dff00,#22ff00,#25ff00,#26ff00,#26ff00,#25ff00,#22ff00,#1eff00,#18ff00,#12ff00,#0aff00,#00ff00,#00ff0a,#00ff16,#00ff23,#00ff32,#00ff42,#00ff53,#00ff67,#00ff7c,#00ff93,#00ffad,#00ffca)"></i><i style="background:linear-gradient(90deg,#00ffdc,#00ffbd,#00ffa1,#00ff88,#00ff71,#00ff5c,#00ff49,#00ff38,#00ff28,#00ff1a,#00ff0d,#00ff01,#09ff00,#12ff00,#1aff00,#20ff00,#25ff00,#29ff00,#2cff00,#2dff00,#2dff00,#2cff00,#29ff00,#24ff00,#1eff00,#16ff00,#0dff00,#00ff00,#00ff12,#00ff2a,#00ff37,#00ff38,#00ff30,#00ff1a,#00ff06,#08ff00,#13ff00,#1cff00,#22ff00,#27ff00,#2bff00,#2dff00,#2dff00,#2dff00,#2bff00,#27ff00,#22ff00,#1cff00,#15ff00,#0cff00,#03ff00,#00ff09,#00ff15,#00ff23,#00ff32,#00ff43,#00ff55,#00ff69,#00ff7f,#00ff97,#00ffb2,#00ffd0)"></i><i style="background:linear-gradient(90deg,#00ffe4,#00ffc3,#00ffa6,#00ff8b,#00ff74,#00ff5e,#00ff4b,#00ff39,#00ff28,#00ff19,#00ff0c,#00ff00,#0bff00,#15ff00,#1dff00,#24ff00,#2aff00,#2fff00,#32ff00,#34ff00,#35ff00,#34ff00,#32ff00,#2fff00,#2aff00,#24ff00,#1cff00,#12ff00,#04ff00,#00ff10,#00ff20,#00ff22,#00ff18,#00ff02,#0eff00,#19ff00,#21ff00,#28ff00,#2eff00,#31ff00,#34ff00,#35ff00,#35ff00,#33ff00,#30ff00,#2cff00,#27ff00,#20ff00,#18ff00,#0fff00,#05ff00,#00ff07,#00ff14,#00ff23,#00ff32,#00ff44,#00ff57,#00ff6c,#00ff82,#00ff9c,#00ffb8,#00ffd8)"></i><i style="background:linear-gradient(90deg,#00ffed,#00ffca,#00ffab,#00ff90,#00ff77,#00ff61,#00ff4c,#00ff3a,#00ff29,#00ff19,#00ff0b,#02ff00,#0dff00,#18ff00,#21ff00,#28ff00,#2fff00,#34ff00,#38ff00,#3bff00,#3dff00,#3dff00,#3cff00,#3aff00,#36ff00,#32ff00,#2cff00,#24ff00,#19ff00,#0aff00,#00ff07,#00ff0a,#03ff00,#15ff00,#20ff00,#29ff00,#30ff00,#35ff00,#39ff00,#3bff00,#3dff00,#3dff00,#3cff00,#39ff00,#36ff00,#31ff00,#2bff00,#24ff00,#1bff00,#11ff00,#06ff00,#00ff06,#00ff14,#00ff23,#00ff33,#00ff45,#00ff59,#00ff6f,#00ff86,#00ffa1,#00ffbe,#00ffe0)"></i><i style="background:linear-gradient(90deg,#00fff8,#00ffd1,#00ffb1,#00ff94,#00ff7b,#00ff63,#00ff4e,#00ff3b,#00ff29,#00ff19,#00ff0a,#03ff00,#0fff00,#1aff00,#24ff00,#2cff00,#33ff00,#39ff00,#3eff00,#41ff00,#44ff00,#45ff00,#45ff00,#44ff00,#42ff00,#3fff00,#3bff00,#35ff00,#2eff00,#23ff00,#14ff00,#10ff00,#1eff00,#2aff00,#33ff00,#39ff00,#3dff00,#41ff00,#44ff00,#45ff00,#45ff00,#44ff00,#43ff00,#3fff00,#3bff00,#35ff00,#2fff00,#27ff00,#1eff00,#13ff00,#08ff00,#00ff05,#00ff13,#00ff23,#00ff34,#00ff47,#00ff5b,#00ff72,#00ff8b,#00ffa6,#00ffc5,#00ffe9)"></i><i style="background:linear-gradient(90deg,#00fbff,#00ffda,#00ffb7,#00ff99,#00ff7f,#00ff66,#00ff50,#00ff3c,#00ff2a,#00ff19,#00ff0a,#04ff00,#11ff00,#1cff00,#27ff00,#30ff00,#37ff00,#3eff00,#44ff00,#48ff00,#4bff00,#4dff00,#4eff00,#4eff00,#4eff00,#4cff00,#49ff00,#46ff00,#41ff00,#3bff00,#31ff00,#2dff00,#38ff00,#3fff00,#44ff00,#48ff00,#4bff00,#4dff00,#4eff00,#4fff00,#4eff00,#4cff00,#49ff00,#45ff00,#40ff00,#3aff00,#33ff00,#2aff00,#20ff00,#15ff00,#09ff00,#00ff04,#00ff13,#00ff24,#00ff35,#00ff49,#00ff5e,#00ff76,#00ff8f,#00ffac,#00ffcd,#00fff3)"></i><i style="background:linear-gradient(90deg,#00edff,#00ffe3,#00ffbf,#00ff9f,#00ff83,#00ff6a,#00ff53,#00ff3e,#00ff2b,#00ff19,#00ff09,#05ff00,#13ff00,#1fff00,#29ff00,#33ff00,#3bff00,#43ff00,#49ff00,#4eff00,#52ff00,#55ff00,#57ff00,#59ff00,#59ff00,#59ff00,#58ff00,#56ff00,#55ff00,#52ff00,#4eff00,#4dff00,#51ff00,#54ff00,#56ff00,#57ff00,#58ff00,#59ff00,#59ff00,#58ff00,#56ff00,#53ff00,#50ff00,#4bff00,#45ff00,#3eff00,#36ff00,#2dff00,#23ff00,#17ff00,#0aff00,#00ff04,#00ff13,#00ff24,#00ff37,#00ff4b,#00ff61,#00ff7a,#00ff94,#00ffb3,#00ffd5,#00ffff)"></i><i style="background:linear-gradient(90deg,#00dfff,#00ffee,#00ffc7,#00ffa5,#00ff88,#00ff6e,#00ff56,#00ff40,#00ff2c,#00ff1a,#00ff09,#06ff00,#14ff00,#21ff00,#2cff00,#36ff00,#3fff00,#47ff00,#4eff00,#54ff00,#59ff00,#5dff00,#60ff00,#63ff00,#64ff00,#65ff00,#66ff00,#67ff00,#68ff00,#69ff00,#6cff00,#6dff00,#6aff00,#68ff00,#67ff00,#66ff00,#66ff00,#65ff00,#63ff00,#61ff00,#5eff00,#5bff00,#56ff00,#51ff00,#4aff00,#42ff00,#3aff00,#30ff00,#25ff00,#19ff00,#0bff00,#00ff04,#00ff14,#00ff25,#00ff39,#00ff4e,#00ff65,#00ff7e,#00ff9a,#00ffba,#00ffdf,#00f2ff)"></i><i style="background:linear-gradient(90deg,#00d1ff,#00fffb,#00ffcf,#00ffac,#00ff8d,#00ff72,#00ff59,#00ff43,#00ff2e,#00ff1b,#00ff0a,#06ff00,#15ff00,#22ff00,#2eff00,#39ff00,#43ff00,#4cff00,#53ff00,#5aff00,#60ff00,#65ff00,#69ff00,#6cff00,#6fff00,#72ff00,#75ff00,#77ff00,#7bff00,#80ff00,#89ff00,#8dff00,#83ff00,#7cff00,#78ff00,#76ff00,#73ff00,#70ff00,#6eff00,#6aff00,#66ff00,#62ff00,#5cff00,#56ff00,#4fff00,#46ff00,#3dff00,#32ff00,#27ff00,#1aff00,#0cff00,#00ff04,#00ff14,#00ff27,#00ff3b,#00ff51,#00ff68,#00ff83,#00ffa0,#00ffc2,#00ffe9,#00e3ff)"></i><i style="background:linear-gradient(90deg,#00c6ff,#00f5ff,#00ffd9,#00ffb4,#00ff93,#00ff76,#00ff5d,#00ff45,#00ff30,#00ff1c,#00ff0a,#07ff00,#16ff00,#24ff00,#31ff00,#3cff00,#47ff00,#50ff00,#58ff00,#60ff00,#67ff00,#6cff00,#72ff00,#76ff00,#7aff00,#7fff00,#83ff00,#88ff00,#8eff00,#97ff00,#a6ff00,#aaff00,#9cff00,#91ff00,#8aff00,#85ff00,#80ff00,#7cff00,#78ff00,#73ff00,#6eff00,#69ff00,#63ff00,#5bff00,#53ff00,#4aff00,#40ff00,#35ff00,#29ff00,#1bff00,#0cff00,#00ff04,#00ff15,#00ff28,#00ff3d,#00ff54,#00ff6d,#00ff88,#00ffa7,#00ffcb,#00fff6,#00d6ff)"></i><i style="background:linear-gradient(90deg,#00bcff,#00e7ff,#00ffe5,#00ffbc,#00ff9a,#00ff7c,#00ff61,#00ff48,#00ff32,#00ff1d,#00ff0b,#07ff00,#17ff00,#25ff00,#33ff00,#3fff00,#4aff00,#54ff00,#5dff00,#66ff00,#6dff00,#74ff00,#7aff00,#80ff00,#86ff00,#8bff00,#91ff00,#98ff00,#a1ff00,#afff00,#c0ff00,#c3ff00,#b7ff00,#a6ff00,#9bff00,#94ff00,#8dff00,#88ff00,#82ff00,#7cff00,#76ff00,#70ff00,#69ff00,#61ff00,#58ff00,#4eff00,#43ff00,#37ff00,#2aff00,#1cff00,#0dff00,#00ff04,#00ff16,#00ff2a,#00ff40,#00ff57,#00ff71,#00ff8e,#00ffaf,#00ffd5,#00faff,#00caff)"></i><i style="background:linear-gradient(90deg,#00b2ff,#00daff,#00fff2,#00ffc5,#00ffa1,#00ff81,#00ff65,#00ff4c,#00ff34,#00ff1f,#00ff0c,#06ff00,#17ff00,#26ff00,#34ff00,#41ff00,#4dff00,#58ff00,#62ff00,#6bff00,#74ff00,#7bff00,#83ff00,#8aff00,#91ff00,#98ff00,#a0ff00,#a9ff00,#b5ff00,#c9ff00,#d8ff00,#daff00,#d0ff00,#bbff00,#adff00,#a3ff00,#9aff00,#93ff00,#8cff00,#85ff00,#7eff00,#77ff00,#6eff00,#66ff00,#5cff00,#51ff00,#46ff00,#39ff00,#2cff00,#1dff00,#0dff00,#00ff05,#00ff18,#00ff2c,#00ff43,#00ff5b,#00ff76,#00ff95,#00ffb7,#00ffe0,#00ebff,#00c0ff)"></i><i style="background:linear-gradient(90deg,#00aaff,#00cfff,#00fdff,#00ffd0,#00ffa9,#00ff87,#00ff6a,#00ff4f,#00ff37,#00ff21,#00ff0d,#06ff00,#17ff00,#27ff00,#36ff00,#44ff00,#50ff00,#5cff00,#67ff00,#71ff00,#7aff00,#83ff00,#8bff00,#93ff00,#9cff00,#a4ff00,#aeff00,#baff00,#caff00,#e1ff00,#eeff00,#f0ff00,#e8ff00,#d2ff00,#bfff00,#b2ff00,#a8ff00,#9fff00,#96ff00,#8eff00,#86ff00,#7dff00,#74ff00,#6bff00,#60ff00,#55ff00,#49ff00,#3bff00,#2dff00,#1dff00,#0dff00,#00ff06,#00ff19,#00ff2f,#00ff46,#00ff60,#00ff7c,#00ff9c,#00ffc1,#00ffee,#00dfff,#00b7ff)"></i><i style="background:linear-gradient(90deg,#00a2ff,#00c5ff,#00efff,#00ffdc,#00ffb1,#00ff8e,#00ff6f,#00ff53,#00ff3a,#00ff23,#00ff0e,#05ff00,#17ff00,#28ff00,#38ff00,#46ff00,#53ff00,#60ff00,#6bff00,#76ff00,#80ff00,#8aff00,#94ff00,#9dff00,#a7ff00,#b1ff00,#bdff00,#ccff00,#e1ff00,#f7ff00,#fffc00,#fffa00,#fdff00,#eaff00,#d2ff00,#c2ff00,#b5ff00,#aaff00,#a0ff00,#97ff00,#8eff00,#84ff00,#7aff00,#6fff00,#64ff00,#58ff00,#4bff00,#3dff00,#2eff00,#1eff00,#0cff00,#00ff07,#00ff1b,#00ff32,#00ff4a,#00ff65,#00ff82,#00ffa4,#00ffcb,#00fffd,#00d4ff,#00aeff)"></i><i style="background:linear-gradient(90deg,#009aff,#00bcff,#00e3ff,#00ffea,#00ffbb,#00ff96,#00ff75,#00ff58,#00ff3e,#00ff26,#00ff10,#04ff00,#17ff00,#29ff00,#39ff00,#48ff00,#56ff00,#63ff00,#70ff00,#7bff00,#87ff00,#91ff00,#9cff00,#a7ff00,#b2ff00,#beff00,#ccff00,#deff00,#f8ff00,#fff200,#ffe900,#ffe800,#ffee00,#fffd00,#e6ff00,#d2ff00,#c3ff00,#b6ff00,#abff00,#a0ff00,#95ff00,#8bff00,#80ff00,#74ff00,#68ff00,#5bff00,#4dff00,#3fff00,#2fff00,#1eff00,#0bff00,#00ff08,#00ff1e,#00ff35,#00ff4e,#00ff6a,#00ff89,#00ffad,#00ffd8,#00f4ff,#00caff,#00a6ff)"></i><i style="background:linear-gradient(90deg,#0093ff,#00b4ff,#00d9ff,#00fff9,#00ffc7,#00ff9e,#00ff7b,#00ff5d,#00ff42,#00ff29,#00ff12,#03ff00,#17ff00,#29ff00,#3aff00,#4aff00,#59ff00,#67ff00,#74ff00,#81ff00,#8dff00,#99ff00,#a4ff00,#b0ff00,#bdff00,#cbff00,#dcff00,#f2ff00,#fff100,#ffe000,#ffd800,#ffd700,#ffdc00,#ffe900,#fcff00,#e3ff00,#d1ff00,#c2ff00,#b5ff00,#a9ff00,#9dff00,#91ff00,#85ff00,#79ff00,#6cff00,#5eff00,#4fff00,#40ff00,#2fff00,#1eff00,#0bff00,#00ff0a,#00ff20,#00ff38,#00ff53,#00ff70,#00ff91,#00ffb7,#00ffe6,#00e8ff,#00c1ff,#009fff)"></i><i style="background:linear-gradient(90deg,#008dff,#00acff,#00cfff,#00f8ff,#00ffd4,#00ffa7,#00ff82,#00ff63,#00ff46,#00ff2c,#00ff14,#02ff00,#16ff00,#29ff00,#3bff00,#4cff00,#5bff00,#6aff00,#78ff00,#86ff00,#93ff00,#a0ff00,#adff00,#baff00,#c8ff00,#d8ff00,#ecff00,#fff700,#ffde00,#ffcf00,#ffc800,#ffc700,#ffcc00,#ffd700,#ffec00,#f5ff00,#dfff00,#ceff00,#bfff00,#b2ff00,#a5ff00,#98ff00,#8bff00,#7dff00,#6fff00,#61ff00,#51ff00,#41ff00,#30ff00,#1dff00,#09ff00,#00ff0c,#00ff23,#00ff3c,#00ff58,#00ff76,#00ff99,#00ffc2,#00fff4,#00ddff,#00b8ff,#0098ff)"></i><i style="background:linear-gradient(90deg,#0086ff,#00a5ff,#00c6ff,#00edff,#00ffe2,#00ffb1,#00ff8a,#00ff69,#00ff4b,#00ff30,#00ff17,#00ff00,#15ff00,#29ff00,#3cff00,#4dff00,#5eff00,#6dff00,#7cff00,#8bff00,#99ff00,#a7ff00,#b5ff00,#c4ff00,#d4ff00,#e6ff00,#fdff00,#ffe200,#ffcc00,#ffbf00,#ffb900,#ffb800,#ffbc00,#ffc700,#ffd900,#fff600,#eeff00,#daff00,#caff00,#bbff00,#acff00,#9eff00,#90ff00,#82ff00,#73ff00,#64ff00,#53ff00,#42ff00,#30ff00,#1dff00,#08ff00,#00ff0e,#00ff26,#00ff41,#00ff5d,#00ff7d,#00ffa2,#00ffcf,#00fdff,#00d4ff,#00b1ff,#0091ff)"></i><i style="background:linear-gradient(90deg,#0080ff,#009eff,#00beff,#00e2ff,#00fff1,#00ffbd,#00ff93,#00ff6f,#00ff50,#00ff34,#00ff1a,#00ff02,#14ff00,#29ff00,#3cff00,#4fff00,#60ff00,#71ff00,#80ff00,#90ff00,#9fff00,#aeff00,#beff00,#ceff00,#e0ff00,#f5ff00,#ffee00,#ffd000,#ffbc00,#ffb000,#ffab00,#ffaa00,#ffae00,#ffb700,#ffc700,#ffe200,#feff00,#e7ff00,#d4ff00,#c4ff00,#b4ff00,#a5ff00,#96ff00,#86ff00,#76ff00,#66ff00,#55ff00,#43ff00,#30ff00,#1cff00,#06ff00,#00ff11,#00ff2a,#00ff45,#00ff63,#00ff85,#00ffad,#00ffde,#00f1ff,#00cbff,#00a9ff,#008bff)"></i><i style="background:linear-gradient(90deg,#007aff,#0097ff,#00b6ff,#00d9ff,#00fffd,#00ffcb,#00ff9d,#00ff77,#00ff56,#00ff38,#00ff1d,#00ff04,#13ff00,#28ff00,#3dff00,#50ff00,#62ff00,#74ff00,#84ff00,#95ff00,#a5ff00,#b6ff00,#c6ff00,#d8ff00,#ecff00,#fffa00,#ffda00,#ffbf00,#ffad00,#ffa300,#ff9d00,#ff9c00,#ffa000,#ffa900,#ffb700,#ffcf00,#fff000,#f4ff00,#dfff00,#cdff00,#bcff00,#abff00,#9bff00,#8bff00,#7aff00,#69ff00,#57ff00,#44ff00,#30ff00,#1bff00,#04ff00,#00ff14,#00ff2e,#00ff4a,#00ff6a,#00ff8e,#00ffb9,#00ffec,#00e7ff,#00c3ff,#00a2ff,#0085ff)"></i><i style="background:linear-gradient(90deg,#0075ff,#0091ff,#00afff,#00d0ff,#00f6ff,#00ffda,#00ffa8,#00ff7f,#00ff5c,#00ff3d,#00ff21,#00ff07,#11ff00,#28ff00,#3dff00,#51ff00,#64ff00,#76ff00,#88ff00,#9aff00,#abff00,#bdff00,#cfff00,#e3ff00,#f9ff00,#ffea00,#ffc700,#ffaf00,#ffa000,#ff9600,#ff9100,#ff9000,#ff9300,#ff9b00,#ffa900,#ffbd00,#ffdd00,#fffc00,#ebff00,#d6ff00,#c4ff00,#b2ff00,#a0ff00,#8fff00,#7dff00,#6bff00,#58ff00,#44ff00,#2fff00,#19ff00,#02ff00,#00ff17,#00ff32,#00ff50,#00ff71,#00ff98,#00ffc7,#00fff8,#00deff,#00bbff,#009bff,#007fff)"></i><i style="background:linear-gradient(90deg,#006fff,#008bff,#00a8ff,#00c8ff,#00ecff,#00ffe8,#00ffb4,#00ff88,#00ff63,#00ff42,#00ff25,#00ff0a,#0fff00,#27ff00,#3dff00,#52ff00,#66ff00,#79ff00,#8cff00,#9fff00,#b1ff00,#c4ff00,#d8ff00,#eeff00,#fff700,#ffd700,#ffb700,#ffa100,#ff9300,#ff8a00,#ff8500,#ff8400,#ff8700,#ff8f00,#ff9b00,#ffae00,#ffca00,#ffed00,#f6ff00,#e0ff00,#cbff00,#b8ff00,#a6ff00,#93ff00,#80ff00,#6dff00,#59ff00,#45ff00,#2fff00,#18ff00,#00ff01,#00ff1b,#00ff37,#00ff56,#00ff7a,#00ffa3,#00ffd6,#00fbff,#00d5ff,#00b3ff,#0095ff,#0079ff)"></i><i style="background:linear-gradient(90deg,#006aff,#0085ff,#00a1ff,#00c1ff,#00e3ff,#00fff4,#00ffc3,#00ff92,#00ff6a,#00ff48,#00ff29,#00ff0d,#0dff00,#25ff00,#3dff00,#53ff00,#68ff00,#7cff00,#90ff00,#a4ff00,#b8ff00,#ccff00,#e1ff00,#f9ff00,#ffe900,#ffc500,#ffa800,#ff9500,#ff8700,#ff7e00,#ff7a00,#ff7900,#ff7c00,#ff8300,#ff8f00,#ffa000,#ffb900,#ffdd00,#fffb00,#eaff00,#d4ff00,#bfff00,#abff00,#97ff00,#83ff00,#6fff00,#5aff00,#45ff00,#2eff00,#16ff00,#00ff03,#00ff1f,#00ff3d,#00ff5d,#00ff83,#00ffb0,#00ffe3,#00f1ff,#00cdff,#00acff,#008fff,#0073ff)"></i><i style="background:linear-gradient(90deg,#0065ff,#007fff,#009bff,#00b9ff,#00daff,#00fffe,#00ffd2,#00ff9e,#00ff73,#00ff4f,#00ff2e,#00ff11,#0bff00,#24ff00,#3cff00,#53ff00,#69ff00,#7fff00,#94ff00,#a9ff00,#beff00,#d4ff00,#ebff00,#fff900,#ffd900,#ffb400,#ff9b00,#ff8900,#ff7c00,#ff7400,#ff7000,#ff6f00,#ff7200,#ff7900,#ff8400,#ff9300,#ffaa00,#ffcb00,#ffee00,#f4ff00,#dcff00,#c6ff00,#b0ff00,#9bff00,#87ff00,#71ff00,#5bff00,#45ff00,#2dff00,#14ff00,#00ff07,#00ff23,#00ff42,#00ff65,#00ff8d,#00ffbe,#00ffef,#00e8ff,#00c5ff,#00a6ff,#0089ff,#006eff)"></i><i style="background:linear-gradient(90deg,#0060ff,#0079ff,#0095ff,#00b2ff,#00d2ff,#00f6ff,#00ffde,#00ffab,#00ff7c,#00ff56,#00ff34,#00ff15,#08ff00,#22ff00,#3cff00,#54ff00,#6bff00,#81ff00,#98ff00,#aeff00,#c4ff00,#dcff00,#f5ff00,#ffec00,#ffc800,#ffa600,#ff8e00,#ff7e00,#ff7200,#ff6a00,#ff6600,#ff6500,#ff6800,#ff6f00,#ff7900,#ff8800,#ff9c00,#ffba00,#ffe000,#ffff00,#e5ff00,#cdff00,#b6ff00,#a0ff00,#8aff00,#73ff00,#5cff00,#45ff00,#2cff00,#12ff00,#00ff0a,#00ff28,#00ff49,#00ff6d,#00ff99,#00ffcd,#00fff9,#00dfff,#00beff,#009fff,#0083ff,#0069ff)"></i><i style="background:linear-gradient(90deg,#005bff,#0074ff,#008fff,#00acff,#00cbff,#00edff,#00ffea,#00ffba,#00ff87,#00ff5d,#00ff39,#00ff19,#05ff00,#21ff00,#3bff00,#54ff00,#6cff00,#84ff00,#9bff00,#b3ff00,#cbff00,#e4ff00,#ffff00,#ffde00,#ffb700,#ff9900,#ff8300,#ff7400,#ff6800,#ff6100,#ff5d00,#ff5c00,#ff5f00,#ff6500,#ff6f00,#ff7d00,#ff9000,#ffab00,#ffd000,#fff400,#eeff00,#d4ff00,#bbff00,#a4ff00,#8dff00,#75ff00,#5dff00,#44ff00,#2aff00,#0fff00,#00ff0e,#00ff2d,#00ff50,#00ff77,#00ffa6,#00ffda,#00fbff,#00d7ff,#00b7ff,#0099ff,#007eff,#0064ff)"></i><i style="background:linear-gradient(90deg,#0056ff,#006fff,#0089ff,#00a5ff,#00c4ff,#00e5ff,#00fff4,#00ffc8,#00ff93,#00ff66,#00ff40,#00ff1e,#01ff00,#1eff00,#3aff00,#54ff00,#6eff00,#87ff00,#9fff00,#b8ff00,#d1ff00,#ecff00,#fff400,#ffcf00,#ffa800,#ff8d00,#ff7900,#ff6a00,#ff5f00,#ff5800,#ff5500,#ff5400,#ff5700,#ff5c00,#ff6600,#ff7300,#ff8500,#ff9d00,#ffc000,#ffe700,#f7ff00,#dbff00,#c1ff00,#a8ff00,#90ff00,#77ff00,#5eff00,#44ff00,#29ff00,#0cff00,#00ff12,#00ff33,#00ff58,#00ff82,#00ffb5,#00ffe5,#00f2ff,#00cfff,#00b0ff,#0093ff,#0078ff,#005fff)"></i><i style="background:linear-gradient(90deg,#0051ff,#0069ff,#0083ff,#009fff,#00bdff,#00ddff,#00fffd,#00ffd4,#00ffa2,#00ff70,#00ff47,#00ff23,#00ff02,#1cff00,#39ff00,#54ff00,#6fff00,#89ff00,#a3ff00,#bdff00,#d8ff00,#f5ff00,#ffe800,#ffbf00,#ff9c00,#ff8200,#ff7000,#ff6100,#ff5700,#ff5000,#ff4d00,#ff4c00,#ff4f00,#ff5400,#ff5d00,#ff6a00,#ff7b00,#ff9100,#ffb000,#ffda00,#fffd00,#e3ff00,#c7ff00,#adff00,#93ff00,#79ff00,#5eff00,#43ff00,#27ff00,#09ff00,#00ff17,#00ff39,#00ff60,#00ff8e,#00ffc3,#00ffef,#00eaff,#00c8ff,#00aaff,#008dff,#0073ff,#005aff)"></i><i style="background:linear-gradient(90deg,#004cff,#0064ff,#007eff,#0099ff,#00b6ff,#00d6ff,#00f8ff,#00ffdf,#00ffb0,#00ff7b,#00ff4f,#00ff29,#00ff06,#19ff00,#38ff00,#54ff00,#70ff00,#8cff00,#a7ff00,#c3ff00,#e0ff00,#ffff00,#ffda00,#ffb000,#ff9000,#ff7900,#ff6700,#ff5900,#ff5000,#ff4900,#ff4600,#ff4500,#ff4800,#ff4d00,#ff5500,#ff6100,#ff7200,#ff8700,#ffa300,#ffca00,#fff200,#ebff00,#cdff00,#b1ff00,#96ff00,#7aff00,#5fff00,#42ff00,#25ff00,#05ff00,#00ff1c,#00ff40,#00ff6a,#00ff9c,#00ffcf,#00fff8,#00e2ff,#00c1ff,#00a3ff,#0088ff,#006eff,#0055ff)"></i><i style="background:linear-gradient(90deg,#0047ff,#005fff,#0078ff,#0093ff,#00b0ff,#00ceff,#00f0ff,#00ffe9,#00ffbd,#00ff88,#00ff58,#00ff2f,#00ff0b,#17ff00,#36ff00,#54ff00,#71ff00,#8eff00,#abff00,#c8ff00,#e7ff00,#fff500,#ffcb00,#ffa300,#ff8600,#ff7000,#ff5f00,#ff5200,#ff4900,#ff4200,#ff3f00,#ff3f00,#ff4100,#ff4600,#ff4e00,#ff5a00,#ff6900,#ff7d00,#ff9700,#ffbb00,#ffe700,#f3ff00,#d3ff00,#b6ff00,#99ff00,#7cff00,#5fff00,#41ff00,#22ff00,#02ff00,#00ff21,#00ff48,#00ff75,#00ffab,#00ffd9,#00fdff,#00daff,#00bbff,#009dff,#0082ff,#0068ff,#0050ff)"></i><i style="background:linear-gradient(90deg,#0043ff,#005aff,#0073ff,#008eff,#00aaff,#00c8ff,#00e8ff,#00fff1,#00ffc8,#00ff96,#00ff62,#00ff36,#00ff10,#13ff00,#34ff00,#54ff00,#73ff00,#91ff00,#afff00,#ceff00,#efff00,#ffe900,#ffbc00,#ff9800,#ff7d00,#ff6800,#ff5800,#ff4b00,#ff4200,#ff3c00,#ff3900,#ff3800,#ff3b00,#ff4000,#ff4700,#ff5300,#ff6100,#ff7500,#ff8d00,#ffad00,#ffd900,#fcff00,#daff00,#baff00,#9cff00,#7eff00,#5fff00,#40ff00,#20ff00,#00ff03,#00ff28,#00ff51,#00ff82,#00ffb7,#00ffe3,#00f5ff,#00d3ff,#00b4ff,#0098ff,#007dff,#0063ff,#004bff)"></i><i style="background:linear-gradient(90deg,#003eff,#0055ff,#006eff,#0088ff,#00a4ff,#00c1ff,#00e1ff,#00fffa,#00ffd2,#00ffa4,#00ff6d,#00ff3e,#00ff15,#10ff00,#32ff00,#54ff00,#74ff00,#93ff00,#b3ff00,#d4ff00,#f8ff00,#ffdc00,#ffaf00,#ff8e00,#ff7500,#ff6000,#ff5100,#ff4500,#ff3c00,#ff3600,#ff3300,#ff3300,#ff3500,#ff3a00,#ff4100,#ff4c00,#ff5a00,#ff6d00,#ff8400,#ffa200,#ffcb00,#fff800,#e1ff00,#bfff00,#9fff00,#7fff00,#5fff00,#3fff00,#1dff00,#00ff07,#00ff2e,#00ff5b,#00ff90,#00ffc2,#00ffec,#00eeff,#00cdff,#00aeff,#0092ff,#0077ff,#005eff,#0046ff)"></i><i style="background:linear-gradient(90deg,#0039ff,#0051ff,#0069ff,#0083ff,#009eff,#00bbff,#00dbff,#00fdff,#00ffdb,#00ffb0,#00ff7a,#00ff46,#00ff1b,#0cff00,#30ff00,#53ff00,#75ff00,#96ff00,#b8ff00,#dbff00,#fffc00,#ffce00,#ffa400,#ff8500,#ff6d00,#ff5a00,#ff4b00,#ff3f00,#ff3700,#ff3100,#ff2e00,#ff2e00,#ff3000,#ff3400,#ff3c00,#ff4600,#ff5400,#ff6500,#ff7c00,#ff9800,#ffbd00,#ffec00,#e9ff00,#c5ff00,#a2ff00,#81ff00,#5fff00,#3dff00,#1aff00,#00ff0c,#00ff36,#00ff66,#00ff9d,#00ffcc,#00fff4,#00e7ff,#00c6ff,#00a8ff,#008dff,#0072ff,#0059ff,#0042ff)"></i><i style="background:linear-gradient(90deg,#0035ff,#004cff,#0064ff,#007dff,#0099ff,#00b5ff,#00d4ff,#00f6ff,#00ffe3,#00ffba,#00ff88,#00ff50,#00ff21,#08ff00,#2eff00,#52ff00,#76ff00,#99ff00,#bdff00,#e2ff00,#fff100,#ffc100,#ff9b00,#ff7e00,#ff6600,#ff5400,#ff4500,#ff3a00,#ff3200,#ff2c00,#ff2a00,#ff2900,#ff2b00,#ff3000,#ff3700,#ff4100,#ff4e00,#ff5f00,#ff7400,#ff8f00,#ffb200,#ffdf00,#f1ff00,#caff00,#a6ff00,#83ff00,#5fff00,#3cff00,#16ff00,#00ff12,#00ff3e,#00ff73,#00ffa9,#00ffd5,#00fffb,#00e0ff,#00c0ff,#00a3ff,#0087ff,#006dff,#0054ff,#003dff)"></i><i style="background:linear-gradient(90deg,#0030ff,#0047ff,#005fff,#0078ff,#0093ff,#00b0ff,#00ceff,#00efff,#00ffeb,#00ffc3,#00ff94,#00ff5b,#00ff29,#03ff00,#2cff00,#52ff00,#77ff00,#9cff00,#c2ff00,#eaff00,#ffe500,#ffb600,#ff9200,#ff7700,#ff6000,#ff4e00,#ff4000,#ff3500,#ff2d00,#ff2800,#ff2500,#ff2500,#ff2700,#ff2b00,#ff3200,#ff3c00,#ff4900,#ff5900,#ff6e00,#ff8700,#ffa800,#ffd200,#faff00,#d0ff00,#aaff00,#84ff00,#5fff00,#3aff00,#12ff00,#00ff18,#00ff48,#00ff80,#00ffb3,#00ffdd,#00fcff,#00daff,#00bbff,#009dff,#0082ff,#0068ff,#0050ff,#0038ff)"></i><i style="background:linear-gradient(90deg,#002cff,#0042ff,#005aff,#0074ff,#008eff,#00aaff,#00c9ff,#00e9ff,#00fff2,#00ffcb,#00ff9e,#00ff68,#00ff31,#00ff02,#29ff00,#51ff00,#78ff00,#9fff00,#c7ff00,#f3ff00,#ffd800,#ffac00,#ff8b00,#ff7000,#ff5b00,#ff4900,#ff3b00,#ff3100,#ff2900,#ff2400,#ff2200,#ff2100,#ff2300,#ff2700,#ff2e00,#ff3700,#ff4400,#ff5400,#ff6800,#ff8100,#ff9f00,#ffc600,#fff900,#d7ff00,#aeff00,#86ff00,#5fff00,#38ff00,#0eff00,#00ff1f,#00ff53,#00ff8c,#00ffbb,#00ffe4,#00f6ff,#00d4ff,#00b5ff,#0098ff,#007dff,#0063ff,#004bff,#0034ff)"></i><i style="background:linear-gradient(90deg,#0027ff,#003eff,#0056ff,#006fff,#0089ff,#00a5ff,#00c3ff,#00e3ff,#00fff8,#00ffd2,#00ffa7,#00ff75,#00ff3a,#00ff07,#26ff00,#50ff00,#79ff00,#a2ff00,#cdff00,#feff00,#ffcd00,#ffa400,#ff8500,#ff6b00,#ff5600,#ff4500,#ff3700,#ff2d00,#ff2600,#ff2100,#ff1e00,#ff1e00,#ff2000,#ff2400,#ff2a00,#ff3300,#ff3f00,#ff4f00,#ff6200,#ff7b00,#ff9800,#ffbd00,#ffed00,#deff00,#b2ff00,#88ff00,#5fff00,#35ff00,#0aff00,#00ff27,#00ff5f,#00ff96,#00ffc3,#00ffea,#00f0ff,#00cfff,#00b0ff,#0094ff,#0078ff,#005fff,#0047ff,#002fff)"></i><i style="background:linear-gradient(90deg,#0023ff,#003aff,#0052ff,#006bff,#0085ff,#00a1ff,#00beff,#00deff,#00fffe,#00ffd8,#00ffaf,#00ff7f,#00ff45,#00ff0e,#22ff00,#4fff00,#7bff00,#a6ff00,#d4ff00,#fff500,#ffc300,#ff9e00,#ff7f00,#ff6600,#ff5100,#ff4100,#ff3400,#ff2a00,#ff2200,#ff1e00,#ff1b00,#ff1b00,#ff1d00,#ff2000,#ff2700,#ff3000,#ff3c00,#ff4b00,#ff5e00,#ff7500,#ff9200,#ffb500,#ffe100,#e7ff00,#b7ff00,#8aff00,#5fff00,#33ff00,#04ff00,#00ff2f,#00ff6b,#00ff9e,#00ffca,#00fff0,#00eaff,#00caff,#00abff,#008fff,#0074ff,#005bff,#0042ff,#002bff)"></i><i style="background:linear-gradient(90deg,#001fff,#0036ff,#004dff,#0066ff,#0081ff,#009cff,#00baff,#00d9ff,#00fbff,#00ffde,#00ffb6,#00ff88,#00ff51,#00ff15,#1fff00,#4eff00,#7cff00,#aaff00,#dcff00,#ffea00,#ffbc00,#ff9800,#ff7a00,#ff6200,#ff4d00,#ff3d00,#ff3000,#ff2700,#ff2000,#ff1b00,#ff1900,#ff1800,#ff1a00,#ff1e00,#ff2400,#ff2d00,#ff3800,#ff4700,#ff5a00,#ff7000,#ff8c00,#ffae00,#ffd700,#f1ff00,#bcff00,#8dff00,#5fff00,#30ff00,#00ff01,#00ff3a,#00ff75,#00ffa5,#00ffd0,#00fff6,#00e6ff,#00c5ff,#00a7ff,#008bff,#0070ff,#0056ff,#003eff,#0027ff)"></i><i style="background:linear-gradient(90deg,#001bff,#0032ff,#004aff,#0063ff,#007dff,#0099ff,#00b6ff,#00d5ff,#00f7ff,#00ffe3,#00ffbb,#00ff8f,#00ff5b,#00ff1d,#1aff00,#4dff00,#7eff00,#afff00,#e6ff00,#ffe100,#ffb600,#ff9300,#ff7600,#ff5e00,#ff4a00,#ff3a00,#ff2e00,#ff2400,#ff1d00,#ff1900,#ff1600,#ff1600,#ff1800,#ff1b00,#ff2100,#ff2a00,#ff3500,#ff4400,#ff5600,#ff6c00,#ff8700,#ffa800,#ffd000,#fcff00,#c2ff00,#8fff00,#5fff00,#2dff00,#00ff08,#00ff45,#00ff7d,#00ffac,#00ffd5,#00fffa,#00e1ff,#00c1ff,#00a3ff,#0087ff,#006cff,#0053ff,#003aff,#0023ff)"></i><i style="background:linear-gradient(90deg,#0017ff,#002eff,#0046ff,#005fff,#0079ff,#0095ff,#00b2ff,#00d1ff,#00f3ff,#00ffe7,#00ffc0,#00ff95,#00ff63,#00ff28,#16ff00,#4cff00,#7fff00,#b5ff00,#f0ff00,#ffd900,#ffb000,#ff8e00,#ff7200,#ff5b00,#ff4700,#ff3800,#ff2b00,#ff2200,#ff1b00,#ff1700,#ff1400,#ff1400,#ff1600,#ff1900,#ff1f00,#ff2700,#ff3300,#ff4100,#ff5300,#ff6900,#ff8300,#ffa300,#ffc900,#fff900,#caff00,#93ff00,#5fff00,#2aff00,#00ff10,#00ff4f,#00ff84,#00ffb1,#00ffda,#00fffe,#00ddff,#00bdff,#00a0ff,#0083ff,#0069ff,#004fff,#0037ff,#0020ff)"></i><i style="background:linear-gradient(90deg,#0014ff,#002bff,#0043ff,#005cff,#0076ff,#0092ff,#00afff,#00ceff,#00efff,#00ffeb,#00ffc5,#00ff9a,#00ff6a,#00ff31,#10ff00,#4aff00,#82ff00,#bcff00,#f9ff00,#ffd400,#ffac00,#ff8b00,#ff6f00,#ff5800,#ff4500,#ff3500,#ff2900,#ff2000,#ff1900,#ff1500,#ff1300,#ff1200,#ff1400,#ff1700,#ff1d00,#ff2600,#ff3100,#ff3f00,#ff5000,#ff6600,#ff8000,#ff9f00,#ffc400,#fff200,#d3ff00,#96ff00,#5eff00,#26ff00,#00ff19,#00ff57,#00ff89,#00ffb5,#00ffdd,#00fcff,#00daff,#00baff,#009cff,#0080ff,#0065ff,#004cff,#0034ff,#001dff)"></i><i style="background:linear-gradient(90deg,#0011ff,#0028ff,#0040ff,#0059ff,#0074ff,#008fff,#00acff,#00cbff,#00ecff,#00ffee,#00ffc8,#00ff9e,#00ff6f,#00ff39,#09ff00,#48ff00,#84ff00,#c4ff00,#fffe00,#ffcf00,#ffa900,#ff8800,#ff6d00,#ff5600,#ff4300,#ff3400,#ff2800,#ff1e00,#ff1800,#ff1400,#ff1100,#ff1100,#ff1300,#ff1600,#ff1c00,#ff2400,#ff2f00,#ff3d00,#ff4e00,#ff6400,#ff7d00,#ff9c00,#ffc000,#ffec00,#dcff00,#9bff00,#5eff00,#21ff00,#00ff22,#00ff5c,#00ff8d,#00ffb9,#00ffe1,#00f9ff,#00d7ff,#00b8ff,#009aff,#007eff,#0063ff,#0049ff,#0031ff,#001aff)"></i><i style="background:linear-gradient(90deg,#000fff,#0026ff,#003eff,#0057ff,#0072ff,#008dff,#00aaff,#00c9ff,#00eaff,#00fff1,#00ffcb,#00ffa1,#00ff73,#00ff3f,#01ff00,#46ff00,#88ff00,#ccff00,#fffa00,#ffcc00,#ffa600,#ff8600,#ff6b00,#ff5400,#ff4100,#ff3200,#ff2600,#ff1d00,#ff1700,#ff1300,#ff1000,#ff1000,#ff1100,#ff1500,#ff1b00,#ff2300,#ff2d00,#ff3b00,#ff4d00,#ff6200,#ff7b00,#ff9900,#ffbd00,#ffe800,#e2ff00,#a0ff00,#5eff00,#1bff00,#00ff29,#00ff61,#00ff91,#00ffbc,#00ffe3,#00f7ff,#00d5ff,#00b5ff,#0098ff,#007cff,#0061ff,#0047ff,#002fff,#0018ff)"></i><i style="background:linear-gradient(90deg,#000eff,#0025ff,#003dff,#0056ff,#0070ff,#008cff,#00a9ff,#00c8ff,#00e8ff,#00fff2,#00ffcd,#00ffa3,#00ff76,#00ff42,#00ff06,#43ff00,#8cff00,#d1ff00,#fff600,#ffca00,#ffa400,#ff8400,#ff6900,#ff5300,#ff4000,#ff3100,#ff2500,#ff1c00,#ff1600,#ff1200,#ff1000,#ff0f00,#ff1100,#ff1400,#ff1a00,#ff2200,#ff2c00,#ff3a00,#ff4b00,#ff6000,#ff7a00,#ff9800,#ffbb00,#ffe500,#e7ff00,#a7ff00,#5eff00,#14ff00,#00ff2d,#00ff64,#00ff93,#00ffbe,#00ffe5,#00f5ff,#00d3ff,#00b4ff,#0096ff,#007aff,#005fff,#0046ff,#002dff,#0016ff)"></i><i style="background:linear-gradient(90deg,#000cff,#0024ff,#003cff,#0055ff,#006fff,#008bff,#00a8ff,#00c7ff,#00e7ff,#00fff4,#00ffce,#00ffa5,#00ff78,#00ff45,#00ff0a,#40ff00,#91ff00,#d4ff00,#fff400,#ffc800,#ffa300,#ff8300,#ff6800,#ff5200,#ff3f00,#ff3100,#ff2500,#ff1c00,#ff1500,#ff1100,#ff0f00,#ff0f00,#ff1000,#ff1400,#ff1900,#ff2100,#ff2c00,#ff3a00,#ff4b00,#ff6000,#ff7900,#ff9700,#ffba00,#ffe300,#e9ff00,#acff00,#5eff00,#0fff00,#00ff30,#00ff66,#00ff95,#00ffbf,#00ffe6,#00f4ff,#00d2ff,#00b3ff,#0095ff,#0079ff,#005eff,#0045ff,#002cff,#0015ff)"></i><i style="background:linear-gradient(90deg,#000cff,#0023ff,#003bff,#0054ff,#006fff,#008aff,#00a7ff,#00c6ff,#00e7ff,#00fff4,#00ffce,#00ffa5,#00ff78,#00ff46,#00ff0b,#3eff00,#93ff00,#d6ff00,#fff400,#ffc800,#ffa200,#ff8300,#ff6800,#ff5200,#ff3f00,#ff3000,#ff2500,#ff1c00,#ff1500,#ff1100,#ff0f00,#ff0f00,#ff1000,#ff1300,#ff1900,#ff2100,#ff2c00,#ff3900,#ff4a00,#ff5f00,#ff7800,#ff9600,#ffb900,#ffe200,#eaff00,#aeff00,#5eff00,#0dff00,#00ff31,#00ff66,#00ff95,#00ffc0,#00ffe7,#00f4ff,#00d2ff,#00b2ff,#0095ff,#0079ff,#005eff,#0044ff,#002cff,#0014ff)"></i><i style="background:linear-gradient(90deg,#000cff,#0023ff,#003bff,#0054ff,#006fff,#008aff,#00a8ff,#00c6ff,#00e7ff,#00fff4,#00ffce,#00ffa5,#00ff78,#00ff45,#00ff0a,#3fff00,#92ff00,#d5ff00,#fff400,#ffc800,#ffa200,#ff8300,#ff6800,#ff5200,#ff3f00,#ff3000,#ff2500,#ff1c00,#ff1500,#ff1100,#ff0f00,#ff0f00,#ff1000,#ff1400,#ff1900,#ff2100,#ff2c00,#ff3900,#ff4b00,#ff5f00,#ff7900,#ff9600,#ffb900,#ffe300,#eaff00,#adff00,#5eff00,#0eff00,#00ff31,#00ff66,#00ff95,#00ffbf,#00ffe6,#00f4ff,#00d2ff,#00b3ff,#0095ff,#0079ff,#005eff,#0044ff,#002cff,#0015ff)"></i><i style="background:linear-gradient(90deg,#000dff,#0024ff,#003cff,#0055ff,#0070ff,#008bff,#00a8ff,#00c7ff,#00e8ff,#00fff3,#00ffcd,#00ffa4,#00ff77,#00ff43,#00ff08,#42ff00,#8eff00,#d3ff00,#fff500,#ffc900,#ffa300,#ff8400,#ff6900,#ff5200,#ff4000,#ff3100,#ff2500,#ff1c00,#ff1600,#ff1200,#ff0f00,#ff0f00,#ff1100,#ff1400,#ff1a00,#ff2200,#ff2c00,#ff3a00,#ff4b00,#ff6000,#ff7900,#ff9700,#ffba00,#ffe400,#e8ff00,#a9ff00,#5eff00,#12ff00,#00ff2f,#00ff65,#00ff94,#00ffbe,#00ffe5,#00f5ff,#00d3ff,#00b3ff,#0096ff,#007aff,#005fff,#0045ff,#002dff,#0015ff)"></i><i style="background:linear-gradient(90deg,#000eff,#0025ff,#003dff,#0057ff,#0071ff,#008dff,#00aaff,#00c9ff,#00e9ff,#00fff1,#00ffcb,#00ffa2,#00ff74,#00ff40,#00ff02,#45ff00,#89ff00,#ceff00,#fff800,#ffcb00,#ffa500,#ff8500,#ff6a00,#ff5300,#ff4100,#ff3200,#ff2600,#ff1d00,#ff1600,#ff1200,#ff1000,#ff1000,#ff1100,#ff1500,#ff1a00,#ff2200,#ff2d00,#ff3b00,#ff4c00,#ff6100,#ff7b00,#ff9900,#ffbc00,#ffe700,#e4ff00,#a3ff00,#5eff00,#18ff00,#00ff2b,#00ff62,#00ff92,#00ffbd,#00ffe4,#00f6ff,#00d4ff,#00b5ff,#0097ff,#007bff,#0060ff,#0047ff,#002eff,#0017ff)"></i><i style="background:linear-gradient(90deg,#0011ff,#0027ff,#003fff,#0058ff,#0073ff,#008eff,#00acff,#00caff,#00ebff,#00ffef,#00ffc9,#00ff9f,#00ff71,#00ff3b,#06ff00,#47ff00,#85ff00,#c7ff00,#fffc00,#ffce00,#ffa700,#ff8700,#ff6c00,#ff5500,#ff4200,#ff3300,#ff2700,#ff1e00,#ff1700,#ff1300,#ff1100,#ff1100,#ff1200,#ff1600,#ff1b00,#ff2300,#ff2e00,#ff3c00,#ff4e00,#ff6300,#ff7c00,#ff9b00,#ffbf00,#ffea00,#dfff00,#9dff00,#5eff00,#1fff00,#00ff25,#00ff5e,#00ff8f,#00ffba,#00ffe2,#00f8ff,#00d6ff,#00b7ff,#0099ff,#007dff,#0062ff,#0048ff,#0030ff,#0019ff)"></i><i style="background:linear-gradient(90deg,#0013ff,#002aff,#0042ff,#005bff,#0075ff,#0091ff,#00aeff,#00cdff,#00eeff,#00ffec,#00ffc6,#00ff9c,#00ff6c,#00ff35,#0dff00,#49ff00,#83ff00,#bfff00,#fcff00,#ffd200,#ffab00,#ff8a00,#ff6e00,#ff5700,#ff4400,#ff3500,#ff2900,#ff1f00,#ff1900,#ff1400,#ff1200,#ff1200,#ff1300,#ff1700,#ff1d00,#ff2500,#ff3000,#ff3e00,#ff5000,#ff6500,#ff7f00,#ff9e00,#ffc300,#ffef00,#d7ff00,#98ff00,#5eff00,#24ff00,#00ff1d,#00ff59,#00ff8b,#00ffb7,#00ffdf,#00fbff,#00d9ff,#00b9ff,#009bff,#007fff,#0064ff,#004bff,#0033ff,#001bff)"></i><i style="background:linear-gradient(90deg,#0016ff,#002dff,#0045ff,#005eff,#0078ff,#0094ff,#00b1ff,#00d0ff,#00f1ff,#00ffe9,#00ffc2,#00ff97,#00ff66,#00ff2c,#13ff00,#4bff00,#80ff00,#b7ff00,#f4ff00,#ffd700,#ffae00,#ff8d00,#ff7100,#ff5900,#ff4600,#ff3700,#ff2a00,#ff2100,#ff1a00,#ff1600,#ff1400,#ff1300,#ff1500,#ff1800,#ff1e00,#ff2700,#ff3200,#ff4000,#ff5200,#ff6800,#ff8200,#ffa100,#ffc700,#fff600,#cdff00,#94ff00,#5fff00,#28ff00,#00ff14,#00ff52,#00ff86,#00ffb3,#00ffdb,#00feff,#00dcff,#00bcff,#009eff,#0082ff,#0067ff,#004eff,#0036ff,#001eff)"></i><i style="background:linear-gradient(90deg,#001aff,#0030ff,#0048ff,#0061ff,#007bff,#0097ff,#00b4ff,#00d4ff,#00f5ff,#00ffe5,#00ffbd,#00ff91,#00ff5f,#00ff21,#19ff00,#4cff00,#7eff00,#b1ff00,#eaff00,#ffde00,#ffb300,#ff9100,#ff7400,#ff5c00,#ff4900,#ff3900,#ff2d00,#ff2300,#ff1c00,#ff1800,#ff1500,#ff1500,#ff1700,#ff1a00,#ff2000,#ff2900,#ff3400,#ff4300,#ff5500,#ff6b00,#ff8600,#ffa600,#ffcd00,#fffe00,#c5ff00,#91ff00,#5fff00,#2cff00,#00ff0b,#00ff4a,#00ff80,#00ffae,#00ffd7,#00fffc,#00e0ff,#00c0ff,#00a2ff,#0085ff,#006bff,#0051ff,#0039ff,#0022ff)"></i><i style="background:linear-gradient(90deg,#001dff,#0034ff,#004cff,#0065ff,#007fff,#009bff,#00b8ff,#00d8ff,#00f9ff,#00ffe0,#00ffb8,#00ff8b,#00ff55,#00ff18,#1dff00,#4eff00,#7dff00,#acff00,#e0ff00,#ffe600,#ffb900,#ff9600,#ff7800,#ff6000,#ff4c00,#ff3c00,#ff2f00,#ff2600,#ff1f00,#ff1a00,#ff1800,#ff1700,#ff1900,#ff1d00,#ff2300,#ff2b00,#ff3700,#ff4600,#ff5800,#ff6f00,#ff8a00,#ffab00,#ffd400,#f5ff00,#beff00,#8eff00,#5fff00,#2fff00,#00ff04,#00ff3f,#00ff78,#00ffa8,#00ffd2,#00fff8,#00e4ff,#00c4ff,#00a5ff,#0089ff,#006eff,#0055ff,#003dff,#0025ff)"></i><i style="background:linear-gradient(90deg,#0021ff,#0038ff,#0050ff,#0069ff,#0083ff,#009fff,#00bdff,#00dcff,#00feff,#00ffdb,#00ffb2,#00ff83,#00ff4a,#00ff10,#21ff00,#4fff00,#7bff00,#a8ff00,#d7ff00,#fff000,#ffc000,#ff9b00,#ff7d00,#ff6400,#ff5000,#ff3f00,#ff3200,#ff2800,#ff2100,#ff1d00,#ff1a00,#ff1a00,#ff1b00,#ff1f00,#ff2600,#ff2e00,#ff3a00,#ff4900,#ff5c00,#ff7300,#ff8f00,#ffb200,#ffdd00,#ebff00,#b9ff00,#8bff00,#5fff00,#32ff00,#02ff00,#00ff34,#00ff6f,#00ffa1,#00ffcc,#00fff3,#00e8ff,#00c8ff,#00aaff,#008dff,#0072ff,#0059ff,#0041ff,#0029ff)"></i><i style="background:linear-gradient(90deg,#0025ff,#003cff,#0054ff,#006dff,#0088ff,#00a4ff,#00c1ff,#00e1ff,#00fffa,#00ffd5,#00ffaa,#00ff79,#00ff3e,#00ff0a,#24ff00,#50ff00,#7aff00,#a4ff00,#d0ff00,#fffc00,#ffc900,#ffa200,#ff8200,#ff6900,#ff5400,#ff4300,#ff3600,#ff2c00,#ff2400,#ff1f00,#ff1d00,#ff1d00,#ff1e00,#ff2200,#ff2900,#ff3200,#ff3e00,#ff4d00,#ff6100,#ff7800,#ff9500,#ffb900,#ffe800,#e1ff00,#b4ff00,#89ff00,#5fff00,#35ff00,#08ff00,#00ff2a,#00ff64,#00ff99,#00ffc6,#00ffed,#00eeff,#00cdff,#00aeff,#0092ff,#0077ff,#005dff,#0045ff,#002eff)"></i><i style="background:linear-gradient(90deg,#002aff,#0041ff,#0059ff,#0072ff,#008cff,#00a8ff,#00c6ff,#00e7ff,#00fff4,#00ffce,#00ffa2,#00ff6e,#00ff34,#00ff04,#28ff00,#51ff00,#78ff00,#a0ff00,#caff00,#f7ff00,#ffd300,#ffa900,#ff8800,#ff6e00,#ff5900,#ff4700,#ff3a00,#ff2f00,#ff2800,#ff2300,#ff2000,#ff2000,#ff2200,#ff2600,#ff2c00,#ff3600,#ff4200,#ff5200,#ff6600,#ff7e00,#ff9c00,#ffc200,#fff400,#daff00,#afff00,#87ff00,#5fff00,#37ff00,#0cff00,#00ff22,#00ff58,#00ff90,#00ffbe,#00ffe7,#00f3ff,#00d2ff,#00b3ff,#0096ff,#007bff,#0062ff,#0049ff,#0032ff)"></i><i style="background:linear-gradient(90deg,#002eff,#0045ff,#005dff,#0076ff,#0091ff,#00aeff,#00ccff,#00edff,#00ffee,#00ffc6,#00ff98,#00ff60,#00ff2c,#01ff00,#2aff00,#51ff00,#77ff00,#9dff00,#c4ff00,#eeff00,#ffdf00,#ffb200,#ff8f00,#ff7400,#ff5e00,#ff4c00,#ff3e00,#ff3300,#ff2c00,#ff2700,#ff2400,#ff2300,#ff2500,#ff2900,#ff3000,#ff3a00,#ff4700,#ff5700,#ff6b00,#ff8500,#ffa400,#ffcd00,#ffff00,#d3ff00,#abff00,#85ff00,#5fff00,#39ff00,#11ff00,#00ff1b,#00ff4c,#00ff85,#00ffb6,#00ffe0,#00f9ff,#00d8ff,#00b8ff,#009bff,#0080ff,#0066ff,#004eff,#0037ff)"></i><i style="background:linear-gradient(90deg,#0033ff,#004aff,#0062ff,#007bff,#0096ff,#00b3ff,#00d2ff,#00f3ff,#00ffe6,#00ffbd,#00ff8d,#00ff54,#00ff24,#06ff00,#2dff00,#52ff00,#76ff00,#9aff00,#bfff00,#e5ff00,#ffec00,#ffbc00,#ff9700,#ff7b00,#ff6400,#ff5100,#ff4300,#ff3800,#ff3000,#ff2b00,#ff2800,#ff2700,#ff2900,#ff2e00,#ff3500,#ff3f00,#ff4c00,#ff5c00,#ff7200,#ff8c00,#ffad00,#ffda00,#f5ff00,#ccff00,#a7ff00,#83ff00,#5fff00,#3bff00,#15ff00,#00ff14,#00ff42,#00ff78,#00ffad,#00ffd8,#00fffe,#00deff,#00beff,#00a1ff,#0085ff,#006bff,#0053ff,#003bff)"></i><i style="background:linear-gradient(90deg,#0037ff,#004fff,#0067ff,#0081ff,#009cff,#00b9ff,#00d8ff,#00faff,#00ffdf,#00ffb4,#00ff80,#00ff4a,#00ff1d,#0aff00,#2fff00,#53ff00,#75ff00,#97ff00,#baff00,#deff00,#fff800,#ffc800,#ffa000,#ff8200,#ff6a00,#ff5700,#ff4800,#ff3d00,#ff3500,#ff2f00,#ff2c00,#ff2c00,#ff2e00,#ff3200,#ff3a00,#ff4400,#ff5100,#ff6300,#ff7900,#ff9400,#ffb800,#ffe700,#ecff00,#c7ff00,#a4ff00,#82ff00,#5fff00,#3dff00,#18ff00,#00ff0e,#00ff39,#00ff6b,#00ffa2,#00ffd0,#00fff7,#00e4ff,#00c4ff,#00a6ff,#008aff,#0070ff,#0057ff,#0040ff)"></i><i style="background:linear-gradient(90deg,#003cff,#0053ff,#006cff,#0086ff,#00a1ff,#00bfff,#00dfff,#00fffd,#00ffd6,#00ffa9,#00ff72,#00ff41,#00ff17,#0eff00,#32ff00,#53ff00,#74ff00,#94ff00,#b5ff00,#d7ff00,#fcff00,#ffd600,#ffab00,#ff8a00,#ff7100,#ff5e00,#ff4e00,#ff4200,#ff3a00,#ff3400,#ff3100,#ff3100,#ff3300,#ff3800,#ff3f00,#ff4a00,#ff5800,#ff6a00,#ff8100,#ff9e00,#ffc500,#fff300,#e4ff00,#c1ff00,#a0ff00,#80ff00,#5fff00,#3eff00,#1cff00,#00ff09,#00ff31,#00ff5f,#00ff96,#00ffc6,#00ffef,#00ebff,#00caff,#00acff,#0090ff,#0075ff,#005cff,#0045ff)"></i><i style="background:linear-gradient(90deg,#0041ff,#0058ff,#0071ff,#008bff,#00a7ff,#00c5ff,#00e6ff,#00fff5,#00ffcc,#00ff9c,#00ff66,#00ff39,#00ff12,#12ff00,#34ff00,#54ff00,#73ff00,#92ff00,#b1ff00,#d1ff00,#f3ff00,#ffe400,#ffb700,#ff9400,#ff7900,#ff6500,#ff5500,#ff4900,#ff4000,#ff3a00,#ff3700,#ff3600,#ff3800,#ff3d00,#ff4500,#ff5000,#ff5e00,#ff7100,#ff8900,#ffa900,#ffd300,#fffe00,#ddff00,#bcff00,#9dff00,#7eff00,#5fff00,#40ff00,#1fff00,#00ff04,#00ff2a,#00ff55,#00ff87,#00ffbc,#00ffe7,#00f2ff,#00d1ff,#00b2ff,#0095ff,#007bff,#0061ff,#0049ff)"></i><i style="background:linear-gradient(90deg,#0045ff,#005dff,#0076ff,#0091ff,#00adff,#00ccff,#00edff,#00ffec,#00ffc2,#00ff8d,#00ff5b,#00ff32,#00ff0d,#15ff00,#35ff00,#54ff00,#72ff00,#8fff00,#adff00,#cbff00,#eaff00,#fff000,#ffc500,#ff9e00,#ff8200,#ff6d00,#ff5c00,#ff4f00,#ff4600,#ff4000,#ff3d00,#ff3c00,#ff3e00,#ff4300,#ff4b00,#ff5700,#ff6600,#ff7a00,#ff9300,#ffb500,#ffe100,#f7ff00,#d6ff00,#b7ff00,#9aff00,#7dff00,#5fff00,#41ff00,#21ff00,#00ff00,#00ff24,#00ff4b,#00ff7a,#00ffb0,#00ffdd,#00faff,#00d8ff,#00b8ff,#009bff,#0080ff,#0066ff,#004eff)"></i><i style="background:linear-gradient(90deg,#004aff,#0062ff,#007cff,#0097ff,#00b4ff,#00d3ff,#00f5ff,#00ffe3,#00ffb6,#00ff80,#00ff52,#00ff2b,#00ff08,#18ff00,#37ff00,#54ff00,#71ff00,#8dff00,#a9ff00,#c5ff00,#e3ff00,#fffb00,#ffd400,#ffaa00,#ff8c00,#ff7500,#ff6400,#ff5600,#ff4d00,#ff4600,#ff4300,#ff4200,#ff4500,#ff4a00,#ff5200,#ff5e00,#ff6e00,#ff8300,#ff9e00,#ffc400,#ffee00,#eeff00,#d0ff00,#b3ff00,#97ff00,#7bff00,#5fff00,#42ff00,#24ff00,#04ff00,#00ff1e,#00ff43,#00ff6e,#00ffa2,#00ffd3,#00fffc,#00dfff,#00bfff,#00a1ff,#0085ff,#006bff,#0053ff)"></i><i style="background:linear-gradient(90deg,#004fff,#0067ff,#0081ff,#009dff,#00baff,#00daff,#00fdff,#00ffd9,#00ffa8,#00ff74,#00ff4a,#00ff25,#00ff04,#1bff00,#38ff00,#54ff00,#6fff00,#8aff00,#a5ff00,#bfff00,#dbff00,#f9ff00,#ffe200,#ffb800,#ff9700,#ff7e00,#ff6c00,#ff5e00,#ff5400,#ff4d00,#ff4a00,#ff4900,#ff4c00,#ff5100,#ff5a00,#ff6600,#ff7700,#ff8d00,#ffab00,#ffd400,#fff900,#e6ff00,#c9ff00,#aeff00,#94ff00,#79ff00,#5eff00,#43ff00,#26ff00,#08ff00,#00ff19,#00ff3c,#00ff64,#00ff93,#00ffc8,#00fff3,#00e6ff,#00c5ff,#00a7ff,#008bff,#0071ff,#0058ff)"></i><i style="background:linear-gradient(90deg,#0054ff,#006dff,#0087ff,#00a3ff,#00c1ff,#00e2ff,#00fff8,#00ffcd,#00ff99,#00ff6a,#00ff43,#00ff20,#00ff00,#1eff00,#3aff00,#54ff00,#6eff00,#88ff00,#a1ff00,#baff00,#d4ff00,#f0ff00,#ffef00,#ffc800,#ffa300,#ff8900,#ff7500,#ff6700,#ff5c00,#ff5500,#ff5200,#ff5100,#ff5300,#ff5900,#ff6200,#ff6f00,#ff8100,#ff9800,#ffb900,#ffe200,#fbff00,#deff00,#c4ff00,#aaff00,#91ff00,#78ff00,#5eff00,#43ff00,#28ff00,#0bff00,#00ff14,#00ff36,#00ff5b,#00ff86,#00ffbb,#00ffe9,#00efff,#00cdff,#00adff,#0091ff,#0076ff,#005dff)"></i><i style="background:linear-gradient(90deg,#0059ff,#0072ff,#008dff,#00a9ff,#00c8ff,#00eaff,#00ffee,#00ffc0,#00ff8c,#00ff61,#00ff3c,#00ff1b,#03ff00,#20ff00,#3bff00,#54ff00,#6dff00,#85ff00,#9dff00,#b5ff00,#cdff00,#e7ff00,#fffa00,#ffd800,#ffb100,#ff9400,#ff7f00,#ff7000,#ff6500,#ff5d00,#ff5a00,#ff5900,#ff5c00,#ff6200,#ff6b00,#ff7900,#ff8c00,#ffa500,#ffca00,#ffef00,#f1ff00,#d7ff00,#beff00,#a6ff00,#8eff00,#76ff00,#5dff00,#44ff00,#2aff00,#0eff00,#00ff10,#00ff30,#00ff53,#00ff7b,#00ffac,#00ffde,#00f7ff,#00d4ff,#00b4ff,#0097ff,#007bff,#0062ff)"></i><i style="background:linear-gradient(90deg,#005eff,#0077ff,#0092ff,#00b0ff,#00cfff,#00f3ff,#00ffe3,#00ffb1,#00ff81,#00ff59,#00ff36,#00ff16,#07ff00,#22ff00,#3bff00,#54ff00,#6bff00,#82ff00,#99ff00,#b0ff00,#c7ff00,#dfff00,#f9ff00,#ffe700,#ffc100,#ffa000,#ff8a00,#ff7a00,#ff6e00,#ff6600,#ff6200,#ff6200,#ff6400,#ff6b00,#ff7500,#ff8300,#ff9700,#ffb300,#ffda00,#fffb00,#e8ff00,#cfff00,#b8ff00,#a1ff00,#8bff00,#74ff00,#5dff00,#44ff00,#2bff00,#11ff00,#00ff0c,#00ff2a,#00ff4b,#00ff71,#00ff9e,#00ffd2,#00fffd,#00dcff,#00bbff,#009dff,#0081ff,#0067ff)"></i><i style="background:linear-gradient(90deg,#0063ff,#007dff,#0098ff,#00b6ff,#00d7ff,#00fcff,#00ffd7,#00ffa3,#00ff77,#00ff51,#00ff30,#00ff12,#09ff00,#23ff00,#3cff00,#53ff00,#6aff00,#80ff00,#95ff00,#abff00,#c0ff00,#d7ff00,#efff00,#fff400,#ffd200,#ffae00,#ff9600,#ff8400,#ff7800,#ff7000,#ff6c00,#ff6b00,#ff6e00,#ff7500,#ff7f00,#ff8f00,#ffa400,#ffc400,#ffe900,#f8ff00,#dfff00,#c8ff00,#b3ff00,#9dff00,#88ff00,#72ff00,#5cff00,#45ff00,#2dff00,#13ff00,#00ff08,#00ff25,#00ff45,#00ff68,#00ff92,#00ffc4,#00fff3,#00e4ff,#00c2ff,#00a3ff,#0087ff,#006cff)"></i><i style="background:linear-gradient(90deg,#0068ff,#0082ff,#009fff,#00beff,#00e0ff,#00fff8,#00ffc9,#00ff97,#00ff6e,#00ff4b,#00ff2b,#00ff0f,#0cff00,#25ff00,#3cff00,#53ff00,#68ff00,#7dff00,#92ff00,#a6ff00,#baff00,#cfff00,#e5ff00,#feff00,#ffe300,#ffbe00,#ffa300,#ff9000,#ff8300,#ff7a00,#ff7600,#ff7500,#ff7800,#ff7f00,#ff8a00,#ff9b00,#ffb300,#ffd600,#fff600,#eeff00,#d7ff00,#c2ff00,#adff00,#99ff00,#85ff00,#70ff00,#5bff00,#45ff00,#2eff00,#15ff00,#00ff05,#00ff20,#00ff3f,#00ff60,#00ff87,#00ffb5,#00ffe8,#00edff,#00caff,#00aaff,#008dff,#0071ff)"></i><i style="background:linear-gradient(90deg,#006dff,#0088ff,#00a5ff,#00c5ff,#00e8ff,#00ffed,#00ffba,#00ff8c,#00ff66,#00ff45,#00ff27,#00ff0b,#0eff00,#26ff00,#3dff00,#52ff00,#67ff00,#7aff00,#8eff00,#a1ff00,#b4ff00,#c7ff00,#dcff00,#f2ff00,#fff200,#ffd000,#ffb100,#ff9c00,#ff8e00,#ff8500,#ff8000,#ff8000,#ff8300,#ff8a00,#ff9600,#ffa800,#ffc300,#ffe700,#fbff00,#e4ff00,#cfff00,#bbff00,#a8ff00,#95ff00,#82ff00,#6eff00,#5aff00,#45ff00,#2fff00,#17ff00,#00ff02,#00ff1c,#00ff39,#00ff59,#00ff7d,#00ffa8,#00ffdb,#00f7ff,#00d2ff,#00b1ff,#0093ff,#0077ff)"></i><i style="background:linear-gradient(90deg,#0072ff,#008eff,#00acff,#00cdff,#00f2ff,#00ffe0,#00ffad,#00ff82,#00ff5f,#00ff3f,#00ff22,#00ff08,#10ff00,#27ff00,#3dff00,#51ff00,#65ff00,#78ff00,#8aff00,#9cff00,#aeff00,#c0ff00,#d3ff00,#e7ff00,#feff00,#ffe300,#ffc100,#ffaa00,#ff9a00,#ff9100,#ff8c00,#ff8b00,#ff8f00,#ff9600,#ffa300,#ffb700,#ffd500,#fff600,#efff00,#daff00,#c7ff00,#b4ff00,#a2ff00,#91ff00,#7eff00,#6cff00,#59ff00,#44ff00,#2fff00,#19ff00,#01ff00,#00ff19,#00ff34,#00ff53,#00ff75,#00ff9c,#00ffcd,#00fffd,#00daff,#00b8ff,#0099ff,#007cff)"></i><i style="background:linear-gradient(90deg,#0078ff,#0094ff,#00b3ff,#00d5ff,#00fdff,#00ffd1,#00ffa1,#00ff7a,#00ff58,#00ff3a,#00ff1f,#00ff05,#12ff00,#28ff00,#3dff00,#50ff00,#63ff00,#75ff00,#86ff00,#97ff00,#a8ff00,#b9ff00,#caff00,#dcff00,#f1ff00,#fff400,#ffd200,#ffb800,#ffa800,#ff9d00,#ff9800,#ff9700,#ff9b00,#ffa300,#ffb100,#ffc700,#ffe800,#faff00,#e4ff00,#d1ff00,#bfff00,#aeff00,#9dff00,#8cff00,#7bff00,#69ff00,#57ff00,#44ff00,#30ff00,#1aff00,#03ff00,#00ff15,#00ff30,#00ff4d,#00ff6d,#00ff92,#00ffbe,#00fff1,#00e3ff,#00bfff,#009fff,#0082ff)"></i><i style="background:linear-gradient(90deg,#007eff,#009bff,#00bbff,#00dfff,#00fff6,#00ffc3,#00ff97,#00ff72,#00ff52,#00ff35,#00ff1b,#00ff03,#14ff00,#29ff00,#3cff00,#4fff00,#61ff00,#72ff00,#82ff00,#92ff00,#a2ff00,#b1ff00,#c1ff00,#d2ff00,#e5ff00,#fbff00,#ffe600,#ffc900,#ffb600,#ffab00,#ffa500,#ffa400,#ffa800,#ffb100,#ffc100,#ffda00,#fffa00,#ecff00,#d9ff00,#c7ff00,#b7ff00,#a7ff00,#98ff00,#88ff00,#78ff00,#67ff00,#56ff00,#43ff00,#30ff00,#1bff00,#06ff00,#00ff12,#00ff2c,#00ff47,#00ff66,#00ff89,#00ffb1,#00ffe4,#00edff,#00c7ff,#00a6ff,#0088ff)"></i><i style="background:linear-gradient(90deg,#0084ff,#00a2ff,#00c3ff,#00e8ff,#00ffe8,#00ffb6,#00ff8e,#00ff6b,#00ff4d,#00ff31,#00ff18,#00ff01,#15ff00,#29ff00,#3cff00,#4eff00,#5fff00,#6fff00,#7eff00,#8dff00,#9bff00,#aaff00,#b9ff00,#c8ff00,#d9ff00,#ecff00,#fffa00,#ffdb00,#ffc600,#ffb900,#ffb300,#ffb200,#ffb600,#ffc000,#ffd200,#ffee00,#f4ff00,#dfff00,#ceff00,#beff00,#afff00,#a1ff00,#92ff00,#84ff00,#74ff00,#65ff00,#54ff00,#43ff00,#30ff00,#1cff00,#07ff00,#00ff0f,#00ff28,#00ff42,#00ff60,#00ff80,#00ffa6,#00ffd5,#00f8ff,#00d0ff,#00aeff,#008eff)"></i><i style="background:linear-gradient(90deg,#008aff,#00a9ff,#00ccff,#00f3ff,#00ffd9,#00ffab,#00ff85,#00ff65,#00ff48,#00ff2d,#00ff15,#01ff00,#16ff00,#29ff00,#3bff00,#4cff00,#5cff00,#6bff00,#7aff00,#88ff00,#95ff00,#a3ff00,#b0ff00,#beff00,#cdff00,#deff00,#f3ff00,#ffef00,#ffd600,#ffc900,#ffc200,#ffc100,#ffc500,#ffd000,#ffe400,#fcff00,#e5ff00,#d3ff00,#c3ff00,#b5ff00,#a8ff00,#9aff00,#8dff00,#7fff00,#71ff00,#62ff00,#52ff00,#42ff00,#30ff00,#1dff00,#09ff00,#00ff0d,#00ff24,#00ff3e,#00ff5a,#00ff79,#00ff9c,#00ffc7,#00fffa,#00d9ff,#00b5ff,#0095ff)"></i><i style="background:linear-gradient(90deg,#0091ff,#00b1ff,#00d5ff,#00fffe,#00ffcc,#00ffa1,#00ff7e,#00ff5f,#00ff43,#00ff2a,#00ff13,#03ff00,#17ff00,#29ff00,#3aff00,#4bff00,#5aff00,#68ff00,#76ff00,#83ff00,#8fff00,#9cff00,#a8ff00,#b4ff00,#c2ff00,#d0ff00,#e2ff00,#faff00,#ffe900,#ffd900,#ffd100,#ffd000,#ffd500,#ffe200,#fff900,#eaff00,#d6ff00,#c7ff00,#b9ff00,#acff00,#a0ff00,#94ff00,#87ff00,#7bff00,#6dff00,#5fff00,#50ff00,#40ff00,#30ff00,#1dff00,#0aff00,#00ff0b,#00ff21,#00ff3a,#00ff55,#00ff72,#00ff94,#00ffbb,#00ffec,#00e4ff,#00bdff,#009cff)"></i><i style="background:linear-gradient(90deg,#0097ff,#00b9ff,#00dfff,#00fff0,#00ffc0,#00ff99,#00ff77,#00ff5a,#00ff3f,#00ff27,#00ff11,#04ff00,#17ff00,#29ff00,#39ff00,#49ff00,#57ff00,#65ff00,#71ff00,#7eff00,#89ff00,#94ff00,#9fff00,#abff00,#b6ff00,#c3ff00,#d2ff00,#e6ff00,#fffd00,#ffeb00,#ffe200,#ffe100,#ffe700,#fff500,#efff00,#d9ff00,#c8ff00,#bbff00,#afff00,#a3ff00,#98ff00,#8dff00,#82ff00,#76ff00,#6aff00,#5cff00,#4eff00,#3fff00,#2fff00,#1eff00,#0bff00,#00ff09,#00ff1f,#00ff36,#00ff50,#00ff6c,#00ff8c,#00ffb0,#00ffdd,#00efff,#00c6ff,#00a3ff)"></i><i style="background:linear-gradient(90deg,#009fff,#00c2ff,#00eaff,#00ffe2,#00ffb5,#00ff91,#00ff71,#00ff55,#00ff3c,#00ff24,#00ff0f,#05ff00,#17ff00,#28ff00,#38ff00,#47ff00,#54ff00,#61ff00,#6dff00,#78ff00,#83ff00,#8dff00,#97ff00,#a1ff00,#abff00,#b6ff00,#c3ff00,#d3ff00,#eaff00,#fffe00,#fff400,#fff300,#fffa00,#f4ff00,#daff00,#c8ff00,#bbff00,#afff00,#a5ff00,#9bff00,#91ff00,#87ff00,#7cff00,#71ff00,#66ff00,#59ff00,#4cff00,#3eff00,#2eff00,#1eff00,#0cff00,#00ff07,#00ff1c,#00ff33,#00ff4c,#00ff67,#00ff85,#00ffa7,#00ffd0,#00fcff,#00d0ff,#00abff)"></i><i style="background:linear-gradient(90deg,#00a6ff,#00cbff,#00f7ff,#00ffd5,#00ffac,#00ff8a,#00ff6c,#00ff51,#00ff38,#00ff22,#00ff0d,#06ff00,#17ff00,#28ff00,#37ff00,#45ff00,#52ff00,#5eff00,#69ff00,#73ff00,#7dff00,#86ff00,#8fff00,#97ff00,#a0ff00,#a9ff00,#b4ff00,#c1ff00,#d3ff00,#eaff00,#f6ff00,#f8ff00,#f0ff00,#dcff00,#c7ff00,#b8ff00,#adff00,#a3ff00,#9aff00,#92ff00,#89ff00,#80ff00,#77ff00,#6cff00,#62ff00,#56ff00,#4aff00,#3cff00,#2dff00,#1dff00,#0cff00,#00ff06,#00ff1a,#00ff30,#00ff48,#00ff62,#00ff7f,#00ff9f,#00ffc5,#00fff4,#00daff,#00b3ff)"></i><i style="background:linear-gradient(90deg,#00afff,#00d6ff,#00fff8,#00ffc9,#00ffa4,#00ff84,#00ff67,#00ff4d,#00ff35,#00ff20,#00ff0c,#06ff00,#17ff00,#27ff00,#35ff00,#42ff00,#4fff00,#5aff00,#64ff00,#6eff00,#76ff00,#7eff00,#86ff00,#8eff00,#95ff00,#9dff00,#a5ff00,#b0ff00,#beff00,#d3ff00,#e1ff00,#e3ff00,#daff00,#c4ff00,#b4ff00,#a9ff00,#a0ff00,#98ff00,#90ff00,#89ff00,#81ff00,#79ff00,#71ff00,#68ff00,#5eff00,#53ff00,#47ff00,#3aff00,#2cff00,#1dff00,#0dff00,#00ff05,#00ff18,#00ff2d,#00ff44,#00ff5d,#00ff79,#00ff97,#00ffbb,#00ffe5,#00e6ff,#00bcff)"></i><i style="background:linear-gradient(90deg,#00b8ff,#00e2ff,#00ffea,#00ffc0,#00ff9c,#00ff7e,#00ff62,#00ff4a,#00ff33,#00ff1e,#00ff0b,#07ff00,#17ff00,#26ff00,#33ff00,#40ff00,#4bff00,#56ff00,#5fff00,#68ff00,#70ff00,#77ff00,#7eff00,#84ff00,#8aff00,#90ff00,#97ff00,#9fff00,#a9ff00,#b9ff00,#caff00,#cdff00,#c1ff00,#aeff00,#a2ff00,#9aff00,#93ff00,#8cff00,#86ff00,#80ff00,#79ff00,#73ff00,#6bff00,#63ff00,#59ff00,#4fff00,#44ff00,#38ff00,#2bff00,#1cff00,#0dff00,#00ff04,#00ff17,#00ff2b,#00ff41,#00ff59,#00ff73,#00ff91,#00ffb2,#00ffd9,#00f4ff,#00c6ff)"></i><i style="background:linear-gradient(90deg,#00c2ff,#00efff,#00ffde,#00ffb7,#00ff96,#00ff78,#00ff5e,#00ff46,#00ff31,#00ff1d,#00ff0a,#07ff00,#16ff00,#24ff00,#31ff00,#3dff00,#48ff00,#52ff00,#5aff00,#62ff00,#69ff00,#6fff00,#75ff00,#7aff00,#7fff00,#84ff00,#89ff00,#8eff00,#96ff00,#a1ff00,#b1ff00,#b4ff00,#a7ff00,#99ff00,#91ff00,#8bff00,#85ff00,#81ff00,#7cff00,#77ff00,#72ff00,#6cff00,#65ff00,#5dff00,#55ff00,#4cff00,#41ff00,#36ff00,#29ff00,#1cff00,#0dff00,#00ff04,#00ff16,#00ff29,#00ff3e,#00ff55,#00ff6f,#00ff8b,#00ffaa,#00ffcf,#00fffc,#00d1ff)"></i><i style="background:linear-gradient(90deg,#00cdff,#00feff,#00ffd3,#00ffaf,#00ff90,#00ff74,#00ff5a,#00ff44,#00ff2f,#00ff1b,#00ff0a,#07ff00,#15ff00,#23ff00,#2fff00,#3aff00,#45ff00,#4eff00,#55ff00,#5dff00,#63ff00,#68ff00,#6cff00,#70ff00,#74ff00,#77ff00,#7aff00,#7eff00,#82ff00,#89ff00,#95ff00,#99ff00,#8dff00,#85ff00,#7fff00,#7cff00,#78ff00,#75ff00,#72ff00,#6eff00,#6aff00,#65ff00,#5fff00,#58ff00,#51ff00,#48ff00,#3eff00,#33ff00,#28ff00,#1aff00,#0cff00,#00ff04,#00ff15,#00ff27,#00ff3c,#00ff52,#00ff6a,#00ff85,#00ffa3,#00ffc5,#00ffee,#00deff)"></i><i style="background:linear-gradient(90deg,#00d9ff,#00fff3,#00ffca,#00ffa8,#00ff8a,#00ff6f,#00ff57,#00ff41,#00ff2d,#00ff1a,#00ff09,#06ff00,#14ff00,#21ff00,#2dff00,#37ff00,#41ff00,#49ff00,#50ff00,#57ff00,#5cff00,#60ff00,#64ff00,#67ff00,#69ff00,#6aff00,#6cff00,#6dff00,#6fff00,#72ff00,#77ff00,#7aff00,#74ff00,#70ff00,#6eff00,#6cff00,#6bff00,#69ff00,#67ff00,#65ff00,#62ff00,#5eff00,#59ff00,#53ff00,#4cff00,#44ff00,#3bff00,#31ff00,#26ff00,#19ff00,#0bff00,#00ff04,#00ff14,#00ff26,#00ff39,#00ff4f,#00ff66,#00ff80,#00ff9d,#00ffbd,#00ffe3,#00ecff)"></i><i style="background:linear-gradient(90deg,#00e7ff,#00ffe7,#00ffc2,#00ffa1,#00ff85,#00ff6b,#00ff54,#00ff3f,#00ff2b,#00ff1a,#00ff09,#06ff00,#13ff00,#1fff00,#2aff00,#34ff00,#3dff00,#45ff00,#4bff00,#51ff00,#55ff00,#58ff00,#5bff00,#5dff00,#5dff00,#5eff00,#5eff00,#5dff00,#5cff00,#5bff00,#5aff00,#5aff00,#5bff00,#5cff00,#5dff00,#5dff00,#5eff00,#5eff00,#5dff00,#5cff00,#59ff00,#56ff00,#52ff00,#4dff00,#47ff00,#40ff00,#38ff00,#2eff00,#24ff00,#18ff00,#0bff00,#00ff04,#00ff13,#00ff25,#00ff38,#00ff4c,#00ff63,#00ff7b,#00ff97,#00ffb5,#00ffd9,#00faff)"></i><i style="background:linear-gradient(90deg,#00f6ff,#00ffde,#00ffba,#00ff9c,#00ff80,#00ff68,#00ff51,#00ff3d,#00ff2a,#00ff19,#00ff0a,#05ff00,#12ff00,#1dff00,#28ff00,#31ff00,#39ff00,#40ff00,#46ff00,#4aff00,#4eff00,#50ff00,#52ff00,#53ff00,#52ff00,#51ff00,#4fff00,#4cff00,#49ff00,#44ff00,#3dff00,#39ff00,#42ff00,#48ff00,#4bff00,#4eff00,#50ff00,#52ff00,#52ff00,#52ff00,#51ff00,#4fff00,#4cff00,#48ff00,#42ff00,#3cff00,#34ff00,#2bff00,#21ff00,#16ff00,#0aff00,#00ff04,#00ff13,#00ff24,#00ff36,#00ff4a,#00ff5f,#00ff77,#00ff91,#00ffaf,#00ffd0,#00fff7)"></i><i style="background:linear-gradient(90deg,#00fffc,#00ffd5,#00ffb3,#00ff96,#00ff7c,#00ff65,#00ff4f,#00ff3b,#00ff29,#00ff19,#00ff0a,#04ff00,#10ff00,#1bff00,#25ff00,#2dff00,#35ff00,#3bff00,#40ff00,#44ff00,#47ff00,#48ff00,#49ff00,#48ff00,#47ff00,#44ff00,#40ff00,#3cff00,#36ff00,#2dff00,#1fff00,#1bff00,#29ff00,#33ff00,#3aff00,#3fff00,#43ff00,#46ff00,#48ff00,#49ff00,#49ff00,#48ff00,#45ff00,#42ff00,#3dff00,#37ff00,#30ff00,#28ff00,#1fff00,#14ff00,#08ff00,#00ff05,#00ff13,#00ff23,#00ff35,#00ff48,#00ff5c,#00ff73,#00ff8c,#00ffa8,#00ffc8,#00ffed)"></i><i style="background:linear-gradient(90deg,#00fff1,#00ffcd,#00ffad,#00ff91,#00ff78,#00ff62,#00ff4d,#00ff3a,#00ff29,#00ff19,#00ff0b,#02ff00,#0eff00,#19ff00,#22ff00,#2aff00,#31ff00,#36ff00,#3aff00,#3eff00,#3fff00,#40ff00,#40ff00,#3eff00,#3bff00,#37ff00,#32ff00,#2bff00,#22ff00,#14ff00,#03ff00,#00ff00,#0eff00,#1dff00,#28ff00,#2fff00,#35ff00,#3aff00,#3dff00,#3fff00,#40ff00,#40ff00,#3eff00,#3cff00,#38ff00,#33ff00,#2cff00,#25ff00,#1cff00,#12ff00,#07ff00,#00ff06,#00ff13,#00ff23,#00ff33,#00ff46,#00ff5a,#00ff70,#00ff88,#00ffa3,#00ffc1,#00ffe3)"></i><i style="background:linear-gradient(90deg,#00ffe8,#00ffc6,#00ffa8,#00ff8d,#00ff75,#00ff5f,#00ff4b,#00ff39,#00ff28,#00ff19,#00ff0b,#01ff00,#0cff00,#16ff00,#1fff00,#26ff00,#2cff00,#31ff00,#35ff00,#37ff00,#38ff00,#38ff00,#36ff00,#33ff00,#2fff00,#2aff00,#22ff00,#19ff00,#0dff00,#00ff06,#00ff16,#00ff19,#00ff0d,#07ff00,#15ff00,#1fff00,#27ff00,#2dff00,#32ff00,#35ff00,#37ff00,#38ff00,#37ff00,#36ff00,#32ff00,#2eff00,#28ff00,#21ff00,#19ff00,#10ff00,#05ff00,#00ff07,#00ff14,#00ff23,#00ff33,#00ff44,#00ff58,#00ff6d,#00ff84,#00ff9e,#00ffba,#00ffdb)"></i><i style="background:linear-gradient(90deg,#00ffe0,#00ffbf,#00ffa3,#00ff89,#00ff72,#00ff5d,#00ff4a,#00ff38,#00ff28,#00ff1a,#00ff0c,#00ff01,#0aff00,#13ff00,#1bff00,#22ff00,#27ff00,#2cff00,#2fff00,#30ff00,#30ff00,#2fff00,#2dff00,#29ff00,#23ff00,#1cff00,#13ff00,#07ff00,#00ff09,#00ff20,#00ff2e,#00ff30,#00ff27,#00ff10,#02ff00,#0fff00,#19ff00,#21ff00,#27ff00,#2bff00,#2eff00,#30ff00,#30ff00,#2fff00,#2dff00,#29ff00,#24ff00,#1eff00,#16ff00,#0dff00,#03ff00,#00ff08,#00ff15,#00ff23,#00ff32,#00ff43,#00ff56,#00ff6a,#00ff80,#00ff99,#00ffb4,#00ffd3)"></i><i style="background:linear-gradient(90deg,#00ffd8,#00ffb9,#00ff9e,#00ff85,#00ff6f,#00ff5b,#00ff48,#00ff38,#00ff28,#00ff1a,#00ff0e,#00ff02,#07ff00,#10ff00,#18ff00,#1eff00,#23ff00,#26ff00,#28ff00,#29ff00,#29ff00,#27ff00,#23ff00,#1eff00,#17ff00,#0eff00,#03ff00,#00ff0b,#00ff20,#00ff38,#00ff44,#00ff45,#00ff3e,#00ff2a,#00ff12,#00ff02,#0aff00,#14ff00,#1bff00,#21ff00,#25ff00,#28ff00,#29ff00,#29ff00,#27ff00,#24ff00,#20ff00,#1aff00,#13ff00,#0bff00,#01ff00,#00ff09,#00ff16,#00ff23,#00ff32,#00ff42,#00ff54,#00ff68,#00ff7d,#00ff95,#00ffaf,#00ffcc)"></i><i style="background:linear-gradient(90deg,#00ffd1,#00ffb4,#00ff9a,#00ff82,#00ff6d,#00ff59,#00ff47,#00ff37,#00ff29,#00ff1b,#00ff0f,#00ff05,#05ff00,#0dff00,#14ff00,#19ff00,#1eff00,#20ff00,#22ff00,#22ff00,#21ff00,#1eff00,#19ff00,#13ff00,#0aff00,#00ff00,#00ff0e,#00ff1f,#00ff38,#00ff4e,#00ff58,#00ff5a,#00ff53,#00ff42,#00ff27,#00ff13,#00ff05,#07ff00,#10ff00,#17ff00,#1cff00,#20ff00,#22ff00,#22ff00,#21ff00,#1fff00,#1bff00,#16ff00,#10ff00,#08ff00,#00ff01,#00ff0b,#00ff17,#00ff23,#00ff32,#00ff41,#00ff53,#00ff65,#00ff7a,#00ff91,#00ffaa,#00ffc6)"></i><i style="background:linear-gradient(90deg,#00ffcb,#00ffaf,#00ff96,#00ff7f,#00ff6b,#00ff58,#00ff47,#00ff37,#00ff29,#00ff1c,#00ff11,#00ff07,#02ff00,#0aff00,#10ff00,#15ff00,#18ff00,#1bff00,#1bff00,#1bff00,#18ff00,#14ff00,#0fff00,#07ff00,#00ff03,#00ff0f,#00ff1f,#00ff34,#00ff50,#00ff63,#00ff6c,#00ff6d,#00ff67,#00ff58,#00ff3e,#00ff26,#00ff14,#00ff07,#04ff00,#0cff00,#13ff00,#17ff00,#1aff00,#1bff00,#1bff00,#19ff00,#16ff00,#12ff00,#0cff00,#05ff00,#00ff03,#00ff0d,#00ff18,#00ff24,#00ff32,#00ff41,#00ff51,#00ff64,#00ff78,#00ff8d,#00ffa6,#00ffc0)"></i><i style="background:linear-gradient(90deg,#00ffc5,#00ffab,#00ff93,#00ff7d,#00ff69,#00ff57,#00ff46,#00ff37,#00ff2a,#00ff1e,#00ff13,#00ff09,#00ff01,#06ff00,#0cff00,#10ff00,#13ff00,#14ff00,#15ff00,#13ff00,#10ff00,#0bff00,#04ff00,#00ff05,#00ff10,#00ff1e,#00ff31,#00ff4b,#00ff66,#00ff76,#00ff7e,#00ff7f,#00ff7a,#00ff6d,#00ff56,#00ff39,#00ff24,#00ff15,#00ff08,#01ff00,#09ff00,#0eff00,#12ff00,#14ff00,#15ff00,#14ff00,#11ff00,#0dff00,#08ff00,#02ff00,#00ff06,#00ff0f,#00ff19,#00ff25,#00ff32,#00ff41,#00ff51,#00ff62,#00ff75,#00ff8a,#00ffa2,#00ffbb)"></i><i style="background:linear-gradient(90deg,#00ffc0,#00ffa7,#00ff8f,#00ff7a,#00ff67,#00ff56,#00ff46,#00ff38,#00ff2b,#00ff1f,#00ff15,#00ff0c,#00ff04,#02ff00,#07ff00,#0bff00,#0dff00,#0eff00,#0eff00,#0bff00,#07ff00,#01ff00,#00ff06,#00ff11,#00ff1e,#00ff2e,#00ff44,#00ff62,#00ff7a,#00ff89,#00ff90,#00ff91,#00ff8c,#00ff81,#00ff6c,#00ff4e,#00ff35,#00ff23,#00ff15,#00ff0a,#00ff01,#05ff00,#0aff00,#0dff00,#0eff00,#0eff00,#0cff00,#09ff00,#04ff00,#00ff02,#00ff09,#00ff11,#00ff1b,#00ff26,#00ff33,#00ff41,#00ff50,#00ff61,#00ff73,#00ff88,#00ff9e,#00ffb6)"></i><i style="background:linear-gradient(90deg,#00ffbc,#00ffa3,#00ff8d,#00ff78,#00ff66,#00ff55,#00ff46,#00ff38,#00ff2c,#00ff21,#00ff17,#00ff0f,#00ff08,#00ff02,#03ff00,#06ff00,#08ff00,#08ff00,#06ff00,#03ff00,#00ff02,#00ff08,#00ff12,#00ff1d,#00ff2c,#00ff3f,#00ff58,#00ff78,#00ff8d,#00ff9a,#00ffa1,#00ffa2,#00ff9d,#00ff93,#00ff81,#00ff64,#00ff47,#00ff32,#00ff22,#00ff15,#00ff0b,#00ff04,#02ff00,#05ff00,#07ff00,#08ff00,#07ff00,#04ff00,#00ff00,#00ff05,#00ff0c,#00ff14,#00ff1d,#00ff28,#00ff34,#00ff41,#00ff4f,#00ff60,#00ff71,#00ff85,#00ff9b,#00ffb2)"></i><i style="background:linear-gradient(90deg,#00ffb7,#00ffa0,#00ff8a,#00ff77,#00ff65,#00ff55,#00ff46,#00ff39,#00ff2d,#00ff23,#00ff1a,#00ff12,#00ff0b,#00ff06,#00ff02,#00ff00,#02ff00,#01ff00,#00ff01,#00ff05,#00ff0b,#00ff13,#00ff1d,#00ff2a,#00ff3b,#00ff50,#00ff6f,#00ff8c,#00ff9f,#00ffab,#00ffb1,#00ffb2,#00ffae,#00ffa4,#00ff94,#00ff7b,#00ff5a,#00ff42,#00ff30,#00ff21,#00ff16,#00ff0d,#00ff07,#00ff02,#00ff00,#02ff00,#01ff00,#00ff01,#00ff04,#00ff09,#00ff0f,#00ff17,#00ff1f,#00ff29,#00ff35,#00ff41,#00ff4f,#00ff5f,#00ff70,#00ff83,#00ff98,#00ffae)"></i><i style="background:linear-gradient(90deg,#00ffb3,#00ff9d,#00ff88,#00ff75,#00ff64,#00ff55,#00ff47,#00ff3a,#00ff2f,#00ff25,#00ff1c,#00ff15,#00ff0f,#00ff0a,#00ff07,#00ff05,#00ff05,#00ff06,#00ff09,#00ff0d,#00ff14,#00ff1d,#00ff29,#00ff37,#00ff4a,#00ff63,#00ff85,#00ff9f,#00ffb0,#00ffbb,#00ffc1,#00ffc2,#00ffbe,#00ffb5,#00ffa6,#00ff90,#00ff6f,#00ff52,#00ff3e,#00ff2e,#00ff21,#00ff17,#00ff10,#00ff0a,#00ff07,#00ff05,#00ff05,#00ff06,#00ff09,#00ff0d,#00ff13,#00ff19,#00ff22,#00ff2b,#00ff36,#00ff42,#00ff4f,#00ff5e,#00ff6f,#00ff81,#00ff95,#00ffab)"></i><i style="background:linear-gradient(90deg,#00ffb0,#00ff9a,#00ff86,#00ff74,#00ff64,#00ff55,#00ff47,#00ff3b,#00ff31,#00ff27,#00ff1f,#00ff18,#00ff13,#00ff0f,#00ff0c,#00ff0b,#00ff0b,#00ff0d,#00ff11,#00ff16,#00ff1e,#00ff28,#00ff35,#00ff45,#00ff5a,#00ff78,#00ff99,#00ffb0,#00ffc0,#00ffcb,#00ffd1,#00ffd2,#00ffce,#00ffc5,#00ffb7,#00ffa3,#00ff85,#00ff64,#00ff4c,#00ff3a,#00ff2c,#00ff21,#00ff19,#00ff12,#00ff0e,#00ff0c,#00ff0b,#00ff0b,#00ff0e,#00ff11,#00ff16,#00ff1c,#00ff24,#00ff2d,#00ff37,#00ff43,#00ff50,#00ff5e,#00ff6e,#00ff7f,#00ff93,#00ffa8)"></i><i style="background:linear-gradient(90deg,#00ffad,#00ff98,#00ff85,#00ff73,#00ff63,#00ff55,#00ff48,#00ff3d,#00ff33,#00ff2a,#00ff22,#00ff1c,#00ff17,#00ff14,#00ff11,#00ff11,#00ff12,#00ff14,#00ff19,#00ff1f,#00ff28,#00ff33,#00ff41,#00ff54,#00ff6c,#00ff8e,#00ffac,#00ffc1,#00ffd0,#00ffda,#00ffdf,#00ffe0,#00ffdd,#00ffd4,#00ffc7,#00ffb4,#00ff9a,#00ff77,#00ff5c,#00ff48,#00ff38,#00ff2c,#00ff22,#00ff1b,#00ff16,#00ff12,#00ff11,#00ff11,#00ff13,#00ff16,#00ff1a,#00ff20,#00ff27,#00ff2f,#00ff39,#00ff44,#00ff50,#00ff5e,#00ff6d,#00ff7e,#00ff91,#00ffa5)"></i><i style="background:linear-gradient(90deg,#00ffaa,#00ff96,#00ff83,#00ff73,#00ff63,#00ff56,#00ff49,#00ff3e,#00ff35,#00ff2c,#00ff25,#00ff20,#00ff1b,#00ff18,#00ff17,#00ff17,#00ff19,#00ff1c,#00ff21,#00ff28,#00ff32,#00ff3f,#00ff4f,#00ff63,#00ff7f,#00ffa3,#00ffbd,#00ffd1,#00ffdf,#00ffe9,#00ffee,#00ffef,#00ffeb,#00ffe3,#00ffd6,#00ffc5,#00ffad,#00ff8c,#00ff6c,#00ff56,#00ff44,#00ff36,#00ff2c,#00ff24,#00ff1e,#00ff1a,#00ff17,#00ff17,#00ff18,#00ff1a,#00ff1e,#00ff23,#00ff2a,#00ff32,#00ff3b,#00ff45,#00ff51,#00ff5e,#00ff6d,#00ff7d,#00ff8f,#00ffa2)"></i><i style="background:linear-gradient(90deg,#00ffa8,#00ff94,#00ff82,#00ff72,#00ff64,#00ff56,#00ff4b,#00ff40,#00ff37,#00ff2f,#00ff29,#00ff24,#00ff20,#00ff1e,#00ff1d,#00ff1d,#00ff20,#00ff24,#00ff2a,#00ff32,#00ff3d,#00ff4b,#00ff5c,#00ff73,#00ff94,#00ffb6,#00ffce,#00ffe0,#00ffed,#00fff7,#00fffc,#00fffd,#00fff9,#00fff1,#00ffe5,#00ffd5,#00ffbf,#00ffa2,#00ff7e,#00ff64,#00ff51,#00ff42,#00ff36,#00ff2d,#00ff26,#00ff21,#00ff1e,#00ff1d,#00ff1d,#00ff1f,#00ff22,#00ff27,#00ff2d,#00ff34,#00ff3d,#00ff47,#00ff52,#00ff5f,#00ff6d,#00ff7c,#00ff8d,#00ffa0)"></i><i style="background:linear-gradient(90deg,#00ffa5,#00ff93,#00ff81,#00ff72,#00ff64,#00ff57,#00ff4c,#00ff42,#00ff3a,#00ff32,#00ff2c,#00ff28,#00ff25,#00ff23,#00ff23,#00ff24,#00ff27,#00ff2c,#00ff33,#00ff3c,#00ff48,#00ff57,#00ff6b,#00ff85,#00ffa9,#00ffc7,#00ffdd,#00ffee,#00fffb,#00faff,#00f5ff,#00f4ff,#00f7ff,#00ffff,#00fff4,#00ffe4,#00ffd0,#00ffb5,#00ff91,#00ff74,#00ff5e,#00ff4d,#00ff40,#00ff36,#00ff2e,#00ff29,#00ff25,#00ff23,#00ff23,#00ff24,#00ff27,#00ff2b,#00ff30,#00ff37,#00ff3f,#00ff48,#00ff53,#00ff5f,#00ff6d,#00ff7c,#00ff8c,#00ff9e)"></i><i style="background:linear-gradient(90deg,#00ffa4,#00ff91,#00ff81,#00ff72,#00ff65,#00ff58,#00ff4e,#00ff44,#00ff3c,#00ff36,#00ff30,#00ff2c,#00ff2a,#00ff28,#00ff29,#00ff2b,#00ff2f,#00ff34,#00ff3c,#00ff46,#00ff53,#00ff64,#00ff7a,#00ff98,#00ffbd,#00ffd7,#00ffec,#00fffc,#00f5ff,#00ecff,#00e7ff,#00e7ff,#00eaff,#00f1ff,#00fdff,#00fff3,#00ffe0,#00ffc7,#00ffa6,#00ff84,#00ff6c,#00ff59,#00ff4b,#00ff3f,#00ff37,#00ff30,#00ff2c,#00ff29,#00ff28,#00ff29,#00ff2b,#00ff2f,#00ff34,#00ff3a,#00ff41,#00ff4a,#00ff54,#00ff60,#00ff6d,#00ff7b,#00ff8b,#00ff9d)"></i><i style="background:linear-gradient(90deg,#00ffa2,#00ff90,#00ff81,#00ff72,#00ff65,#00ff5a,#00ff50,#00ff47,#00ff3f,#00ff39,#00ff34,#00ff31,#00ff2f,#00ff2e,#00ff2f,#00ff32,#00ff36,#00ff3d,#00ff46,#00ff51,#00ff5f,#00ff72,#00ff8b,#00ffad,#00ffce,#00ffe7,#00fffa,#00f4ff,#00e8ff,#00dfff,#00daff,#00daff,#00ddff,#00e4ff,#00efff,#00feff,#00ffee,#00ffd8,#00ffbb,#00ff96,#00ff7a,#00ff66,#00ff56,#00ff49,#00ff40,#00ff38,#00ff33,#00ff30,#00ff2e,#00ff2e,#00ff30,#00ff33,#00ff37,#00ff3d,#00ff44,#00ff4c,#00ff56,#00ff61,#00ff6d,#00ff7b,#00ff8a,#00ff9b)"></i><i style="background:linear-gradient(90deg,#00ffa1,#00ff90,#00ff81,#00ff73,#00ff66,#00ff5b,#00ff52,#00ff4a,#00ff43,#00ff3d,#00ff39,#00ff36,#00ff34,#00ff34,#00ff36,#00ff39,#00ff3e,#00ff46,#00ff4f,#00ff5c,#00ff6c,#00ff81,#00ff9d,#00ffc2,#00ffdf,#00fff6,#00f6ff,#00e7ff,#00dbff,#00d3ff,#00ceff,#00cdff,#00d0ff,#00d7ff,#00e2ff,#00f0ff,#00fffd,#00ffe8,#00ffcd,#00ffaa,#00ff8a,#00ff73,#00ff61,#00ff54,#00ff49,#00ff41,#00ff3b,#00ff37,#00ff35,#00ff34,#00ff35,#00ff37,#00ff3b,#00ff40,#00ff47,#00ff4f,#00ff58,#00ff62,#00ff6e,#00ff7b,#00ff8a,#00ff9a)"></i><i style="background:linear-gradient(90deg,#00ffa0,#00ff8f,#00ff81,#00ff73,#00ff68,#00ff5d,#00ff54,#00ff4c,#00ff46,#00ff41,#00ff3d,#00ff3b,#00ff3a,#00ff3a,#00ff3d,#00ff41,#00ff47,#00ff4f,#00ff5a,#00ff68,#00ff79,#00ff90,#00ffb1,#00ffd4,#00ffee,#00faff,#00e9ff,#00daff,#00ceff,#00c6ff,#00c2ff,#00c1ff,#00c4ff,#00cbff,#00d5ff,#00e3ff,#00f3ff,#00fff7,#00ffdf,#00ffbf,#00ff9b,#00ff81,#00ff6e,#00ff5e,#00ff53,#00ff4a,#00ff43,#00ff3e,#00ff3b,#00ff3a,#00ff3a,#00ff3c,#00ff3f,#00ff44,#00ff4a,#00ff51,#00ff5a,#00ff64,#00ff6f,#00ff7c,#00ff8a,#00ff99)"></i><i style="background:linear-gradient(90deg,#00ff9f,#00ff8f,#00ff81,#00ff74,#00ff69,#00ff5f,#00ff57,#00ff4f,#00ff49,#00ff45,#00ff42,#00ff40,#00ff40,#00ff41,#00ff44,#00ff49,#00ff4f,#00ff59,#00ff64,#00ff74,#00ff87,#00ffa1,#00ffc5,#00ffe5,#00fffd,#00edff,#00dcff,#00ceff,#00c2ff,#00baff,#00b6ff,#00b5ff,#00b8ff,#00bfff,#00c9ff,#00d6ff,#00e6ff,#00f9ff,#00ffee,#00ffd2,#00ffad,#00ff90,#00ff7a,#00ff6a,#00ff5d,#00ff53,#00ff4b,#00ff45,#00ff42,#00ff40,#00ff40,#00ff41,#00ff44,#00ff48,#00ff4d,#00ff54,#00ff5c,#00ff65,#00ff70,#00ff7c,#00ff8a,#00ff99)"></i><i style="background:linear-gradient(90deg,#00ff9e,#00ff8f,#00ff82,#00ff75,#00ff6b,#00ff61,#00ff59,#00ff53,#00ff4d,#00ff49,#00ff47,#00ff45,#00ff46,#00ff48,#00ff4b,#00ff51,#00ff58,#00ff63,#00ff70,#00ff80,#00ff96,#00ffb4,#00ffd8,#00fff5,#00f3ff,#00e0ff,#00cfff,#00c2ff,#00b6ff,#00aeff,#00aaff,#00a9ff,#00acff,#00b3ff,#00bdff,#00caff,#00d9ff,#00ebff,#00fffd,#00ffe4,#00ffc1,#00ffa0,#00ff88,#00ff75,#00ff67,#00ff5c,#00ff53,#00ff4d,#00ff49,#00ff46,#00ff45,#00ff46,#00ff48,#00ff4c,#00ff50,#00ff57,#00ff5e,#00ff67,#00ff71,#00ff7d,#00ff8a,#00ff98)"></i><i style="background:linear-gradient(90deg,#00ff9e,#00ff8f,#00ff82,#00ff77,#00ff6d,#00ff64,#00ff5c,#00ff56,#00ff51,#00ff4e,#00ff4c,#00ff4b,#00ff4c,#00ff4e,#00ff53,#00ff59,#00ff62,#00ff6d,#00ff7b,#00ff8e,#00ffa6,#00ffc8,#00ffea,#00faff,#00e5ff,#00d3ff,#00c3ff,#00b6ff,#00abff,#00a3ff,#009eff,#009eff,#00a1ff,#00a8ff,#00b2ff,#00beff,#00cdff,#00deff,#00f2ff,#00fff4,#00ffd6,#00ffb1,#00ff96,#00ff81,#00ff72,#00ff66,#00ff5c,#00ff55,#00ff50,#00ff4d,#00ff4b,#00ff4b,#00ff4d,#00ff50,#00ff54,#00ff5a,#00ff61,#00ff69,#00ff73,#00ff7e,#00ff8a,#00ff98)"></i><i style="background:linear-gradient(90deg,#00ff9e,#00ff90,#00ff83,#00ff78,#00ff6f,#00ff66,#00ff5f,#00ff5a,#00ff55,#00ff52,#00ff51,#00ff51,#00ff52,#00ff56,#00ff5b,#00ff62,#00ff6b,#00ff78,#00ff87,#00ff9c,#00ffb7,#00ffdc,#00fffa,#00ecff,#00d8ff,#00c7ff,#00b8ff,#00aaff,#00a0ff,#0098ff,#0093ff,#0092ff,#0096ff,#009cff,#00a6ff,#00b3ff,#00c1ff,#00d2ff,#00e5ff,#00fbff,#00ffe8,#00ffc4,#00ffa5,#00ff8e,#00ff7d,#00ff70,#00ff65,#00ff5d,#00ff57,#00ff53,#00ff51,#00ff51,#00ff52,#00ff54,#00ff58,#00ff5d,#00ff64,#00ff6b,#00ff75,#00ff7f,#00ff8b,#00ff98)"></i><i style="background:linear-gradient(90deg,#00ff9e,#00ff91,#00ff85,#00ff7a,#00ff71,#00ff69,#00ff63,#00ff5d,#00ff5a,#00ff57,#00ff56,#00ff57,#00ff59,#00ff5d,#00ff63,#00ff6b,#00ff75,#00ff83,#00ff94,#00ffab,#00ffca,#00ffee,#00f5ff,#00dfff,#00ccff,#00bbff,#00acff,#009fff,#0095ff,#008dff,#0088ff,#0087ff,#008bff,#0091ff,#009bff,#00a7ff,#00b5ff,#00c5ff,#00d8ff,#00ecff,#00fff9,#00ffd8,#00ffb5,#00ff9c,#00ff89,#00ff7a,#00ff6e,#00ff66,#00ff5f,#00ff5a,#00ff57,#00ff56,#00ff57,#00ff59,#00ff5c,#00ff61,#00ff67,#00ff6e,#00ff77,#00ff81,#00ff8c,#00ff99)"></i><i style="background:linear-gradient(90deg,#00ff9e,#00ff91,#00ff86,#00ff7c,#00ff73,#00ff6c,#00ff66,#00ff61,#00ff5e,#00ff5c,#00ff5c,#00ff5d,#00ff60,#00ff65,#00ff6b,#00ff74,#00ff80,#00ff8f,#00ffa2,#00ffbb,#00ffde,#00ffff,#00e6ff,#00d2ff,#00c0ff,#00b0ff,#00a1ff,#0094ff,#008aff,#0082ff,#007dff,#007dff,#0080ff,#0087ff,#0090ff,#009cff,#00aaff,#00baff,#00cbff,#00dfff,#00f6ff,#00ffec,#00ffc7,#00ffaa,#00ff95,#00ff85,#00ff78,#00ff6e,#00ff67,#00ff62,#00ff5e,#00ff5c,#00ff5c,#00ff5d,#00ff60,#00ff64,#00ff6a,#00ff71,#00ff79,#00ff82,#00ff8d,#00ff99)"></i><i style="background:linear-gradient(90deg,#00ff9f,#00ff93,#00ff88,#00ff7e,#00ff76,#00ff6f,#00ff6a,#00ff66,#00ff63,#00ff62,#00ff62,#00ff64,#00ff67,#00ff6d,#00ff74,#00ff7e,#00ff8b,#00ff9b,#00ffb0,#00ffcd,#00fff2,#00f0ff,#00d9ff,#00c5ff,#00b4ff,#00a4ff,#0096ff,#008aff,#007fff,#0077ff,#0073ff,#0072ff,#0075ff,#007cff,#0086ff,#0091ff,#009fff,#00aeff,#00bfff,#00d1ff,#00e7ff,#00fffd,#00ffda,#00ffb9,#00ffa2,#00ff90,#00ff82,#00ff77,#00ff6f,#00ff69,#00ff65,#00ff62,#00ff62,#00ff62,#00ff65,#00ff68,#00ff6d,#00ff73,#00ff7b,#00ff84,#00ff8e,#00ff9a)"></i><i style="background:linear-gradient(90deg,#00ffa0,#00ff94,#00ff8a,#00ff81,#00ff79,#00ff73,#00ff6e,#00ff6a,#00ff68,#00ff67,#00ff68,#00ff6b,#00ff6f,#00ff75,#00ff7d,#00ff88,#00ff96,#00ffa8,#00ffbf,#00ffe0,#00fbff,#00e1ff,#00ccff,#00b9ff,#00a9ff,#0099ff,#008cff,#007fff,#0075ff,#006dff,#0068ff,#0068ff,#006bff,#0072ff,#007bff,#0087ff,#0094ff,#00a3ff,#00b3ff,#00c5ff,#00d9ff,#00f1ff,#00ffee,#00ffca,#00ffb0,#00ff9c,#00ff8d,#00ff81,#00ff78,#00ff71,#00ff6c,#00ff69,#00ff67,#00ff67,#00ff69,#00ff6c,#00ff71,#00ff76,#00ff7e,#00ff86,#00ff90,#00ff9b)"></i><i style="background:linear-gradient(90deg,#00ffa1,#00ff96,#00ff8c,#00ff83,#00ff7c,#00ff76,#00ff72,#00ff6f,#00ff6d,#00ff6d,#00ff6e,#00ff72,#00ff77,#00ff7d,#00ff87,#00ff93,#00ffa2,#00ffb6,#00ffd0,#00fff5,#00ebff,#00d3ff,#00bfff,#00aeff,#009eff,#008fff,#0081ff,#0075ff,#006bff,#0063ff,#005eff,#005dff,#0061ff,#0067ff,#0071ff,#007dff,#008aff,#0098ff,#00a8ff,#00b9ff,#00ccff,#00e2ff,#00fdff,#00ffdd,#00ffbe,#00ffa9,#00ff98,#00ff8b,#00ff81,#00ff79,#00ff73,#00ff6f,#00ff6d,#00ff6d,#00ff6e,#00ff71,#00ff74,#00ff7a,#00ff80,#00ff88,#00ff92,#00ff9c)"></i><i style="background:linear-gradient(90deg,#00ffa2,#00ff97,#00ff8e,#00ff86,#00ff7f,#00ff7a,#00ff76,#00ff74,#00ff73,#00ff73,#00ff75,#00ff79,#00ff7f,#00ff86,#00ff91,#00ff9e,#00ffaf,#00ffc4,#00ffe3,#00f7ff,#00dcff,#00c6ff,#00b3ff,#00a2ff,#0093ff,#0084ff,#0077ff,#006bff,#0061ff,#0059ff,#0054ff,#0053ff,#0057ff,#005dff,#0067ff,#0073ff,#007fff,#008dff,#009cff,#00adff,#00bfff,#00d3ff,#00ecff,#00fff1,#00ffce,#00ffb6,#00ffa3,#00ff95,#00ff8a,#00ff81,#00ff7b,#00ff76,#00ff74,#00ff72,#00ff73,#00ff75,#00ff78,#00ff7d,#00ff83,#00ff8b,#00ff94,#00ff9e)"></i><i style="background:linear-gradient(90deg,#00ffa3,#00ff99,#00ff90,#00ff89,#00ff83,#00ff7e,#00ff7b,#00ff79,#00ff78,#00ff79,#00ff7c,#00ff80,#00ff87,#00ff90,#00ff9b,#00ffa9,#00ffbc,#00ffd4,#00fff7,#00e6ff,#00ceff,#00b9ff,#00a7ff,#0097ff,#0088ff,#007aff,#006dff,#0061ff,#0057ff,#004fff,#004aff,#004aff,#004dff,#0054ff,#005dff,#0069ff,#0075ff,#0083ff,#0092ff,#00a1ff,#00b3ff,#00c6ff,#00ddff,#00faff,#00ffe0,#00ffc4,#00ffb0,#00ffa0,#00ff93,#00ff8a,#00ff83,#00ff7d,#00ff7a,#00ff78,#00ff78,#00ff7a,#00ff7d,#00ff81,#00ff86,#00ff8d,#00ff96,#00ffa0)"></i><i style="background:linear-gradient(90deg,#00ffa5,#00ff9b,#00ff93,#00ff8c,#00ff86,#00ff82,#00ff7f,#00ff7e,#00ff7e,#00ff80,#00ff83,#00ff88,#00ff90,#00ff99,#00ffa6,#00ffb5,#00ffca,#00ffe6,#00f4ff,#00d7ff,#00c0ff,#00adff,#009cff,#008dff,#007eff,#0070ff,#0063ff,#0058ff,#004dff,#0045ff,#0041ff,#0040ff,#0043ff,#004aff,#0054ff,#005fff,#006cff,#0079ff,#0087ff,#0096ff,#00a7ff,#00b9ff,#00ceff,#00e8ff,#00fff3,#00ffd3,#00ffbc,#00ffab,#00ff9d,#00ff93,#00ff8b,#00ff85,#00ff81,#00ff7e,#00ff7e,#00ff7f,#00ff81,#00ff85,#00ff8a,#00ff90,#00ff98,#00ffa1)"></i><i style="background:linear-gradient(90deg,#00ffa7,#00ff9e,#00ff96,#00ff8f,#00ff8a,#00ff87,#00ff84,#00ff83,#00ff84,#00ff86,#00ff8a,#00ff90,#00ff99,#00ffa3,#00ffb1,#00ffc2,#00ffd9,#00fff9,#00e2ff,#00c8ff,#00b3ff,#00a1ff,#0091ff,#0082ff,#0074ff,#0067ff,#005aff,#004eff,#0044ff,#003cff,#0037ff,#0037ff,#003aff,#0041ff,#004aff,#0056ff,#0062ff,#006fff,#007dff,#008bff,#009bff,#00acff,#00c0ff,#00d8ff,#00f7ff,#00ffe3,#00ffca,#00ffb7,#00ffa8,#00ff9c,#00ff93,#00ff8c,#00ff88,#00ff85,#00ff83,#00ff84,#00ff86,#00ff89,#00ff8d,#00ff93,#00ff9b,#00ffa3)"></i><i style="background:linear-gradient(90deg,#00ffa9,#00ffa0,#00ff99,#00ff93,#00ff8e,#00ff8b,#00ff89,#00ff89,#00ff8a,#00ff8d,#00ff92,#00ff99,#00ffa2,#00ffae,#00ffbc,#00ffd0,#00ffe9,#00f1ff,#00d2ff,#00bbff,#00a7ff,#0096ff,#0086ff,#0078ff,#006aff,#005dff,#0051ff,#0045ff,#003bff,#0033ff,#002eff,#002dff,#0031ff,#0037ff,#0041ff,#004cff,#0058ff,#0065ff,#0073ff,#0081ff,#0090ff,#00a0ff,#00b3ff,#00c9ff,#00e5ff,#00fff5,#00ffd8,#00ffc3,#00ffb3,#00ffa6,#00ff9c,#00ff94,#00ff8f,#00ff8b,#00ff89,#00ff89,#00ff8a,#00ff8d,#00ff91,#00ff97,#00ff9d,#00ffa6)"></i><i style="background:linear-gradient(90deg,#00ffab,#00ffa3,#00ff9c,#00ff97,#00ff93,#00ff90,#00ff8f,#00ff8f,#00ff91,#00ff94,#00ff9a,#00ffa2,#00ffac,#00ffb8,#00ffc9,#00ffde,#00fffb,#00dfff,#00c3ff,#00aeff,#009bff,#008bff,#007cff,#006eff,#0061ff,#0054ff,#0047ff,#003cff,#0032ff,#002aff,#0025ff,#0024ff,#0027ff,#002eff,#0038ff,#0043ff,#004fff,#005cff,#0069ff,#0077ff,#0085ff,#0095ff,#00a6ff,#00bbff,#00d4ff,#00f5ff,#00ffe7,#00ffd0,#00ffbe,#00ffb0,#00ffa5,#00ff9d,#00ff96,#00ff92,#00ff8f,#00ff8f,#00ff8f,#00ff91,#00ff95,#00ff9a,#00ffa0,#00ffa8)"></i><i style="background:linear-gradient(90deg,#00ffae,#00ffa6,#00ffa0,#00ff9b,#00ff97,#00ff95,#00ff94,#00ff95,#00ff98,#00ff9c,#00ffa2,#00ffab,#00ffb6,#00ffc4,#00ffd6,#00ffed,#00efff,#00ceff,#00b5ff,#00a1ff,#0090ff,#0080ff,#0072ff,#0064ff,#0057ff,#004bff,#003eff,#0033ff,#0029ff,#0021ff,#001cff,#001bff,#001eff,#0025ff,#002fff,#003aff,#0046ff,#0053ff,#005fff,#006dff,#007bff,#008aff,#009aff,#00adff,#00c4ff,#00e1ff,#00fff8,#00ffde,#00ffca,#00ffba,#00ffae,#00ffa5,#00ff9e,#00ff99,#00ff96,#00ff94,#00ff95,#00ff96,#00ff99,#00ff9e,#00ffa4,#00ffab)"></i><i style="background:linear-gradient(90deg,#00ffb1,#00ffa9,#00ffa3,#00ff9f,#00ff9c,#00ff9a,#00ff9a,#00ff9c,#00ff9f,#00ffa4,#00ffab,#00ffb4,#00ffc0,#00ffd0,#00ffe3,#00fffe,#00dbff,#00beff,#00a8ff,#0095ff,#0084ff,#0075ff,#0068ff,#005bff,#004eff,#0042ff,#0036ff,#002aff,#0020ff,#0018ff,#0013ff,#0012ff,#0016ff,#001dff,#0026ff,#0031ff,#003dff,#0049ff,#0056ff,#0063ff,#0070ff,#007fff,#008fff,#00a0ff,#00b5ff,#00d0ff,#00f3ff,#00ffec,#00ffd6,#00ffc5,#00ffb8,#00ffae,#00ffa6,#00ffa0,#00ff9d,#00ff9a,#00ff9a,#00ff9b,#00ff9e,#00ffa2,#00ffa7,#00ffae)"></i></div>
<svg width="520" height="391" viewBox="0 0 520 391">
<defs><linearGradient id="cb" x1="0" y1="0" x2="0" y2="1">
<stop offset="0" stop-color="#ff0000"/><stop offset="0.25" stop-color="#ffff00"/><stop offset="0.5" stop-color="#00ff00"/><stop offset="0.75" stop-color="#00ffff"/><stop offset="1" stop-color="#0000ff"/></linearGradient></defs>
<rect x="39.65" y="7.10" width="179.20" height="155.70" fill="none" stroke="#000" stroke-width="1.80"/>
<path d="M48.11 162.80v-1.80M48.11 7.10v1.80M59.53 162.80v-2.60M59.53 7.10v2.60M70.94 162.80v-1.80M70.94 7.10v1.80M82.35 162.80v-2.60M82.35 7.10v2.60M93.76 162.80v-1.80M93.76 7.10v1.80M105.18 162.80v-2.60M105.18 7.10v2.60M116.59 162.80v-1.80M116.59 7.10v1.80M128.00 162.80v-2.60M128.00 7.10v2.60M139.41 162.80v-1.80M139.41 7.10v1.80M150.83 162.80v-2.60M150.83 7.10v2.60M162.24 162.80v-1.80M162.24 7.10v1.80M173.65 162.80v-2.60M173.65 7.10v2.60M185.06 162.80v-1.80M185.06 7.10v1.80M196.48 162.80v-2.60M196.48 7.10v2.60M207.89 162.80v-1.80M207.89 7.10v1.80M39.65 153.09h1.80M218.85 153.09h-1.80M39.65 143.19h2.60M218.85 143.19h-2.60M39.65 133.28h1.80M218.85 133.28h-1.80M39.65 123.38h2.60M218.85 123.38h-2.60M39.65 113.47h1.80M218.85 113.47h-1.80M39.65 103.56h2.60M218.85 103.56h-2.60M39.65 93.66h1.80M218.85 93.66h-1.80M39.65 83.75h2.60M218.85 83.75h-2.60M39.65 73.84h1.80M218.85 73.84h-1.80M39.65 63.94h2.60M218.85 63.94h-2.60M39.65 54.03h1.80M218.85 54.03h-1.80M39.65 44.12h2.60M218.85 44.12h-2.60M39.65 34.22h1.80M218.85 34.22h-1.80M39.65 24.31h2.60M218.85 24.31h-2.60M39.65 14.41h1.80M218.85 14.41h-1.80" stroke="#000" stroke-width="1.20" fill="none"/>
<text class="t" x="37.70" y="176.50" text-anchor="middle">-2.0</text><text class="t" x="81.35" y="176.50" text-anchor="middle">-1.0</text><text class="t" x="128.30" y="176.50" text-anchor="middle">0.0</text><text class="t" x="173.95" y="176.50" text-anchor="middle">1.0</text><text class="t" x="219.60" y="176.50" text-anchor="middle">2.0</text>
<text class="t" x="35.60" y="167.70" text-anchor="end">-2.0</text><text class="t" x="35.60" y="128.07" text-anchor="end">-1.0</text><text class="t" x="35.60" y="88.45" text-anchor="end">0.0</text><text class="t" x="35.60" y="48.83" text-anchor="end">1.0</text><text class="t" x="35.60" y="10.00" text-anchor="end">2.0</text>
<rect x="297.00" y="5.80" width="180.90" height="156.10" fill="none" stroke="#000" stroke-width="1.80"/>
<path d="M308.28 161.90v-1.80M308.28 5.80v1.80M319.76 161.90v-2.60M319.76 5.80v2.60M331.24 161.90v-1.80M331.24 5.80v1.80M342.73 161.90v-2.60M342.73 5.80v2.60M354.21 161.90v-1.80M354.21 5.80v1.80M365.69 161.90v-2.60M365.69 5.80v2.60M377.17 161.90v-1.80M377.17 5.80v1.80M388.65 161.90v-2.60M388.65 5.80v2.60M400.13 161.90v-1.80M400.13 5.80v1.80M411.61 161.90v-2.60M411.61 5.80v2.60M423.09 161.90v-1.80M423.09 5.80v1.80M434.57 161.90v-2.60M434.57 5.80v2.60M446.06 161.90v-1.80M446.06 5.80v1.80M457.54 161.90v-2.60M457.54 5.80v2.60M469.02 161.90v-1.80M469.02 5.80v1.80M297.00 152.08h1.80M477.90 152.08h-1.80M297.00 142.16h2.60M477.90 142.16h-2.60M297.00 132.24h1.80M477.90 132.24h-1.80M297.00 122.32h2.60M477.90 122.32h-2.60M297.00 112.41h1.80M477.90 112.41h-1.80M297.00 102.49h2.60M477.90 102.49h-2.60M297.00 92.57h1.80M477.90 92.57h-1.80M297.00 82.65h2.60M477.90 82.65h-2.60M297.00 72.73h1.80M477.90 72.73h-1.80M297.00 62.81h2.60M477.90 62.81h-2.60M297.00 52.89h1.80M477.90 52.89h-1.80M297.00 42.97h2.60M477.90 42.97h-2.60M297.00 33.06h1.80M477.90 33.06h-1.80M297.00 23.14h2.60M477.90 23.14h-2.60M297.00 13.22h1.80M477.90 13.22h-1.80" stroke="#000" stroke-width="1.20" fill="none"/>
<text class="t" x="297.80" y="177.00" text-anchor="middle">-2.0</text><text class="t" x="341.73" y="177.00" text-anchor="middle">-1.0</text><text class="t" x="388.95" y="177.00" text-anchor="middle">0.0</text><text class="t" x="434.88" y="177.00" text-anchor="middle">1.0</text><text class="t" x="480.80" y="177.00" text-anchor="middle">2.0</text>
<text class="t" x="292.50" y="166.70" text-anchor="end">-2.0</text><text class="t" x="292.50" y="127.02" text-anchor="end">-1.0</text><text class="t" x="292.50" y="87.35" text-anchor="end">0.0</text><text class="t" x="292.50" y="47.67" text-anchor="end">1.0</text><text class="t" x="292.50" y="10.00" text-anchor="end">2.0</text>
<rect x="223.8" y="13.7" width="20.1" height="84.6" fill="url(#cb)"/>
<rect x="482.4" y="12.3" width="20.5" height="88.8" fill="url(#cb)"/>
<text class="cb" x="261.50" y="16.90" text-anchor="end">0.50</text>
<text class="cb" x="261.50" y="38.05" text-anchor="end">0.25</text>
<text class="cb" x="261.50" y="59.20" text-anchor="end">0.00</text>
<text class="cb" x="261.50" y="80.35" text-anchor="end">-0.25</text>
<text class="cb" x="261.50" y="101.50" text-anchor="end">-0.50</text>
<text class="cb" x="520.50" y="14.10" text-anchor="end">0.36</text>
<text class="cb" x="520.50" y="36.30" text-anchor="end">0.31</text>
<text class="cb" x="520.50" y="58.50" text-anchor="end">0.26</text>
<text class="cb" x="520.50" y="80.70" text-anchor="end">0.21</text>
<text class="cb" x="520.50" y="102.90" text-anchor="end">0.16</text>
<text x="52.5" y="27.5" font-size="16" font-weight="bold" stroke-width="0">(a)</text>
<text x="313.5" y="26.5" font-size="16" font-weight="bold" stroke-width="0">(b)</text>
<text x="44" y="222" font-size="16.5" stroke-width=".5">(c)</text>
<text x="311.5" y="224" font-size="16.5" stroke-width=".5">(d)</text>
<text x="128.00" y="191.50" font-size="19" text-anchor="middle" class="it">Δ<tspan font-size="15.0" dy="2">ω</tspan><tspan dy="-2">/λ</tspan><tspan font-size="13.0" dy="2" font-style="normal">so</tspan></text>
<text x="388.00" y="191.50" font-size="19" text-anchor="middle" class="it">Δ<tspan font-size="15.0" dy="2">ω</tspan><tspan dy="-2">/λ</tspan><tspan font-size="13.0" dy="2" font-style="normal">so</tspan></text>
<text x="130.00" y="388.50" font-size="19" text-anchor="middle" class="it">Δ<tspan font-size="15.0" dy="2">ω</tspan><tspan dy="-2">/λ</tspan><tspan font-size="13.0" dy="2" font-style="normal">so</tspan></text>
<text x="389.00" y="388.50" font-size="19" text-anchor="middle" class="it">Δ<tspan font-size="15.0" dy="2">ω</tspan><tspan dy="-2">/λ</tspan><tspan font-size="13.0" dy="2" font-style="normal">so</tspan></text>
<text transform="translate(13.00 83.50) rotate(-90)" font-size="16.3" text-anchor="middle" class="it">E<tspan font-size="10.5" dy="2">z</tspan><tspan dy="-2">l/λ</tspan><tspan font-size="10.5" dy="2" font-style="normal">so</tspan></text>
<text transform="translate(274.50 84.00) rotate(-90)" font-size="16.3" text-anchor="middle" class="it">E<tspan font-size="10.5" dy="2">z</tspan><tspan dy="-2">l/λ</tspan><tspan font-size="10.5" dy="2" font-style="normal">so</tspan></text>
<text transform="translate(13.50 279.00) rotate(-90)" font-size="18" text-anchor="middle" class="it">dN/dΔ<tspan font-size="12.0" dy="2">ω</tspan></text>
<text transform="translate(272.50 280.00) rotate(-90)" font-size="18" text-anchor="middle" class="it">dN/dΔ<tspan font-size="12.0" dy="2">ω</tspan></text>
<clipPath id="cc"><rect x="40.25" y="203.50" width="180.25" height="155.00"/></clipPath>
<clipPath id="cd"><rect x="299.40" y="203.00" width="180.10" height="155.60"/></clipPath>
<line x1="62.78" y1="205.50" x2="62.78" y2="358.50" stroke="#606060" stroke-width="1.6" stroke-dasharray="5.5 4.2"/><line x1="107.84" y1="205.50" x2="107.84" y2="358.50" stroke="#606060" stroke-width="1.6" stroke-dasharray="5.5 4.2"/><line x1="152.91" y1="205.50" x2="152.91" y2="358.50" stroke="#606060" stroke-width="1.6" stroke-dasharray="5.5 4.2"/><line x1="197.97" y1="205.50" x2="197.97" y2="358.50" stroke="#606060" stroke-width="1.6" stroke-dasharray="5.5 4.2"/>
<line x1="344.42" y1="205.00" x2="344.42" y2="358.60" stroke="#606060" stroke-width="1.6" stroke-dasharray="5.5 4.2"/><line x1="434.48" y1="205.00" x2="434.48" y2="358.60" stroke="#606060" stroke-width="1.6" stroke-dasharray="5.5 4.2"/>
<g clip-path="url(#cc)"><polyline points="40.25,287.16 40.50,287.08 40.75,286.99 41.00,286.89 41.25,286.80 41.50,286.71 41.75,286.62 42.00,286.52 42.25,286.42 42.50,286.33 42.75,286.23 43.00,286.13 43.25,286.03 43.50,285.92 43.75,285.82 44.01,285.71 44.26,285.61 44.51,285.50 44.76,285.39 45.01,285.27 45.26,285.16 45.51,285.05 45.76,284.93 46.01,284.81 46.26,284.69 46.51,284.57 46.76,284.44 47.01,284.31 47.26,284.19 47.51,284.06 47.76,283.92 48.01,283.79 48.26,283.65 48.51,283.51 48.76,283.37 49.01,283.22 49.26,283.07 49.51,282.92 49.76,282.77 50.01,282.61 50.26,282.45 50.51,282.29 50.76,282.12 51.01,281.95 51.27,281.78 51.52,281.60 51.77,281.42 52.02,281.24 52.27,281.05 52.52,280.85 52.77,280.65 53.02,280.45 53.27,280.24 53.52,280.03 53.77,279.80 54.02,279.58 54.27,279.34 54.52,279.10 54.77,278.86 55.02,278.60 55.27,278.34 55.52,278.07 55.77,277.78 56.02,277.49 56.27,277.19 56.52,276.88 56.77,276.55 57.02,276.21 57.27,275.86 57.52,275.49 57.77,275.10 58.02,274.70 58.27,274.27 58.53,273.82 58.78,273.35 59.03,272.84 59.28,272.31 59.53,271.74 59.78,271.13 60.03,270.47 60.28,269.76 60.53,268.99 60.78,268.15 61.03,267.23 61.28,266.21 61.53,265.10 61.78,263.87 62.03,262.57 62.28,261.29 62.53,260.27 62.78,259.85 63.03,260.25 63.28,261.26 63.53,262.53 63.78,263.81 64.03,265.02 64.28,266.13 64.53,267.13 64.78,268.03 65.03,268.86 65.28,269.61 65.54,270.31 65.79,270.95 66.04,271.54 66.29,272.10 66.54,272.62 66.79,273.11 67.04,273.56 67.29,274.00 67.54,274.41 67.79,274.80 68.04,275.17 68.29,275.52 68.54,275.86 68.79,276.18 69.04,276.49 69.29,276.79 69.54,277.08 69.79,277.35 70.04,277.62 70.29,277.87 70.54,278.12 70.79,278.36 71.04,278.59 71.29,278.81 71.54,279.03 71.79,279.23 72.04,279.44 72.29,279.63 72.54,279.83 72.80,280.01 73.05,280.19 73.30,280.37 73.55,280.54 73.80,280.70 74.05,280.86 74.30,281.02 74.55,281.18 74.80,281.32 75.05,281.47 75.30,281.61 75.55,281.75 75.80,281.89 76.05,282.02 76.30,282.15 76.55,282.27 76.80,282.39 77.05,282.51 77.30,282.63 77.55,282.74 77.80,282.85 78.05,282.96 78.30,283.07 78.55,283.17 78.80,283.27 79.05,283.37 79.30,283.47 79.55,283.56 79.80,283.65 80.06,283.74 80.31,283.83 80.56,283.92 80.81,284.00 81.06,284.08 81.31,284.16 81.56,284.23 81.81,284.31 82.06,284.38 82.31,284.45 82.56,284.52 82.81,284.59 83.06,284.65 83.31,284.72 83.56,284.78 83.81,284.84 84.06,284.89 84.31,284.95 84.56,285.00 84.81,285.06 85.06,285.11 85.31,285.15 85.56,285.20 85.81,285.25 86.06,285.29 86.31,285.33 86.56,285.37 86.81,285.41 87.06,285.44 87.32,285.48 87.57,285.51 87.82,285.54 88.07,285.57 88.32,285.59 88.57,285.62 88.82,285.64 89.07,285.66 89.32,285.68 89.57,285.69 89.82,285.71 90.07,285.72 90.32,285.73 90.57,285.74 90.82,285.75 91.07,285.75 91.32,285.75 91.57,285.75 91.82,285.75 92.07,285.74 92.32,285.73 92.57,285.72 92.82,285.71 93.07,285.70 93.32,285.68 93.57,285.66 93.82,285.63 94.07,285.61 94.32,285.58 94.58,285.55 94.83,285.51 95.08,285.47 95.33,285.43 95.58,285.38 95.83,285.34 96.08,285.28 96.33,285.23 96.58,285.17 96.83,285.10 97.08,285.03 97.33,284.96 97.58,284.88 97.83,284.80 98.08,284.71 98.33,284.62 98.58,284.52 98.83,284.41 99.08,284.30 99.33,284.18 99.58,284.06 99.83,283.93 100.08,283.79 100.33,283.64 100.58,283.48 100.83,283.32 101.08,283.14 101.33,282.95 101.59,282.76 101.84,282.55 102.09,282.32 102.34,282.08 102.59,281.83 102.84,281.56 103.09,281.27 103.34,280.96 103.59,280.63 103.84,280.27 104.09,279.88 104.34,279.46 104.59,279.01 104.84,278.52 105.09,277.98 105.34,277.38 105.59,276.73 105.84,276.01 106.09,275.20 106.34,274.30 106.59,273.30 106.84,272.20 107.09,271.02 107.34,269.85 107.59,268.95 107.84,268.65 108.09,269.17 108.34,270.30 108.59,271.68 108.85,273.09 109.10,274.41 109.35,275.64 109.60,276.76 109.85,277.79 110.10,278.73 110.35,279.61 110.60,280.42 110.85,281.19 111.10,281.91 111.35,282.58 111.60,283.22 111.85,283.83 112.10,284.42 112.35,284.97 112.60,285.51 112.85,286.02 113.10,286.52 113.35,287.00 113.60,287.46 113.85,287.91 114.10,288.35 114.35,288.77 114.60,289.18 114.85,289.59 115.10,289.98 115.35,290.37 115.60,290.74 115.85,291.11 116.11,291.47 116.36,291.82 116.61,292.17 116.86,292.51 117.11,292.85 117.36,293.18 117.61,293.50 117.86,293.82 118.11,294.14 118.36,294.45 118.61,294.76 118.86,295.06 119.11,295.36 119.36,295.65 119.61,295.95 119.86,296.23 120.11,296.52 120.36,296.80 120.61,297.08 120.86,297.36 121.11,297.64 121.36,297.91 121.61,298.18 121.86,298.45 122.11,298.72 122.36,298.98 122.61,299.24 122.86,299.50 123.11,299.76 123.37,300.02 123.62,300.28 123.87,300.53 124.12,300.78 124.37,301.03 124.62,301.29 124.87,301.53 125.12,301.78 125.37,302.03 125.62,302.28 125.87,302.52 126.12,302.77 126.37,303.01 126.62,303.25 126.87,303.49 127.12,303.73 127.37,303.98 127.62,304.22 127.87,304.46 128.12,304.69 128.37,304.93 128.62,305.17 128.87,305.41 129.12,305.65 129.37,305.88 129.62,306.12 129.87,306.36 130.12,306.60 130.38,306.83 130.63,307.07 130.88,307.31 131.13,307.54 131.38,307.78 131.63,308.02 131.88,308.26 132.13,308.50 132.38,308.73 132.63,308.97 132.88,309.21 133.13,309.45 133.38,309.69 133.63,309.93 133.88,310.17 134.13,310.42 134.38,310.66 134.63,310.90 134.88,311.15 135.13,311.39 135.38,311.64 135.63,311.88 135.88,312.13 136.13,312.38 136.38,312.63 136.63,312.88 136.88,313.14 137.13,313.39 137.38,313.65 137.64,313.90 137.89,314.16 138.14,314.42 138.39,314.69 138.64,314.95 138.89,315.22 139.14,315.49 139.39,315.76 139.64,316.03 139.89,316.30 140.14,316.58 140.39,316.86 140.64,317.15 140.89,317.43 141.14,317.72 141.39,318.01 141.64,318.31 141.89,318.61 142.14,318.91 142.39,319.22 142.64,319.53 142.89,319.84 143.14,320.16 143.39,320.49 143.64,320.82 143.89,321.15 144.14,321.50 144.39,321.84 144.64,322.20 144.90,322.56 145.15,322.93 145.40,323.30 145.65,323.69 145.90,324.08 146.15,324.48 146.40,324.90 146.65,325.32 146.90,325.76 147.15,326.21 147.40,326.67 147.65,327.15 147.90,327.64 148.15,328.16 148.40,328.69 148.65,329.25 148.90,329.83 149.15,330.44 149.40,331.08 149.65,331.76 149.90,332.48 150.15,333.24 150.40,334.06 150.65,334.93 150.90,335.88 151.15,336.91 151.40,338.03 151.65,339.25 151.90,340.58 152.16,341.98 152.41,343.37 152.66,344.50 152.91,345.01 153.16,344.72 153.41,343.81 153.66,342.65 153.91,341.47 154.16,340.36 154.41,339.36 154.66,338.47 154.91,337.66 155.16,336.94 155.41,336.28 155.66,335.69 155.91,335.15 156.16,334.66 156.41,334.20 156.66,333.79 156.91,333.40 157.16,333.04 157.41,332.71 157.66,332.40 157.91,332.11 158.16,331.84 158.41,331.58 158.66,331.34 158.91,331.12 159.16,330.91 159.42,330.71 159.67,330.53 159.92,330.35 160.17,330.18 160.42,330.03 160.67,329.88 160.92,329.74 161.17,329.61 161.42,329.48 161.67,329.37 161.92,329.25 162.17,329.15 162.42,329.05 162.67,328.96 162.92,328.87 163.17,328.79 163.42,328.71 163.67,328.63 163.92,328.57 164.17,328.50 164.42,328.44 164.67,328.38 164.92,328.33 165.17,328.28 165.42,328.24 165.67,328.19 165.92,328.16 166.17,328.12 166.43,328.09 166.68,328.06 166.93,328.03 167.18,328.01 167.43,327.99 167.68,327.97 167.93,327.96 168.18,327.94 168.43,327.93 168.68,327.92 168.93,327.92 169.18,327.92 169.43,327.92 169.68,327.92 169.93,327.92 170.18,327.93 170.43,327.94 170.68,327.95 170.93,327.96 171.18,327.97 171.43,327.99 171.68,328.01 171.93,328.03 172.18,328.05 172.43,328.07 172.68,328.10 172.93,328.13 173.18,328.16 173.43,328.19 173.69,328.22 173.94,328.26 174.19,328.30 174.44,328.34 174.69,328.38 174.94,328.42 175.19,328.47 175.44,328.51 175.69,328.56 175.94,328.61 176.19,328.66 176.44,328.72 176.69,328.77 176.94,328.83 177.19,328.89 177.44,328.95 177.69,329.01 177.94,329.08 178.19,329.15 178.44,329.21 178.69,329.28 178.94,329.36 179.19,329.43 179.44,329.51 179.69,329.59 179.94,329.67 180.19,329.75 180.44,329.84 180.69,329.92 180.95,330.01 181.20,330.10 181.45,330.20 181.70,330.29 181.95,330.39 182.20,330.49 182.45,330.60 182.70,330.70 182.95,330.81 183.20,330.92 183.45,331.04 183.70,331.15 183.95,331.27 184.20,331.40 184.45,331.52 184.70,331.65 184.95,331.78 185.20,331.92 185.45,332.05 185.70,332.20 185.95,332.34 186.20,332.49 186.45,332.64 186.70,332.80 186.95,332.96 187.20,333.13 187.45,333.30 187.70,333.48 187.95,333.66 188.21,333.84 188.46,334.03 188.71,334.23 188.96,334.43 189.21,334.64 189.46,334.86 189.71,335.08 189.96,335.31 190.21,335.55 190.46,335.79 190.71,336.05 190.96,336.31 191.21,336.59 191.46,336.87 191.71,337.17 191.96,337.48 192.21,337.81 192.46,338.14 192.71,338.50 192.96,338.87 193.21,339.26 193.46,339.67 193.71,340.10 193.96,340.56 194.21,341.05 194.46,341.57 194.71,342.12 194.96,342.72 195.21,343.36 195.47,344.05 195.72,344.81 195.97,345.63 196.22,346.54 196.47,347.54 196.72,348.64 196.97,349.85 197.22,351.14 197.47,352.40 197.72,353.41 197.97,353.81 198.22,353.40 198.47,352.37 198.72,351.09 198.97,349.79 199.22,348.57 199.47,347.45 199.72,346.44 199.97,345.51 200.22,344.67 200.47,343.90 200.72,343.19 200.97,342.54 201.22,341.93 201.47,341.36 201.72,340.82 201.97,340.32 202.22,339.85 202.47,339.40 202.73,338.97 202.98,338.57 203.23,338.18 203.48,337.81 203.73,337.46 203.98,337.12 204.23,336.79 204.48,336.48 204.73,336.17 204.98,335.88 205.23,335.60 205.48,335.33 205.73,335.07 205.98,334.81 206.23,334.56 206.48,334.32 206.73,334.09 206.98,333.86 207.23,333.64 207.48,333.43 207.73,333.22 207.98,333.01 208.23,332.81 208.48,332.62 208.73,332.43 208.98,332.24 209.23,332.06 209.48,331.89 209.74,331.71 209.99,331.54 210.24,331.38 210.49,331.21 210.74,331.05 210.99,330.90 211.24,330.74 211.49,330.59 211.74,330.44 211.99,330.30 212.24,330.16 212.49,330.02 212.74,329.88 212.99,329.74 213.24,329.61 213.49,329.48 213.74,329.35 213.99,329.23 214.24,329.10 214.49,328.98 214.74,328.86 214.99,328.74 215.24,328.62 215.49,328.51 215.74,328.39 215.99,328.28 216.24,328.17 216.49,328.06 216.74,327.95 217.00,327.85 217.25,327.74 217.50,327.64 217.75,327.54 218.00,327.44 218.25,327.34 218.50,327.24 218.75,327.15 219.00,327.05 219.25,326.96 219.50,326.86 219.75,326.77 220.00,326.68 220.25,326.59 220.50,326.50" fill="none" stroke="#e0101c" stroke-width="2.10" stroke-linejoin="round" stroke-dasharray="6 4"/><polyline points="40.25,261.46 40.50,261.31 40.75,261.16 41.00,261.01 41.25,260.86 41.50,260.70 41.75,260.55 42.00,260.39 42.25,260.23 42.50,260.07 42.75,259.91 43.00,259.75 43.25,259.59 43.50,259.42 43.75,259.25 44.01,259.08 44.26,258.91 44.51,258.74 44.76,258.57 45.01,258.39 45.26,258.22 45.51,258.04 45.76,257.86 46.01,257.68 46.26,257.49 46.51,257.31 46.76,257.12 47.01,256.93 47.26,256.73 47.51,256.54 47.76,256.34 48.01,256.14 48.26,255.94 48.51,255.74 48.76,255.53 49.01,255.32 49.26,255.10 49.51,254.89 49.76,254.67 50.01,254.45 50.26,254.22 50.51,253.99 50.76,253.76 51.01,253.53 51.27,253.29 51.52,253.04 51.77,252.80 52.02,252.55 52.27,252.29 52.52,252.03 52.77,251.76 53.02,251.49 53.27,251.22 53.52,250.94 53.77,250.65 54.02,250.36 54.27,250.06 54.52,249.75 54.77,249.44 55.02,249.11 55.27,248.78 55.52,248.45 55.77,248.10 56.02,247.74 56.27,247.37 56.52,247.00 56.77,246.61 57.02,246.20 57.27,245.79 57.52,245.35 57.77,244.91 58.02,244.44 58.27,243.96 58.53,243.45 58.78,242.92 59.03,242.37 59.28,241.79 59.53,241.18 59.78,240.53 60.03,239.85 60.28,239.13 60.53,238.36 60.78,237.55 61.03,236.68 61.28,235.77 61.53,234.82 61.78,233.85 62.03,232.91 62.28,232.08 62.53,231.47 62.78,231.19 63.03,231.31 63.28,231.75 63.53,232.42 63.78,233.20 64.03,234.00 64.28,234.79 64.53,235.54 64.78,236.24 65.03,236.89 65.28,237.50 65.54,238.05 65.79,238.57 66.04,239.05 66.29,239.50 66.54,239.92 66.79,240.31 67.04,240.67 67.29,241.01 67.54,241.33 67.79,241.64 68.04,241.92 68.29,242.19 68.54,242.44 68.79,242.68 69.04,242.90 69.29,243.12 69.54,243.32 69.79,243.51 70.04,243.69 70.29,243.86 70.54,244.03 70.79,244.18 71.04,244.33 71.29,244.47 71.54,244.60 71.79,244.73 72.04,244.85 72.29,244.96 72.54,245.07 72.80,245.17 73.05,245.27 73.30,245.36 73.55,245.45 73.80,245.53 74.05,245.61 74.30,245.68 74.55,245.75 74.80,245.81 75.05,245.87 75.30,245.93 75.55,245.98 75.80,246.03 76.05,246.08 76.30,246.12 76.55,246.16 76.80,246.20 77.05,246.23 77.30,246.26 77.55,246.29 77.80,246.31 78.05,246.34 78.30,246.35 78.55,246.37 78.80,246.38 79.05,246.39 79.30,246.40 79.55,246.41 79.80,246.41 80.06,246.41 80.31,246.41 80.56,246.40 80.81,246.40 81.06,246.39 81.31,246.37 81.56,246.36 81.81,246.34 82.06,246.33 82.31,246.31 82.56,246.28 82.81,246.26 83.06,246.23 83.31,246.20 83.56,246.17 83.81,246.14 84.06,246.10 84.31,246.06 84.56,246.02 84.81,245.98 85.06,245.94 85.31,245.89 85.56,245.84 85.81,245.79 86.06,245.74 86.31,245.68 86.56,245.63 86.81,245.57 87.06,245.50 87.32,245.44 87.57,245.38 87.82,245.31 88.07,245.24 88.32,245.17 88.57,245.09 88.82,245.01 89.07,244.94 89.32,244.85 89.57,244.77 89.82,244.69 90.07,244.60 90.32,244.51 90.57,244.41 90.82,244.32 91.07,244.22 91.32,244.12 91.57,244.02 91.82,243.91 92.07,243.80 92.32,243.69 92.57,243.58 92.82,243.46 93.07,243.34 93.32,243.22 93.57,243.09 93.82,242.96 94.07,242.83 94.32,242.69 94.58,242.55 94.83,242.41 95.08,242.26 95.33,242.11 95.58,241.96 95.83,241.80 96.08,241.64 96.33,241.48 96.58,241.31 96.83,241.13 97.08,240.95 97.33,240.77 97.58,240.58 97.83,240.38 98.08,240.19 98.33,239.98 98.58,239.77 98.83,239.55 99.08,239.33 99.33,239.10 99.58,238.86 99.83,238.61 100.08,238.36 100.33,238.10 100.58,237.83 100.83,237.55 101.08,237.25 101.33,236.95 101.59,236.64 101.84,236.32 102.09,235.98 102.34,235.63 102.59,235.26 102.84,234.88 103.09,234.47 103.34,234.05 103.59,233.61 103.84,233.15 104.09,232.66 104.34,232.14 104.59,231.59 104.84,231.01 105.09,230.39 105.34,229.73 105.59,229.02 105.84,228.27 106.09,227.46 106.34,226.61 106.59,225.72 106.84,224.82 107.09,223.94 107.34,223.16 107.59,222.61 107.84,222.40 108.09,222.57 108.34,223.08 108.59,223.80 108.85,224.64 109.10,225.50 109.35,226.35 109.60,227.15 109.85,227.91 110.10,228.62 110.35,229.28 110.60,229.90 110.85,230.47 111.10,231.01 111.35,231.52 111.60,231.99 111.85,232.44 112.10,232.86 112.35,233.25 112.60,233.63 112.85,233.99 113.10,234.32 113.35,234.65 113.60,234.95 113.85,235.25 114.10,235.53 114.35,235.80 114.60,236.05 114.85,236.30 115.10,236.53 115.35,236.76 115.60,236.98 115.85,237.18 116.11,237.39 116.36,237.58 116.61,237.76 116.86,237.94 117.11,238.12 117.36,238.28 117.61,238.44 117.86,238.60 118.11,238.75 118.36,238.89 118.61,239.03 118.86,239.16 119.11,239.29 119.36,239.42 119.61,239.54 119.86,239.66 120.11,239.77 120.36,239.88 120.61,239.98 120.86,240.08 121.11,240.18 121.36,240.27 121.61,240.36 121.86,240.45 122.11,240.53 122.36,240.61 122.61,240.69 122.86,240.76 123.11,240.84 123.37,240.90 123.62,240.97 123.87,241.03 124.12,241.09 124.37,241.15 124.62,241.20 124.87,241.26 125.12,241.31 125.37,241.35 125.62,241.40 125.87,241.44 126.12,241.48 126.37,241.52 126.62,241.55 126.87,241.58 127.12,241.61 127.37,241.64 127.62,241.67 127.87,241.69 128.12,241.71 128.37,241.73 128.62,241.75 128.87,241.76 129.12,241.77 129.37,241.78 129.62,241.79 129.87,241.79 130.12,241.80 130.38,241.80 130.63,241.80 130.88,241.79 131.13,241.79 131.38,241.78 131.63,241.77 131.88,241.76 132.13,241.75 132.38,241.73 132.63,241.71 132.88,241.69 133.13,241.67 133.38,241.64 133.63,241.61 133.88,241.58 134.13,241.55 134.38,241.52 134.63,241.48 134.88,241.44 135.13,241.40 135.38,241.35 135.63,241.31 135.88,241.26 136.13,241.20 136.38,241.15 136.63,241.09 136.88,241.03 137.13,240.97 137.38,240.90 137.64,240.84 137.89,240.76 138.14,240.69 138.39,240.61 138.64,240.53 138.89,240.45 139.14,240.36 139.39,240.27 139.64,240.18 139.89,240.08 140.14,239.98 140.39,239.88 140.64,239.77 140.89,239.66 141.14,239.54 141.39,239.42 141.64,239.29 141.89,239.16 142.14,239.03 142.39,238.89 142.64,238.75 142.89,238.60 143.14,238.44 143.39,238.28 143.64,238.12 143.89,237.94 144.14,237.76 144.39,237.58 144.64,237.39 144.90,237.18 145.15,236.98 145.40,236.76 145.65,236.53 145.90,236.30 146.15,236.05 146.40,235.80 146.65,235.53 146.90,235.25 147.15,234.95 147.40,234.65 147.65,234.32 147.90,233.99 148.15,233.63 148.40,233.25 148.65,232.86 148.90,232.44 149.15,231.99 149.40,231.52 149.65,231.01 149.90,230.47 150.15,229.90 150.40,229.28 150.65,228.62 150.90,227.91 151.15,227.15 151.40,226.35 151.65,225.50 151.90,224.64 152.16,223.80 152.41,223.08 152.66,222.57 152.91,222.40 153.16,222.61 153.41,223.16 153.66,223.94 153.91,224.82 154.16,225.72 154.41,226.61 154.66,227.46 154.91,228.27 155.16,229.02 155.41,229.73 155.66,230.39 155.91,231.01 156.16,231.59 156.41,232.14 156.66,232.66 156.91,233.15 157.16,233.61 157.41,234.05 157.66,234.47 157.91,234.88 158.16,235.26 158.41,235.63 158.66,235.98 158.91,236.32 159.16,236.64 159.42,236.95 159.67,237.25 159.92,237.55 160.17,237.83 160.42,238.10 160.67,238.36 160.92,238.61 161.17,238.86 161.42,239.10 161.67,239.33 161.92,239.55 162.17,239.77 162.42,239.98 162.67,240.19 162.92,240.38 163.17,240.58 163.42,240.77 163.67,240.95 163.92,241.13 164.17,241.31 164.42,241.48 164.67,241.64 164.92,241.80 165.17,241.96 165.42,242.11 165.67,242.26 165.92,242.41 166.17,242.55 166.43,242.69 166.68,242.83 166.93,242.96 167.18,243.09 167.43,243.22 167.68,243.34 167.93,243.46 168.18,243.58 168.43,243.69 168.68,243.80 168.93,243.91 169.18,244.02 169.43,244.12 169.68,244.22 169.93,244.32 170.18,244.41 170.43,244.51 170.68,244.60 170.93,244.69 171.18,244.77 171.43,244.85 171.68,244.94 171.93,245.01 172.18,245.09 172.43,245.17 172.68,245.24 172.93,245.31 173.18,245.38 173.43,245.44 173.69,245.50 173.94,245.57 174.19,245.63 174.44,245.68 174.69,245.74 174.94,245.79 175.19,245.84 175.44,245.89 175.69,245.94 175.94,245.98 176.19,246.02 176.44,246.06 176.69,246.10 176.94,246.14 177.19,246.17 177.44,246.20 177.69,246.23 177.94,246.26 178.19,246.28 178.44,246.31 178.69,246.33 178.94,246.34 179.19,246.36 179.44,246.37 179.69,246.39 179.94,246.40 180.19,246.40 180.44,246.41 180.69,246.41 180.95,246.41 181.20,246.41 181.45,246.40 181.70,246.39 181.95,246.38 182.20,246.37 182.45,246.35 182.70,246.34 182.95,246.31 183.20,246.29 183.45,246.26 183.70,246.23 183.95,246.20 184.20,246.16 184.45,246.12 184.70,246.08 184.95,246.03 185.20,245.98 185.45,245.93 185.70,245.87 185.95,245.81 186.20,245.75 186.45,245.68 186.70,245.61 186.95,245.53 187.20,245.45 187.45,245.36 187.70,245.27 187.95,245.17 188.21,245.07 188.46,244.96 188.71,244.85 188.96,244.73 189.21,244.60 189.46,244.47 189.71,244.33 189.96,244.18 190.21,244.03 190.46,243.86 190.71,243.69 190.96,243.51 191.21,243.32 191.46,243.12 191.71,242.90 191.96,242.68 192.21,242.44 192.46,242.19 192.71,241.92 192.96,241.64 193.21,241.33 193.46,241.01 193.71,240.67 193.96,240.31 194.21,239.92 194.46,239.50 194.71,239.05 194.96,238.57 195.21,238.05 195.47,237.50 195.72,236.89 195.97,236.24 196.22,235.54 196.47,234.79 196.72,234.00 196.97,233.20 197.22,232.42 197.47,231.75 197.72,231.31 197.97,231.19 198.22,231.47 198.47,232.08 198.72,232.91 198.97,233.85 199.22,234.82 199.47,235.77 199.72,236.68 199.97,237.55 200.22,238.36 200.47,239.13 200.72,239.85 200.97,240.53 201.22,241.18 201.47,241.79 201.72,242.37 201.97,242.92 202.22,243.45 202.47,243.96 202.73,244.44 202.98,244.91 203.23,245.35 203.48,245.79 203.73,246.20 203.98,246.61 204.23,247.00 204.48,247.37 204.73,247.74 204.98,248.10 205.23,248.45 205.48,248.78 205.73,249.11 205.98,249.44 206.23,249.75 206.48,250.06 206.73,250.36 206.98,250.65 207.23,250.94 207.48,251.22 207.73,251.49 207.98,251.76 208.23,252.03 208.48,252.29 208.73,252.55 208.98,252.80 209.23,253.04 209.48,253.29 209.74,253.53 209.99,253.76 210.24,253.99 210.49,254.22 210.74,254.45 210.99,254.67 211.24,254.89 211.49,255.10 211.74,255.32 211.99,255.53 212.24,255.74 212.49,255.94 212.74,256.14 212.99,256.34 213.24,256.54 213.49,256.73 213.74,256.93 213.99,257.12 214.24,257.31 214.49,257.49 214.74,257.68 214.99,257.86 215.24,258.04 215.49,258.22 215.74,258.39 215.99,258.57 216.24,258.74 216.49,258.91 216.74,259.08 217.00,259.25 217.25,259.42 217.50,259.59 217.75,259.75 218.00,259.91 218.25,260.07 218.50,260.23 218.75,260.39 219.00,260.55 219.25,260.70 219.50,260.86 219.75,261.01 220.00,261.16 220.25,261.31 220.50,261.46" fill="none" stroke="#000" stroke-width="2.30" stroke-linejoin="round"/></g>
<g clip-path="url(#cd)"><polyline points="299.40,291.43 299.65,291.53 299.90,291.63 300.15,291.73 300.40,291.83 300.65,291.93 300.90,292.03 301.15,292.13 301.40,292.23 301.65,292.33 301.90,292.43 302.15,292.53 302.40,292.63 302.65,292.73 302.90,292.83 303.15,292.93 303.40,293.03 303.65,293.13 303.90,293.24 304.15,293.34 304.40,293.44 304.65,293.54 304.90,293.64 305.15,293.74 305.40,293.84 305.65,293.94 305.90,294.04 306.15,294.15 306.40,294.25 306.65,294.35 306.90,294.45 307.15,294.56 307.40,294.66 307.65,294.76 307.90,294.86 308.15,294.97 308.40,295.07 308.66,295.17 308.91,295.28 309.16,295.38 309.41,295.49 309.66,295.59 309.91,295.70 310.16,295.80 310.41,295.91 310.66,296.01 310.91,296.12 311.16,296.23 311.41,296.33 311.66,296.44 311.91,296.55 312.16,296.66 312.41,296.76 312.66,296.87 312.91,296.98 313.16,297.09 313.41,297.20 313.66,297.31 313.91,297.42 314.16,297.53 314.41,297.65 314.66,297.76 314.91,297.87 315.16,297.98 315.41,298.10 315.66,298.21 315.91,298.33 316.16,298.44 316.41,298.56 316.66,298.67 316.91,298.79 317.16,298.91 317.41,299.03 317.66,299.15 317.91,299.27 318.16,299.39 318.41,299.51 318.66,299.63 318.91,299.75 319.16,299.87 319.41,300.00 319.66,300.12 319.91,300.25 320.16,300.37 320.41,300.50 320.66,300.63 320.91,300.76 321.16,300.89 321.41,301.02 321.66,301.15 321.91,301.28 322.16,301.42 322.41,301.55 322.66,301.69 322.91,301.82 323.16,301.96 323.41,302.10 323.66,302.24 323.91,302.38 324.16,302.53 324.41,302.67 324.66,302.82 324.91,302.96 325.16,303.11 325.41,303.26 325.66,303.41 325.91,303.57 326.16,303.72 326.41,303.88 326.67,304.04 326.92,304.20 327.17,304.36 327.42,304.52 327.67,304.69 327.92,304.85 328.17,305.02 328.42,305.19 328.67,305.37 328.92,305.54 329.17,305.72 329.42,305.90 329.67,306.09 329.92,306.27 330.17,306.46 330.42,306.65 330.67,306.85 330.92,307.04 331.17,307.24 331.42,307.45 331.67,307.65 331.92,307.86 332.17,308.08 332.42,308.30 332.67,308.52 332.92,308.74 333.17,308.98 333.42,309.21 333.67,309.45 333.92,309.70 334.17,309.95 334.42,310.20 334.67,310.46 334.92,310.73 335.17,311.00 335.42,311.28 335.67,311.57 335.92,311.87 336.17,312.17 336.42,312.48 336.67,312.80 336.92,313.14 337.17,313.48 337.42,313.83 337.67,314.19 337.92,314.57 338.17,314.96 338.42,315.36 338.67,315.78 338.92,316.22 339.17,316.68 339.42,317.15 339.67,317.65 339.92,318.17 340.17,318.73 340.42,319.31 340.67,319.92 340.92,320.57 341.17,321.27 341.42,322.01 341.67,322.81 341.92,323.67 342.17,324.61 342.42,325.63 342.67,326.75 342.92,327.97 343.17,329.33 343.42,330.81 343.67,332.38 343.92,333.93 344.17,335.17 344.42,335.67 344.68,335.19 344.93,333.98 345.18,332.46 345.43,330.91 345.68,329.46 345.93,328.14 346.18,326.93 346.43,325.84 346.68,324.85 346.93,323.94 347.18,323.11 347.43,322.33 347.68,321.62 347.93,320.95 348.18,320.32 348.43,319.73 348.68,319.18 348.93,318.66 349.18,318.16 349.43,317.69 349.68,317.24 349.93,316.81 350.18,316.40 350.43,316.01 350.68,315.63 350.93,315.26 351.18,314.92 351.43,314.58 351.68,314.25 351.93,313.94 352.18,313.64 352.43,313.34 352.68,313.06 352.93,312.78 353.18,312.51 353.43,312.25 353.68,312.00 353.93,311.75 354.18,311.51 354.43,311.27 354.68,311.05 354.93,310.82 355.18,310.60 355.43,310.39 355.68,310.18 355.93,309.98 356.18,309.78 356.43,309.58 356.68,309.39 356.93,309.21 357.18,309.02 357.43,308.84 357.68,308.67 357.93,308.49 358.18,308.32 358.43,308.16 358.68,307.99 358.93,307.83 359.18,307.67 359.43,307.51 359.68,307.36 359.93,307.21 360.18,307.06 360.43,306.91 360.68,306.77 360.93,306.63 361.18,306.49 361.43,306.35 361.68,306.21 361.93,306.08 362.18,305.95 362.44,305.81 362.69,305.69 362.94,305.56 363.19,305.43 363.44,305.31 363.69,305.18 363.94,305.06 364.19,304.94 364.44,304.82 364.69,304.71 364.94,304.59 365.19,304.48 365.44,304.36 365.69,304.25 365.94,304.14 366.19,304.03 366.44,303.92 366.69,303.81 366.94,303.71 367.19,303.60 367.44,303.50 367.69,303.39 367.94,303.29 368.19,303.19 368.44,303.09 368.69,302.99 368.94,302.89 369.19,302.79 369.44,302.69 369.69,302.60 369.94,302.50 370.19,302.41 370.44,302.31 370.69,302.22 370.94,302.13 371.19,302.03 371.44,301.94 371.69,301.85 371.94,301.76 372.19,301.67 372.44,301.58 372.69,301.50 372.94,301.41 373.19,301.32 373.44,301.23 373.69,301.15 373.94,301.06 374.19,300.98 374.44,300.89 374.69,300.81 374.94,300.72 375.19,300.64 375.44,300.56 375.69,300.48 375.94,300.39 376.19,300.31 376.44,300.23 376.69,300.15 376.94,300.07 377.19,299.99 377.44,299.91 377.69,299.83 377.94,299.75 378.19,299.67 378.44,299.60 378.69,299.52 378.94,299.44 379.19,299.36 379.44,299.29 379.69,299.21 379.94,299.13 380.19,299.06 380.44,298.98 380.70,298.91 380.95,298.83 381.20,298.76 381.45,298.68 381.70,298.61 381.95,298.53 382.20,298.46 382.45,298.38 382.70,298.31 382.95,298.24 383.20,298.16 383.45,298.09 383.70,298.02 383.95,297.94 384.20,297.87 384.45,297.80 384.70,297.72 384.95,297.65 385.20,297.58 385.45,297.51 385.70,297.44 385.95,297.36 386.20,297.29 386.45,297.22 386.70,297.15 386.95,297.08 387.20,297.00 387.45,296.93 387.70,296.86 387.95,296.79 388.20,296.72 388.45,296.65 388.70,296.57 388.95,296.50 389.20,296.43 389.45,296.36 389.70,296.29 389.95,296.22 390.20,296.15 390.45,296.07 390.70,296.00 390.95,295.93 391.20,295.86 391.45,295.79 391.70,295.72 391.95,295.64 392.20,295.57 392.45,295.50 392.70,295.43 392.95,295.36 393.20,295.28 393.45,295.21 393.70,295.14 393.95,295.07 394.20,295.00 394.45,294.92 394.70,294.85 394.95,294.78 395.20,294.70 395.45,294.63 395.70,294.56 395.95,294.48 396.20,294.41 396.45,294.34 396.70,294.26 396.95,294.19 397.20,294.11 397.45,294.04 397.70,293.96 397.95,293.89 398.20,293.81 398.45,293.74 398.71,293.66 398.96,293.59 399.21,293.51 399.46,293.43 399.71,293.36 399.96,293.28 400.21,293.20 400.46,293.12 400.71,293.05 400.96,292.97 401.21,292.89 401.46,292.81 401.71,292.73 401.96,292.65 402.21,292.57 402.46,292.49 402.71,292.41 402.96,292.33 403.21,292.24 403.46,292.16 403.71,292.08 403.96,292.00 404.21,291.91 404.46,291.83 404.71,291.74 404.96,291.66 405.21,291.57 405.46,291.49 405.71,291.40 405.96,291.31 406.21,291.22 406.46,291.14 406.71,291.05 406.96,290.96 407.21,290.87 407.46,290.78 407.71,290.69 407.96,290.59 408.21,290.50 408.46,290.41 408.71,290.31 408.96,290.22 409.21,290.12 409.46,290.03 409.71,289.93 409.96,289.83 410.21,289.73 410.46,289.63 410.71,289.53 410.96,289.43 411.21,289.33 411.46,289.22 411.71,289.12 411.96,289.01 412.21,288.91 412.46,288.80 412.71,288.69 412.96,288.58 413.21,288.47 413.46,288.36 413.71,288.24 413.96,288.13 414.21,288.01 414.46,287.90 414.71,287.78 414.96,287.66 415.21,287.54 415.46,287.41 415.71,287.29 415.96,287.16 416.21,287.03 416.46,286.91 416.72,286.77 416.97,286.64 417.22,286.51 417.47,286.37 417.72,286.23 417.97,286.09 418.22,285.95 418.47,285.81 418.72,285.66 418.97,285.51 419.22,285.36 419.47,285.21 419.72,285.05 419.97,284.89 420.22,284.73 420.47,284.56 420.72,284.40 420.97,284.23 421.22,284.05 421.47,283.88 421.72,283.70 421.97,283.51 422.22,283.33 422.47,283.14 422.72,282.94 422.97,282.74 423.22,282.54 423.47,282.33 423.72,282.12 423.97,281.90 424.22,281.67 424.47,281.45 424.72,281.21 424.97,280.97 425.22,280.72 425.47,280.47 425.72,280.21 425.97,279.94 426.22,279.66 426.47,279.38 426.72,279.08 426.97,278.78 427.22,278.47 427.47,278.14 427.72,277.80 427.97,277.46 428.22,277.09 428.47,276.71 428.72,276.32 428.97,275.91 429.22,275.48 429.47,275.03 429.72,274.56 429.97,274.06 430.22,273.54 430.47,272.99 430.72,272.40 430.97,271.77 431.22,271.10 431.47,270.39 431.72,269.61 431.97,268.78 432.22,267.87 432.47,266.88 432.72,265.79 432.97,264.58 433.22,263.26 433.47,261.81 433.72,260.26 433.97,258.74 434.22,257.53 434.48,257.05 434.73,257.55 434.98,258.79 435.23,260.34 435.48,261.91 435.73,263.39 435.98,264.75 436.23,265.97 436.48,267.09 436.73,268.11 436.98,269.05 437.23,269.91 437.48,270.71 437.73,271.45 437.98,272.15 438.23,272.80 438.48,273.41 438.73,273.99 438.98,274.55 439.23,275.07 439.48,275.57 439.73,276.04 439.98,276.50 440.23,276.94 440.48,277.36 440.73,277.76 440.98,278.15 441.23,278.53 441.48,278.89 441.73,279.24 441.98,279.58 442.23,279.92 442.48,280.24 442.73,280.55 442.98,280.85 443.23,281.15 443.48,281.44 443.73,281.72 443.98,281.99 444.23,282.26 444.48,282.52 444.73,282.77 444.98,283.02 445.23,283.27 445.48,283.51 445.73,283.74 445.98,283.98 446.23,284.20 446.48,284.42 446.73,284.64 446.98,284.86 447.23,285.07 447.48,285.27 447.73,285.48 447.98,285.68 448.23,285.87 448.48,286.07 448.73,286.26 448.98,286.45 449.23,286.63 449.48,286.82 449.73,287.00 449.98,287.18 450.23,287.35 450.48,287.53 450.73,287.70 450.98,287.87 451.23,288.03 451.48,288.20 451.73,288.36 451.98,288.52 452.23,288.68 452.49,288.84 452.74,289.00 452.99,289.15 453.24,289.31 453.49,289.46 453.74,289.61 453.99,289.76 454.24,289.90 454.49,290.05 454.74,290.19 454.99,290.34 455.24,290.48 455.49,290.62 455.74,290.76 455.99,290.90 456.24,291.03 456.49,291.17 456.74,291.30 456.99,291.44 457.24,291.57 457.49,291.70 457.74,291.83 457.99,291.96 458.24,292.09 458.49,292.22 458.74,292.35 458.99,292.47 459.24,292.60 459.49,292.72 459.74,292.85 459.99,292.97 460.24,293.09 460.49,293.21 460.74,293.33 460.99,293.45 461.24,293.57 461.49,293.69 461.74,293.81 461.99,293.93 462.24,294.05 462.49,294.16 462.74,294.28 462.99,294.39 463.24,294.51 463.49,294.62 463.74,294.74 463.99,294.85 464.24,294.96 464.49,295.07 464.74,295.19 464.99,295.30 465.24,295.41 465.49,295.52 465.74,295.63 465.99,295.74 466.24,295.85 466.49,295.96 466.74,296.06 466.99,296.17 467.24,296.28 467.49,296.39 467.74,296.49 467.99,296.60 468.24,296.71 468.49,296.81 468.74,296.92 468.99,297.02 469.24,297.13 469.49,297.23 469.74,297.34 469.99,297.44 470.24,297.55 470.50,297.65 470.75,297.75 471.00,297.86 471.25,297.96 471.50,298.06 471.75,298.16 472.00,298.27 472.25,298.37 472.50,298.47 472.75,298.57 473.00,298.68 473.25,298.78 473.50,298.88 473.75,298.98 474.00,299.08 474.25,299.18 474.50,299.28 474.75,299.38 475.00,299.48 475.25,299.59 475.50,299.69 475.75,299.79 476.00,299.89 476.25,299.99 476.50,300.09 476.75,300.19 477.00,300.29 477.25,300.39 477.50,300.49 477.75,300.59 478.00,300.69 478.25,300.79 478.50,300.89 478.75,300.99 479.00,301.09 479.25,301.19 479.50,301.29" fill="none" stroke="#e0101c" stroke-width="2.10" stroke-linejoin="round" stroke-dasharray="6 4"/><polyline points="299.40,249.67 299.65,249.64 299.90,249.61 300.15,249.58 300.40,249.55 300.65,249.52 300.90,249.49 301.15,249.46 301.40,249.42 301.65,249.39 301.90,249.35 302.15,249.32 302.40,249.28 302.65,249.25 302.90,249.21 303.15,249.17 303.40,249.13 303.65,249.09 303.90,249.05 304.15,249.01 304.40,248.97 304.65,248.93 304.90,248.89 305.15,248.84 305.40,248.80 305.65,248.76 305.90,248.71 306.15,248.66 306.40,248.62 306.65,248.57 306.90,248.52 307.15,248.47 307.40,248.42 307.65,248.37 307.90,248.32 308.15,248.27 308.40,248.22 308.66,248.17 308.91,248.11 309.16,248.06 309.41,248.00 309.66,247.95 309.91,247.89 310.16,247.83 310.41,247.78 310.66,247.72 310.91,247.66 311.16,247.60 311.41,247.53 311.66,247.47 311.91,247.41 312.16,247.35 312.41,247.28 312.66,247.22 312.91,247.15 313.16,247.08 313.41,247.02 313.66,246.95 313.91,246.88 314.16,246.81 314.41,246.74 314.66,246.66 314.91,246.59 315.16,246.52 315.41,246.44 315.66,246.37 315.91,246.29 316.16,246.21 316.41,246.13 316.66,246.05 316.91,245.97 317.16,245.89 317.41,245.81 317.66,245.73 317.91,245.64 318.16,245.55 318.41,245.47 318.66,245.38 318.91,245.29 319.16,245.20 319.41,245.11 319.66,245.02 319.91,244.92 320.16,244.83 320.41,244.73 320.66,244.63 320.91,244.54 321.16,244.44 321.41,244.34 321.66,244.23 321.91,244.13 322.16,244.02 322.41,243.92 322.66,243.81 322.91,243.70 323.16,243.59 323.41,243.48 323.66,243.36 323.91,243.25 324.16,243.13 324.41,243.01 324.66,242.89 324.91,242.77 325.16,242.64 325.41,242.52 325.66,242.39 325.91,242.26 326.16,242.13 326.41,241.99 326.67,241.86 326.92,241.72 327.17,241.58 327.42,241.44 327.67,241.30 327.92,241.15 328.17,241.00 328.42,240.85 328.67,240.70 328.92,240.54 329.17,240.38 329.42,240.22 329.67,240.05 329.92,239.89 330.17,239.72 330.42,239.54 330.67,239.37 330.92,239.19 331.17,239.00 331.42,238.82 331.67,238.63 331.92,238.43 332.17,238.23 332.42,238.03 332.67,237.82 332.92,237.61 333.17,237.40 333.42,237.18 333.67,236.95 333.92,236.72 334.17,236.48 334.42,236.24 334.67,235.99 334.92,235.74 335.17,235.48 335.42,235.21 335.67,234.94 335.92,234.65 336.17,234.36 336.42,234.06 336.67,233.76 336.92,233.44 337.17,233.11 337.42,232.77 337.67,232.42 337.92,232.06 338.17,231.68 338.42,231.29 338.67,230.89 338.92,230.46 339.17,230.02 339.42,229.57 339.67,229.09 339.92,228.58 340.17,228.06 340.42,227.50 340.67,226.92 340.92,226.30 341.17,225.64 341.42,224.95 341.67,224.21 341.92,223.42 342.17,222.58 342.42,221.68 342.67,220.72 342.92,219.71 343.17,218.65 343.42,217.56 343.67,216.52 343.92,215.60 344.17,214.95 344.42,214.70 344.68,214.92 344.93,215.54 345.18,216.44 345.43,217.46 345.68,218.51 345.93,219.55 346.18,220.54 346.43,221.47 346.68,222.34 346.93,223.15 347.18,223.91 347.43,224.63 347.68,225.29 347.93,225.92 348.18,226.51 348.43,227.07 348.68,227.60 348.93,228.10 349.18,228.58 349.43,229.03 349.68,229.46 349.93,229.87 350.18,230.27 350.43,230.65 350.68,231.01 350.93,231.36 351.18,231.70 351.43,232.02 351.68,232.33 351.93,232.63 352.18,232.92 352.43,233.21 352.68,233.48 352.93,233.74 353.18,234.00 353.43,234.25 353.68,234.49 353.93,234.72 354.18,234.95 354.43,235.17 354.68,235.38 354.93,235.59 355.18,235.80 355.43,236.00 355.68,236.19 355.93,236.38 356.18,236.56 356.43,236.74 356.68,236.92 356.93,237.09 357.18,237.26 357.43,237.42 357.68,237.58 357.93,237.74 358.18,237.89 358.43,238.04 358.68,238.19 358.93,238.33 359.18,238.47 359.43,238.61 359.68,238.74 359.93,238.87 360.18,239.00 360.43,239.13 360.68,239.25 360.93,239.38 361.18,239.50 361.43,239.61 361.68,239.73 361.93,239.84 362.18,239.95 362.44,240.06 362.69,240.17 362.94,240.27 363.19,240.37 363.44,240.47 363.69,240.57 363.94,240.67 364.19,240.76 364.44,240.86 364.69,240.95 364.94,241.04 365.19,241.13 365.44,241.21 365.69,241.30 365.94,241.38 366.19,241.47 366.44,241.55 366.69,241.63 366.94,241.70 367.19,241.78 367.44,241.86 367.69,241.93 367.94,242.00 368.19,242.07 368.44,242.14 368.69,242.21 368.94,242.28 369.19,242.35 369.44,242.41 369.69,242.48 369.94,242.54 370.19,242.60 370.44,242.66 370.69,242.72 370.94,242.78 371.19,242.84 371.44,242.89 371.69,242.95 371.94,243.00 372.19,243.06 372.44,243.11 372.69,243.16 372.94,243.21 373.19,243.26 373.44,243.31 373.69,243.35 373.94,243.40 374.19,243.45 374.44,243.49 374.69,243.53 374.94,243.58 375.19,243.62 375.44,243.66 375.69,243.70 375.94,243.74 376.19,243.78 376.44,243.82 376.69,243.85 376.94,243.89 377.19,243.92 377.44,243.96 377.69,243.99 377.94,244.02 378.19,244.06 378.44,244.09 378.69,244.12 378.94,244.15 379.19,244.18 379.44,244.20 379.69,244.23 379.94,244.26 380.19,244.28 380.44,244.31 380.70,244.33 380.95,244.36 381.20,244.38 381.45,244.40 381.70,244.42 381.95,244.44 382.20,244.46 382.45,244.48 382.70,244.50 382.95,244.52 383.20,244.54 383.45,244.55 383.70,244.57 383.95,244.58 384.20,244.60 384.45,244.61 384.70,244.62 384.95,244.64 385.20,244.65 385.45,244.66 385.70,244.67 385.95,244.68 386.20,244.69 386.45,244.70 386.70,244.70 386.95,244.71 387.20,244.72 387.45,244.72 387.70,244.73 387.95,244.73 388.20,244.74 388.45,244.74 388.70,244.74 388.95,244.74 389.20,244.74 389.45,244.74 389.70,244.74 389.95,244.74 390.20,244.74 390.45,244.74 390.70,244.74 390.95,244.73 391.20,244.73 391.45,244.72 391.70,244.72 391.95,244.71 392.20,244.70 392.45,244.70 392.70,244.69 392.95,244.68 393.20,244.67 393.45,244.66 393.70,244.65 393.95,244.64 394.20,244.62 394.45,244.61 394.70,244.60 394.95,244.58 395.20,244.57 395.45,244.55 395.70,244.54 395.95,244.52 396.20,244.50 396.45,244.48 396.70,244.46 396.95,244.44 397.20,244.42 397.45,244.40 397.70,244.38 397.95,244.36 398.20,244.33 398.45,244.31 398.71,244.28 398.96,244.26 399.21,244.23 399.46,244.20 399.71,244.18 399.96,244.15 400.21,244.12 400.46,244.09 400.71,244.06 400.96,244.02 401.21,243.99 401.46,243.96 401.71,243.92 401.96,243.89 402.21,243.85 402.46,243.82 402.71,243.78 402.96,243.74 403.21,243.70 403.46,243.66 403.71,243.62 403.96,243.58 404.21,243.53 404.46,243.49 404.71,243.45 404.96,243.40 405.21,243.35 405.46,243.31 405.71,243.26 405.96,243.21 406.21,243.16 406.46,243.11 406.71,243.06 406.96,243.00 407.21,242.95 407.46,242.89 407.71,242.84 407.96,242.78 408.21,242.72 408.46,242.66 408.71,242.60 408.96,242.54 409.21,242.48 409.46,242.41 409.71,242.35 409.96,242.28 410.21,242.21 410.46,242.14 410.71,242.07 410.96,242.00 411.21,241.93 411.46,241.86 411.71,241.78 411.96,241.70 412.21,241.63 412.46,241.55 412.71,241.47 412.96,241.38 413.21,241.30 413.46,241.21 413.71,241.13 413.96,241.04 414.21,240.95 414.46,240.86 414.71,240.76 414.96,240.67 415.21,240.57 415.46,240.47 415.71,240.37 415.96,240.27 416.21,240.17 416.46,240.06 416.72,239.95 416.97,239.84 417.22,239.73 417.47,239.61 417.72,239.50 417.97,239.38 418.22,239.25 418.47,239.13 418.72,239.00 418.97,238.87 419.22,238.74 419.47,238.61 419.72,238.47 419.97,238.33 420.22,238.19 420.47,238.04 420.72,237.89 420.97,237.74 421.22,237.58 421.47,237.42 421.72,237.26 421.97,237.09 422.22,236.92 422.47,236.74 422.72,236.56 422.97,236.38 423.22,236.19 423.47,236.00 423.72,235.80 423.97,235.59 424.22,235.38 424.47,235.17 424.72,234.95 424.97,234.72 425.22,234.49 425.47,234.25 425.72,234.00 425.97,233.74 426.22,233.48 426.47,233.21 426.72,232.92 426.97,232.63 427.22,232.33 427.47,232.02 427.72,231.70 427.97,231.36 428.22,231.01 428.47,230.65 428.72,230.27 428.97,229.87 429.22,229.46 429.47,229.03 429.72,228.58 429.97,228.10 430.22,227.60 430.47,227.07 430.72,226.51 430.97,225.92 431.22,225.29 431.47,224.63 431.72,223.91 431.97,223.15 432.22,222.34 432.47,221.47 432.72,220.54 432.97,219.55 433.22,218.51 433.47,217.46 433.72,216.44 433.97,215.54 434.22,214.92 434.48,214.70 434.73,214.95 434.98,215.60 435.23,216.52 435.48,217.56 435.73,218.65 435.98,219.71 436.23,220.72 436.48,221.68 436.73,222.58 436.98,223.42 437.23,224.21 437.48,224.95 437.73,225.64 437.98,226.30 438.23,226.92 438.48,227.50 438.73,228.06 438.98,228.58 439.23,229.09 439.48,229.57 439.73,230.02 439.98,230.46 440.23,230.89 440.48,231.29 440.73,231.68 440.98,232.06 441.23,232.42 441.48,232.77 441.73,233.11 441.98,233.44 442.23,233.76 442.48,234.06 442.73,234.36 442.98,234.65 443.23,234.94 443.48,235.21 443.73,235.48 443.98,235.74 444.23,235.99 444.48,236.24 444.73,236.48 444.98,236.72 445.23,236.95 445.48,237.18 445.73,237.40 445.98,237.61 446.23,237.82 446.48,238.03 446.73,238.23 446.98,238.43 447.23,238.63 447.48,238.82 447.73,239.00 447.98,239.19 448.23,239.37 448.48,239.54 448.73,239.72 448.98,239.89 449.23,240.05 449.48,240.22 449.73,240.38 449.98,240.54 450.23,240.70 450.48,240.85 450.73,241.00 450.98,241.15 451.23,241.30 451.48,241.44 451.73,241.58 451.98,241.72 452.23,241.86 452.49,241.99 452.74,242.13 452.99,242.26 453.24,242.39 453.49,242.52 453.74,242.64 453.99,242.77 454.24,242.89 454.49,243.01 454.74,243.13 454.99,243.25 455.24,243.36 455.49,243.48 455.74,243.59 455.99,243.70 456.24,243.81 456.49,243.92 456.74,244.02 456.99,244.13 457.24,244.23 457.49,244.34 457.74,244.44 457.99,244.54 458.24,244.63 458.49,244.73 458.74,244.83 458.99,244.92 459.24,245.02 459.49,245.11 459.74,245.20 459.99,245.29 460.24,245.38 460.49,245.47 460.74,245.55 460.99,245.64 461.24,245.73 461.49,245.81 461.74,245.89 461.99,245.97 462.24,246.05 462.49,246.13 462.74,246.21 462.99,246.29 463.24,246.37 463.49,246.44 463.74,246.52 463.99,246.59 464.24,246.66 464.49,246.74 464.74,246.81 464.99,246.88 465.24,246.95 465.49,247.02 465.74,247.08 465.99,247.15 466.24,247.22 466.49,247.28 466.74,247.35 466.99,247.41 467.24,247.47 467.49,247.53 467.74,247.60 467.99,247.66 468.24,247.72 468.49,247.78 468.74,247.83 468.99,247.89 469.24,247.95 469.49,248.00 469.74,248.06 469.99,248.11 470.24,248.17 470.50,248.22 470.75,248.27 471.00,248.32 471.25,248.37 471.50,248.42 471.75,248.47 472.00,248.52 472.25,248.57 472.50,248.62 472.75,248.66 473.00,248.71 473.25,248.76 473.50,248.80 473.75,248.84 474.00,248.89 474.25,248.93 474.50,248.97 474.75,249.01 475.00,249.05 475.25,249.09 475.50,249.13 475.75,249.17 476.00,249.21 476.25,249.25 476.50,249.28 476.75,249.32 477.00,249.35 477.25,249.39 477.50,249.42 477.75,249.46 478.00,249.49 478.25,249.52 478.50,249.55 478.75,249.58 479.00,249.61 479.25,249.64 479.50,249.67" fill="none" stroke="#000" stroke-width="2.30" stroke-linejoin="round"/></g>
<rect x="40.25" y="203.50" width="180.25" height="155.00" fill="none" stroke="#2a2a2a" stroke-width="1.50"/>
<rect x="299.40" y="203.00" width="180.10" height="155.60" fill="none" stroke="#2a2a2a" stroke-width="1.50"/>
<path d="M62.78 358.50v-1.80M62.78 203.50v1.80M85.31 358.50v-2.40M85.31 203.50v2.40M107.84 358.50v-1.80M107.84 203.50v1.80M130.38 358.50v-2.40M130.38 203.50v2.40M152.91 358.50v-1.80M152.91 203.50v1.80M175.44 358.50v-2.40M175.44 203.50v2.40M197.97 358.50v-1.80M197.97 203.50v1.80M40.25 332.67h1.80M220.50 332.67h-1.80M40.25 306.83h2.40M220.50 306.83h-2.40M40.25 281.00h1.80M220.50 281.00h-1.80M40.25 255.17h2.40M220.50 255.17h-2.40M40.25 229.33h1.80M220.50 229.33h-1.80" stroke="#2a2a2a" stroke-width="1.10" fill="none"/>
<path d="M321.91 358.60v-1.80M321.91 203.00v1.80M344.42 358.60v-2.40M344.42 203.00v2.40M366.94 358.60v-1.80M366.94 203.00v1.80M389.45 358.60v-2.40M389.45 203.00v2.40M411.96 358.60v-1.80M411.96 203.00v1.80M434.48 358.60v-2.40M434.48 203.00v2.40M456.99 358.60v-1.80M456.99 203.00v1.80M299.40 343.04h1.80M479.50 343.04h-1.80M299.40 327.48h2.40M479.50 327.48h-2.40M299.40 311.92h1.80M479.50 311.92h-1.80M299.40 296.36h2.40M479.50 296.36h-2.40M299.40 280.80h1.80M479.50 280.80h-1.80M299.40 265.24h2.40M479.50 265.24h-2.40M299.40 249.68h1.80M479.50 249.68h-1.80M299.40 234.12h2.40M479.50 234.12h-2.40M299.40 218.56h1.80M479.50 218.56h-1.80" stroke="#2a2a2a" stroke-width="1.10" fill="none"/>
<text class="t" x="39.95" y="372.30" text-anchor="middle">-2.0</text><text class="t" x="84.51" y="372.30" text-anchor="middle">-1.0</text><text class="t" x="130.68" y="372.30" text-anchor="middle">0.0</text><text class="t" x="175.74" y="372.30" text-anchor="middle">1.0</text><text class="t" x="220.80" y="372.30" text-anchor="middle">2.0</text>
<text class="t" x="299.10" y="373.50" text-anchor="middle">-2.0</text><text class="t" x="343.62" y="373.50" text-anchor="middle">-1.0</text><text class="t" x="389.75" y="373.50" text-anchor="middle">0.0</text><text class="t" x="434.78" y="373.50" text-anchor="middle">1.0</text><text class="t" x="479.80" y="373.50" text-anchor="middle">2.0</text>
<text class="t" x="35.80" y="363.20" text-anchor="end">-0.2</text><text class="t" x="35.80" y="311.53" text-anchor="end">0.0</text><text class="t" x="35.80" y="259.87" text-anchor="end">0.2</text><text class="t" x="35.80" y="207.00" text-anchor="end">0.4</text>
<text class="t" x="296.50" y="363.30" text-anchor="end">-0.2</text><text class="t" x="296.50" y="332.18" text-anchor="end">-0.1</text><text class="t" x="296.50" y="301.06" text-anchor="end">0.0</text><text class="t" x="296.50" y="269.94" text-anchor="end">0.1</text><text class="t" x="296.50" y="238.82" text-anchor="end">0.2</text><text class="t" x="296.50" y="207.70" text-anchor="end">0.3</text>
<text x="51.00" y="323.50" font-size="14.5" text-anchor="middle">(1)</text>
<text x="84.60" y="323.50" font-size="14.5" text-anchor="middle">(2)</text>
<text x="126.60" y="323.50" font-size="14.5" text-anchor="middle">(3)</text>
<text x="176.60" y="323.50" font-size="14.5" text-anchor="middle">(4)</text>
<text x="209.40" y="323.50" font-size="14.5" text-anchor="middle">(5)</text>
<text x="326.00" y="281.50" font-size="14.5" text-anchor="middle">(1)</text>
<text x="386.60" y="281.50" font-size="14.5" text-anchor="middle">(2)</text>
<text x="459.00" y="281.50" font-size="14.5" text-anchor="middle">(3)</text>
<text x="111" y="220" font-size="16" class="it">E<tspan font-size="10.9" dy="3">z</tspan><tspan dy="-3">l</tspan><tspan font-style="normal">=0.5</tspan>λ<tspan font-size="10.9" dy="3" font-style="normal">so</tspan></text>
<text x="365" y="223" font-size="16" class="it">E<tspan font-size="10.9" dy="3">z</tspan><tspan dy="-3">l</tspan><tspan font-style="normal">=2</tspan>λ<tspan font-size="10.9" dy="3" font-style="normal">so</tspan></text>
</svg></body></html>
